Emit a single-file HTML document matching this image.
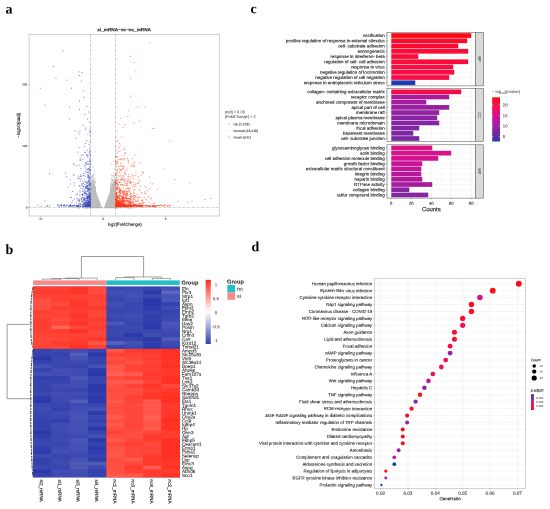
<!DOCTYPE html>
<html lang="en"><head><meta charset="utf-8"><title>Figure</title>
<style>
html,body{margin:0;padding:0;background:#fff;}
body{width:550px;height:509px;overflow:hidden;font-family:"Liberation Sans",sans-serif;}
svg{display:block;}
text{text-rendering:geometricPrecision;}
</style></head><body>
<svg width="550" height="509" viewBox="0 0 550 509">
<rect x="0" y="0" width="550" height="509" fill="#ffffff"/>
<text x="5.6" y="13.4" font-size="14" text-anchor="start" font-weight="bold" fill="#000" font-family='"Liberation Serif", serif' transform="rotate(0.03 5.6 13.4)">a</text>
<text x="5.6" y="254" font-size="14" text-anchor="start" font-weight="bold" fill="#000" font-family='"Liberation Serif", serif' transform="rotate(0.03 5.6 254)">b</text>
<text x="250.4" y="13.3" font-size="14" text-anchor="start" font-weight="bold" fill="#000" font-family='"Liberation Serif", serif' transform="rotate(0.03 250.4 13.3)">c</text>
<text x="251.4" y="251.2" font-size="14" text-anchor="start" font-weight="bold" fill="#000" font-family='"Liberation Serif", serif' transform="rotate(0.03 251.4 251.2)">d</text>
<g id="volcano">
<rect x="29.10" y="34.50" width="190.20" height="181.50" fill="#fff" stroke="#bdbdbd" stroke-width="0.7"/>
<polygon points="90.48,208.24 90.48,185.32 93.74,185.32 93.86,185.41 94.27,186.53 94.67,187.65 95.08,188.77 95.49,189.89 95.89,191.02 96.30,192.14 96.71,193.26 97.12,194.38 97.52,195.50 97.93,196.63 98.34,197.75 98.74,198.87 99.15,199.99 99.56,201.11 99.96,202.24 100.37,203.36 100.78,204.48 101.18,205.60 101.59,206.72 102.00,207.50 102.00,208.24" fill="#bcbcbc"/>
<polygon points="115.52,208.24 115.52,185.32 112.26,185.32 112.14,185.41 111.73,186.53 111.33,187.65 110.92,188.77 110.51,189.89 110.11,191.02 109.70,192.14 109.29,193.26 108.88,194.38 108.48,195.50 108.07,196.63 107.66,197.75 107.26,198.87 106.85,199.99 106.44,201.11 106.04,202.24 105.63,203.36 105.22,204.48 104.82,205.60 104.41,206.72 104.00,207.50 104.00,208.24" fill="#bcbcbc"/>
<g fill="#bcbcbc" fill-opacity="0.7">
<rect x="87.4" y="207.6" width="1" height="1"/>
<rect x="116.9" y="206.5" width="1" height="1"/>
<rect x="75.0" y="206.9" width="1" height="1"/>
<rect x="74.1" y="207.1" width="1" height="1"/>
<rect x="130.5" y="207.5" width="1" height="1"/>
<rect x="82.3" y="207.2" width="1" height="1"/>
<rect x="86.9" y="207.3" width="1" height="1"/>
<rect x="87.1" y="207.3" width="1" height="1"/>
<rect x="78.3" y="207.4" width="1" height="1"/>
<rect x="84.8" y="206.4" width="1" height="1"/>
<rect x="89.2" y="206.2" width="1" height="1"/>
<rect x="88.9" y="206.9" width="1" height="1"/>
<rect x="78.4" y="206.4" width="1" height="1"/>
<rect x="125.6" y="206.8" width="1" height="1"/>
<rect x="86.8" y="206.4" width="1" height="1"/>
<rect x="119.8" y="206.7" width="1" height="1"/>
<rect x="126.0" y="206.7" width="1" height="1"/>
<rect x="132.7" y="207.3" width="1" height="1"/>
<rect x="84.3" y="207.7" width="1" height="1"/>
<rect x="118.4" y="207.0" width="1" height="1"/>
<rect x="128.4" y="207.5" width="1" height="1"/>
<rect x="118.7" y="206.4" width="1" height="1"/>
<rect x="118.0" y="206.9" width="1" height="1"/>
<rect x="124.9" y="206.4" width="1" height="1"/>
<rect x="82.4" y="207.3" width="1" height="1"/>
<rect x="89.3" y="206.4" width="1" height="1"/>
<rect x="121.1" y="206.8" width="1" height="1"/>
<rect x="88.9" y="206.9" width="1" height="1"/>
<rect x="126.4" y="206.9" width="1" height="1"/>
<rect x="84.4" y="207.7" width="1" height="1"/>
<rect x="86.0" y="206.4" width="1" height="1"/>
<rect x="69.9" y="206.5" width="1" height="1"/>
<rect x="89.7" y="207.6" width="1" height="1"/>
<rect x="115.1" y="207.7" width="1" height="1"/>
<rect x="135.2" y="206.8" width="1" height="1"/>
<rect x="115.2" y="207.6" width="1" height="1"/>
<rect x="132.4" y="207.0" width="1" height="1"/>
<rect x="60.8" y="207.0" width="1" height="1"/>
<rect x="142.1" y="206.9" width="1" height="1"/>
<rect x="118.7" y="207.7" width="1" height="1"/>
<rect x="58.1" y="206.4" width="1" height="1"/>
<rect x="82.6" y="206.5" width="1" height="1"/>
<rect x="120.3" y="206.4" width="1" height="1"/>
<rect x="58.8" y="206.5" width="1" height="1"/>
<rect x="78.2" y="207.4" width="1" height="1"/>
<rect x="87.3" y="207.7" width="1" height="1"/>
<rect x="115.5" y="207.3" width="1" height="1"/>
<rect x="88.1" y="207.1" width="1" height="1"/>
<rect x="64.4" y="206.3" width="1" height="1"/>
<rect x="142.9" y="207.2" width="1" height="1"/>
<rect x="77.6" y="206.4" width="1" height="1"/>
<rect x="77.9" y="207.0" width="1" height="1"/>
<rect x="85.8" y="207.6" width="1" height="1"/>
<rect x="78.6" y="206.7" width="1" height="1"/>
<rect x="126.5" y="206.6" width="1" height="1"/>
<rect x="87.2" y="207.0" width="1" height="1"/>
<rect x="128.4" y="207.2" width="1" height="1"/>
<rect x="116.1" y="207.1" width="1" height="1"/>
<rect x="61.2" y="207.1" width="1" height="1"/>
<rect x="127.2" y="207.5" width="1" height="1"/>
<rect x="126.9" y="207.5" width="1" height="1"/>
<rect x="85.9" y="206.5" width="1" height="1"/>
<rect x="126.1" y="207.2" width="1" height="1"/>
<rect x="145.6" y="206.7" width="1" height="1"/>
<rect x="65.1" y="207.1" width="1" height="1"/>
<rect x="123.6" y="207.4" width="1" height="1"/>
<rect x="80.5" y="207.4" width="1" height="1"/>
<rect x="115.3" y="207.0" width="1" height="1"/>
<rect x="72.0" y="207.1" width="1" height="1"/>
<rect x="84.9" y="206.3" width="1" height="1"/>
<rect x="82.4" y="206.9" width="1" height="1"/>
<rect x="119.9" y="207.5" width="1" height="1"/>
<rect x="131.7" y="207.5" width="1" height="1"/>
<rect x="76.7" y="206.9" width="1" height="1"/>
<rect x="120.0" y="206.9" width="1" height="1"/>
<rect x="130.1" y="207.0" width="1" height="1"/>
<rect x="77.0" y="206.3" width="1" height="1"/>
<rect x="81.5" y="207.0" width="1" height="1"/>
<rect x="77.6" y="207.0" width="1" height="1"/>
<rect x="84.3" y="206.3" width="1" height="1"/>
<rect x="70.9" y="206.3" width="1" height="1"/>
<rect x="123.3" y="206.3" width="1" height="1"/>
<rect x="115.2" y="207.6" width="1" height="1"/>
<rect x="88.7" y="206.4" width="1" height="1"/>
<rect x="77.6" y="207.5" width="1" height="1"/>
<rect x="79.1" y="207.5" width="1" height="1"/>
<rect x="134.1" y="207.4" width="1" height="1"/>
<rect x="73.9" y="206.3" width="1" height="1"/>
<rect x="87.4" y="206.2" width="1" height="1"/>
<rect x="84.7" y="207.2" width="1" height="1"/>
<rect x="115.9" y="206.6" width="1" height="1"/>
<rect x="123.0" y="207.1" width="1" height="1"/>
<rect x="117.0" y="206.8" width="1" height="1"/>
<rect x="131.1" y="206.2" width="1" height="1"/>
<rect x="129.9" y="207.3" width="1" height="1"/>
<rect x="128.0" y="207.3" width="1" height="1"/>
<rect x="86.6" y="207.5" width="1" height="1"/>
<rect x="121.0" y="206.7" width="1" height="1"/>
<rect x="86.6" y="207.6" width="1" height="1"/>
<rect x="123.9" y="206.5" width="1" height="1"/>
<rect x="130.2" y="207.6" width="1" height="1"/>
<rect x="118.6" y="206.4" width="1" height="1"/>
<rect x="88.3" y="206.9" width="1" height="1"/>
<rect x="116.2" y="207.4" width="1" height="1"/>
<rect x="116.9" y="207.6" width="1" height="1"/>
<rect x="93.7" y="186.1" width="1" height="1"/>
<rect x="113.2" y="182.8" width="1" height="1"/>
<rect x="93.5" y="183.6" width="1" height="1"/>
<rect x="93.6" y="179.9" width="1" height="1"/>
<rect x="110.2" y="190.0" width="1" height="1"/>
<rect x="92.4" y="184.8" width="1" height="1"/>
<rect x="110.5" y="181.8" width="1" height="1"/>
<rect x="113.3" y="182.7" width="1" height="1"/>
<rect x="114.9" y="184.5" width="1" height="1"/>
<rect x="90.1" y="184.2" width="1" height="1"/>
<rect x="93.0" y="184.2" width="1" height="1"/>
<rect x="90.8" y="186.0" width="1" height="1"/>
<rect x="112.2" y="185.8" width="1" height="1"/>
<rect x="114.4" y="181.3" width="1" height="1"/>
<rect x="113.0" y="181.0" width="1" height="1"/>
<rect x="92.7" y="185.3" width="1" height="1"/>
<rect x="110.0" y="188.6" width="1" height="1"/>
<rect x="114.9" y="182.6" width="1" height="1"/>
<rect x="94.8" y="180.9" width="1" height="1"/>
<rect x="93.2" y="186.1" width="1" height="1"/>
<rect x="110.4" y="188.1" width="1" height="1"/>
<rect x="93.7" y="180.7" width="1" height="1"/>
<rect x="93.7" y="186.6" width="1" height="1"/>
<rect x="113.0" y="183.9" width="1" height="1"/>
<rect x="111.5" y="185.3" width="1" height="1"/>
<rect x="91.7" y="180.6" width="1" height="1"/>
<rect x="113.8" y="180.6" width="1" height="1"/>
<rect x="110.8" y="183.0" width="1" height="1"/>
<rect x="94.8" y="182.2" width="1" height="1"/>
<rect x="113.7" y="178.8" width="1" height="1"/>
<rect x="90.4" y="180.0" width="1" height="1"/>
<rect x="90.8" y="182.3" width="1" height="1"/>
<rect x="94.6" y="189.3" width="1" height="1"/>
<rect x="114.8" y="184.0" width="1" height="1"/>
<rect x="112.8" y="181.8" width="1" height="1"/>
<rect x="92.5" y="186.0" width="1" height="1"/>
<rect x="91.2" y="183.0" width="1" height="1"/>
<rect x="91.7" y="185.8" width="1" height="1"/>
<rect x="111.3" y="186.8" width="1" height="1"/>
<rect x="111.2" y="181.3" width="1" height="1"/>
<rect x="91.3" y="170.0" width="1" height="1"/>
<rect x="114.2" y="185.7" width="1" height="1"/>
<rect x="113.9" y="181.9" width="1" height="1"/>
<rect x="94.6" y="188.9" width="1" height="1"/>
<rect x="113.3" y="181.0" width="1" height="1"/>
<rect x="94.9" y="190.2" width="1" height="1"/>
<rect x="114.9" y="185.6" width="1" height="1"/>
<rect x="91.6" y="184.6" width="1" height="1"/>
<rect x="112.3" y="183.3" width="1" height="1"/>
<rect x="90.0" y="182.6" width="1" height="1"/>
<rect x="114.9" y="174.2" width="1" height="1"/>
<rect x="93.5" y="186.3" width="1" height="1"/>
<rect x="115.0" y="183.9" width="1" height="1"/>
<rect x="94.6" y="189.2" width="1" height="1"/>
<rect x="114.8" y="185.4" width="1" height="1"/>
<rect x="114.5" y="180.8" width="1" height="1"/>
<rect x="92.5" y="177.0" width="1" height="1"/>
<rect x="110.1" y="190.3" width="1" height="1"/>
<rect x="113.4" y="183.8" width="1" height="1"/>
<rect x="92.9" y="184.0" width="1" height="1"/>
<rect x="90.8" y="186.0" width="1" height="1"/>
<rect x="114.2" y="185.5" width="1" height="1"/>
<rect x="91.4" y="176.1" width="1" height="1"/>
<rect x="111.3" y="186.8" width="1" height="1"/>
<rect x="115.0" y="182.2" width="1" height="1"/>
<rect x="114.6" y="180.0" width="1" height="1"/>
<rect x="93.6" y="186.5" width="1" height="1"/>
<rect x="113.2" y="185.4" width="1" height="1"/>
<rect x="112.2" y="184.4" width="1" height="1"/>
<rect x="113.9" y="183.6" width="1" height="1"/>
<rect x="90.9" y="181.8" width="1" height="1"/>
<rect x="91.4" y="185.8" width="1" height="1"/>
<rect x="112.3" y="180.0" width="1" height="1"/>
<rect x="112.4" y="175.6" width="1" height="1"/>
<rect x="94.1" y="186.0" width="1" height="1"/>
<rect x="111.5" y="180.7" width="1" height="1"/>
<rect x="112.0" y="184.9" width="1" height="1"/>
<rect x="112.8" y="183.9" width="1" height="1"/>
<rect x="91.8" y="185.7" width="1" height="1"/>
<rect x="112.8" y="183.5" width="1" height="1"/>
<rect x="115.0" y="183.5" width="1" height="1"/>
<rect x="92.2" y="184.8" width="1" height="1"/>
<rect x="93.3" y="185.6" width="1" height="1"/>
<rect x="93.1" y="178.9" width="1" height="1"/>
<rect x="90.5" y="180.1" width="1" height="1"/>
<rect x="111.9" y="180.1" width="1" height="1"/>
<rect x="93.1" y="184.3" width="1" height="1"/>
<rect x="92.5" y="182.4" width="1" height="1"/>
<rect x="110.6" y="185.9" width="1" height="1"/>
<rect x="94.5" y="179.6" width="1" height="1"/>
<rect x="112.0" y="183.5" width="1" height="1"/>
<rect x="114.3" y="177.2" width="1" height="1"/>
<rect x="94.4" y="186.5" width="1" height="1"/>
<rect x="114.9" y="183.2" width="1" height="1"/>
<rect x="93.0" y="174.8" width="1" height="1"/>
<rect x="114.9" y="184.8" width="1" height="1"/>
<rect x="93.9" y="186.8" width="1" height="1"/>
<rect x="90.3" y="180.5" width="1" height="1"/>
<rect x="110.4" y="183.0" width="1" height="1"/>
<rect x="91.1" y="184.9" width="1" height="1"/>
<rect x="91.8" y="184.5" width="1" height="1"/>
<rect x="91.9" y="182.8" width="1" height="1"/>
<rect x="113.5" y="185.5" width="1" height="1"/>
<rect x="93.5" y="174.1" width="1" height="1"/>
<rect x="93.0" y="185.0" width="1" height="1"/>
<rect x="94.9" y="188.9" width="1" height="1"/>
<rect x="111.4" y="185.1" width="1" height="1"/>
<rect x="92.6" y="184.9" width="1" height="1"/>
<rect x="94.8" y="187.9" width="1" height="1"/>
<rect x="110.3" y="188.9" width="1" height="1"/>
<rect x="110.4" y="188.4" width="1" height="1"/>
<rect x="114.6" y="184.9" width="1" height="1"/>
<rect x="91.5" y="180.6" width="1" height="1"/>
<rect x="113.4" y="185.1" width="1" height="1"/>
<rect x="113.7" y="183.0" width="1" height="1"/>
<rect x="92.5" y="185.1" width="1" height="1"/>
<rect x="93.8" y="186.4" width="1" height="1"/>
<rect x="110.6" y="184.9" width="1" height="1"/>
<rect x="90.5" y="183.2" width="1" height="1"/>
<rect x="90.2" y="185.4" width="1" height="1"/>
<rect x="110.3" y="189.8" width="1" height="1"/>
<rect x="92.9" y="180.7" width="1" height="1"/>
<rect x="93.0" y="176.2" width="1" height="1"/>
<rect x="113.7" y="160.2" width="1" height="1"/>
<rect x="93.3" y="185.2" width="1" height="1"/>
<rect x="110.2" y="185.5" width="1" height="1"/>
<rect x="114.2" y="168.0" width="1" height="1"/>
<rect x="110.9" y="188.3" width="1" height="1"/>
<rect x="110.4" y="187.2" width="1" height="1"/>
<rect x="92.2" y="179.9" width="1" height="1"/>
<rect x="111.8" y="178.6" width="1" height="1"/>
<rect x="110.5" y="184.1" width="1" height="1"/>
<rect x="93.1" y="175.2" width="1" height="1"/>
<rect x="93.4" y="180.4" width="1" height="1"/>
<rect x="110.2" y="187.9" width="1" height="1"/>
<rect x="110.2" y="189.9" width="1" height="1"/>
<rect x="91.0" y="185.8" width="1" height="1"/>
<rect x="91.2" y="176.2" width="1" height="1"/>
<rect x="111.8" y="184.3" width="1" height="1"/>
<rect x="93.7" y="181.6" width="1" height="1"/>
<rect x="114.6" y="184.5" width="1" height="1"/>
<rect x="94.9" y="189.1" width="1" height="1"/>
<rect x="113.6" y="183.4" width="1" height="1"/>
<rect x="114.0" y="175.5" width="1" height="1"/>
<rect x="110.7" y="185.8" width="1" height="1"/>
<rect x="91.0" y="180.3" width="1" height="1"/>
<rect x="91.9" y="184.3" width="1" height="1"/>
<rect x="112.3" y="179.5" width="1" height="1"/>
<rect x="92.4" y="183.9" width="1" height="1"/>
<rect x="93.7" y="186.9" width="1" height="1"/>
<rect x="92.6" y="182.7" width="1" height="1"/>
<rect x="90.1" y="176.8" width="1" height="1"/>
<rect x="93.7" y="186.6" width="1" height="1"/>
<rect x="92.9" y="166.8" width="1" height="1"/>
<rect x="110.9" y="187.6" width="1" height="1"/>
<rect x="113.1" y="181.2" width="1" height="1"/>
<rect x="91.1" y="184.6" width="1" height="1"/>
<rect x="112.9" y="184.0" width="1" height="1"/>
<rect x="111.0" y="186.6" width="1" height="1"/>
<rect x="93.8" y="185.9" width="1" height="1"/>
<rect x="93.4" y="183.9" width="1" height="1"/>
<rect x="92.4" y="184.9" width="1" height="1"/>
<rect x="91.7" y="165.8" width="1" height="1"/>
<rect x="95.0" y="181.3" width="1" height="1"/>
<rect x="90.8" y="175.5" width="1" height="1"/>
<rect x="90.6" y="184.9" width="1" height="1"/>
<rect x="94.0" y="172.4" width="1" height="1"/>
<rect x="90.3" y="184.0" width="1" height="1"/>
<rect x="92.7" y="184.8" width="1" height="1"/>
<rect x="94.5" y="185.3" width="1" height="1"/>
<rect x="111.1" y="185.6" width="1" height="1"/>
<rect x="94.8" y="151.3" width="1" height="1"/>
<rect x="92.0" y="181.5" width="1" height="1"/>
<rect x="90.9" y="178.7" width="1" height="1"/>
<rect x="113.4" y="185.2" width="1" height="1"/>
<rect x="110.4" y="189.4" width="1" height="1"/>
<rect x="112.8" y="185.8" width="1" height="1"/>
<rect x="91.0" y="181.4" width="1" height="1"/>
<rect x="91.8" y="185.6" width="1" height="1"/>
<rect x="93.0" y="184.7" width="1" height="1"/>
<rect x="113.4" y="183.7" width="1" height="1"/>
<rect x="93.4" y="182.7" width="1" height="1"/>
<rect x="112.1" y="186.0" width="1" height="1"/>
<rect x="113.2" y="183.9" width="1" height="1"/>
<rect x="111.0" y="187.8" width="1" height="1"/>
<rect x="92.9" y="178.7" width="1" height="1"/>
<rect x="112.9" y="184.1" width="1" height="1"/>
<rect x="94.3" y="188.6" width="1" height="1"/>
<rect x="91.8" y="175.7" width="1" height="1"/>
<rect x="92.1" y="174.8" width="1" height="1"/>
<rect x="94.3" y="187.2" width="1" height="1"/>
<rect x="90.4" y="185.6" width="1" height="1"/>
<rect x="113.8" y="179.3" width="1" height="1"/>
<rect x="93.5" y="178.6" width="1" height="1"/>
<rect x="90.1" y="183.2" width="1" height="1"/>
<rect x="91.9" y="181.7" width="1" height="1"/>
<rect x="90.5" y="181.9" width="1" height="1"/>
<rect x="91.8" y="177.7" width="1" height="1"/>
<rect x="113.1" y="185.1" width="1" height="1"/>
<rect x="110.9" y="187.0" width="1" height="1"/>
<rect x="114.7" y="185.3" width="1" height="1"/>
<rect x="110.6" y="187.7" width="1" height="1"/>
<rect x="94.8" y="186.5" width="1" height="1"/>
<rect x="91.6" y="184.4" width="1" height="1"/>
<rect x="113.0" y="182.6" width="1" height="1"/>
<rect x="113.3" y="184.5" width="1" height="1"/>
<rect x="92.9" y="181.4" width="1" height="1"/>
<rect x="112.5" y="185.2" width="1" height="1"/>
<rect x="91.9" y="183.2" width="1" height="1"/>
<rect x="92.8" y="181.9" width="1" height="1"/>
<rect x="114.2" y="178.9" width="1" height="1"/>
<rect x="110.5" y="188.6" width="1" height="1"/>
<rect x="111.8" y="179.1" width="1" height="1"/>
<rect x="94.8" y="189.5" width="1" height="1"/>
<rect x="113.9" y="183.0" width="1" height="1"/>
<rect x="91.2" y="176.3" width="1" height="1"/>
<rect x="94.9" y="190.0" width="1" height="1"/>
<rect x="94.0" y="170.7" width="1" height="1"/>
<rect x="111.5" y="179.5" width="1" height="1"/>
<rect x="91.6" y="180.6" width="1" height="1"/>
<rect x="94.7" y="187.9" width="1" height="1"/>
<rect x="110.8" y="178.7" width="1" height="1"/>
<rect x="114.5" y="183.4" width="1" height="1"/>
<rect x="112.5" y="175.2" width="1" height="1"/>
<rect x="92.0" y="181.9" width="1" height="1"/>
<rect x="93.4" y="186.1" width="1" height="1"/>
<rect x="93.0" y="181.7" width="1" height="1"/>
<rect x="113.4" y="176.3" width="1" height="1"/>
<rect x="91.0" y="184.7" width="1" height="1"/>
<rect x="91.8" y="184.1" width="1" height="1"/>
<rect x="112.8" y="182.3" width="1" height="1"/>
<rect x="93.7" y="183.8" width="1" height="1"/>
<rect x="113.7" y="184.1" width="1" height="1"/>
<rect x="115.0" y="182.3" width="1" height="1"/>
<rect x="111.7" y="185.7" width="1" height="1"/>
<rect x="94.1" y="182.3" width="1" height="1"/>
<rect x="93.5" y="183.4" width="1" height="1"/>
<rect x="113.2" y="168.2" width="1" height="1"/>
<rect x="113.7" y="180.1" width="1" height="1"/>
<rect x="94.2" y="184.4" width="1" height="1"/>
<rect x="112.1" y="184.1" width="1" height="1"/>
<rect x="94.3" y="187.7" width="1" height="1"/>
<rect x="94.9" y="190.3" width="1" height="1"/>
<rect x="111.5" y="183.2" width="1" height="1"/>
<rect x="92.9" y="184.5" width="1" height="1"/>
<rect x="94.0" y="183.6" width="1" height="1"/>
<rect x="110.8" y="188.4" width="1" height="1"/>
<rect x="91.4" y="183.5" width="1" height="1"/>
<rect x="91.8" y="177.2" width="1" height="1"/>
<rect x="112.0" y="184.7" width="1" height="1"/>
<rect x="94.7" y="182.4" width="1" height="1"/>
<rect x="113.0" y="182.3" width="1" height="1"/>
<rect x="111.3" y="177.1" width="1" height="1"/>
<rect x="94.7" y="189.7" width="1" height="1"/>
<rect x="93.8" y="187.1" width="1" height="1"/>
<rect x="94.9" y="187.0" width="1" height="1"/>
<rect x="94.3" y="187.7" width="1" height="1"/>
<rect x="114.1" y="185.2" width="1" height="1"/>
<rect x="110.3" y="185.5" width="1" height="1"/>
<rect x="113.6" y="186.0" width="1" height="1"/>
<rect x="113.7" y="183.4" width="1" height="1"/>
<rect x="110.9" y="163.7" width="1" height="1"/>
<rect x="111.2" y="187.2" width="1" height="1"/>
<rect x="114.5" y="174.9" width="1" height="1"/>
<rect x="113.6" y="184.7" width="1" height="1"/>
<rect x="113.4" y="175.3" width="1" height="1"/>
<rect x="111.5" y="175.2" width="1" height="1"/>
<rect x="94.6" y="186.4" width="1" height="1"/>
<rect x="93.7" y="185.9" width="1" height="1"/>
<rect x="90.3" y="180.1" width="1" height="1"/>
<rect x="111.0" y="185.9" width="1" height="1"/>
<rect x="93.1" y="177.8" width="1" height="1"/>
<rect x="112.4" y="182.8" width="1" height="1"/>
<rect x="90.7" y="183.6" width="1" height="1"/>
<rect x="92.1" y="184.5" width="1" height="1"/>
<rect x="93.0" y="182.3" width="1" height="1"/>
<rect x="94.3" y="188.5" width="1" height="1"/>
<rect x="91.9" y="185.3" width="1" height="1"/>
<rect x="91.5" y="185.9" width="1" height="1"/>
<rect x="91.5" y="181.7" width="1" height="1"/>
<rect x="91.3" y="185.8" width="1" height="1"/>
<rect x="111.0" y="174.5" width="1" height="1"/>
<rect x="90.6" y="180.0" width="1" height="1"/>
<rect x="110.5" y="188.2" width="1" height="1"/>
<rect x="94.8" y="177.3" width="1" height="1"/>
<rect x="90.9" y="181.8" width="1" height="1"/>
<rect x="112.4" y="185.4" width="1" height="1"/>
<rect x="93.5" y="184.8" width="1" height="1"/>
<rect x="110.1" y="189.1" width="1" height="1"/>
<rect x="110.3" y="183.8" width="1" height="1"/>
<rect x="113.9" y="182.1" width="1" height="1"/>
<rect x="114.3" y="181.9" width="1" height="1"/>
<rect x="91.0" y="185.9" width="1" height="1"/>
<rect x="93.3" y="180.8" width="1" height="1"/>
<rect x="91.4" y="178.5" width="1" height="1"/>
<rect x="110.9" y="188.3" width="1" height="1"/>
<rect x="93.5" y="180.7" width="1" height="1"/>
<rect x="95.0" y="187.7" width="1" height="1"/>
<rect x="113.5" y="178.5" width="1" height="1"/>
<rect x="113.0" y="172.5" width="1" height="1"/>
</g>
<line x1="90.48" y1="34.5" x2="90.48" y2="216" stroke="#8a8a8a" stroke-width="0.5" stroke-dasharray="2.2 1 0.6 1"/>
<line x1="115.52" y1="34.5" x2="115.52" y2="216" stroke="#8a8a8a" stroke-width="0.5" stroke-dasharray="2.2 1 0.6 1"/>
<line x1="29.1" y1="207.5" x2="219.3" y2="207.5" stroke="#9a9a9a" stroke-width="0.5" stroke-dasharray="2.2 1 0.6 1"/>
<g fill="#3c4cc0" fill-opacity="0.68">
<rect x="87.1" y="188.1" width="1" height="1"/>
<rect x="89.3" y="170.8" width="1" height="1"/>
<rect x="78.8" y="200.7" width="1" height="1"/>
<rect x="89.3" y="147.7" width="1" height="1"/>
<rect x="84.1" y="192.1" width="1" height="1"/>
<rect x="86.7" y="203.9" width="1" height="1"/>
<rect x="88.4" y="204.1" width="1" height="1"/>
<rect x="79.4" y="159.6" width="1" height="1"/>
<rect x="84.5" y="194.7" width="1" height="1"/>
<rect x="85.8" y="196.5" width="1" height="1"/>
<rect x="88.5" y="194.5" width="1" height="1"/>
<rect x="86.8" y="202.3" width="1" height="1"/>
<rect x="73.8" y="185.3" width="1" height="1"/>
<rect x="78.4" y="203.4" width="1" height="1"/>
<rect x="86.4" y="181.7" width="1" height="1"/>
<rect x="86.3" y="205.5" width="1" height="1"/>
<rect x="86.5" y="190.8" width="1" height="1"/>
<rect x="81.9" y="193.7" width="1" height="1"/>
<rect x="86.7" y="198.0" width="1" height="1"/>
<rect x="87.5" y="181.7" width="1" height="1"/>
<rect x="88.8" y="200.7" width="1" height="1"/>
<rect x="88.4" y="184.6" width="1" height="1"/>
<rect x="85.2" y="191.4" width="1" height="1"/>
<rect x="88.7" y="176.8" width="1" height="1"/>
<rect x="83.0" y="186.1" width="1" height="1"/>
<rect x="84.8" y="129.1" width="1" height="1"/>
<rect x="84.8" y="186.9" width="1" height="1"/>
<rect x="88.3" y="200.6" width="1" height="1"/>
<rect x="77.5" y="199.9" width="1" height="1"/>
<rect x="89.3" y="183.7" width="1" height="1"/>
<rect x="89.1" y="202.8" width="1" height="1"/>
<rect x="89.3" y="198.7" width="1" height="1"/>
<rect x="88.6" y="199.5" width="1" height="1"/>
<rect x="89.5" y="155.4" width="1" height="1"/>
<rect x="88.7" y="160.9" width="1" height="1"/>
<rect x="87.5" y="205.9" width="1" height="1"/>
<rect x="82.3" y="194.2" width="1" height="1"/>
<rect x="88.6" y="205.7" width="1" height="1"/>
<rect x="88.8" y="178.1" width="1" height="1"/>
<rect x="90.0" y="200.4" width="1" height="1"/>
<rect x="82.3" y="180.9" width="1" height="1"/>
<rect x="86.4" y="184.4" width="1" height="1"/>
<rect x="82.5" y="183.1" width="1" height="1"/>
<rect x="85.7" y="162.2" width="1" height="1"/>
<rect x="85.9" y="187.8" width="1" height="1"/>
<rect x="88.9" y="202.0" width="1" height="1"/>
<rect x="89.4" y="194.3" width="1" height="1"/>
<rect x="88.8" y="180.9" width="1" height="1"/>
<rect x="81.0" y="200.4" width="1" height="1"/>
<rect x="87.9" y="180.1" width="1" height="1"/>
<rect x="89.3" y="166.5" width="1" height="1"/>
<rect x="87.3" y="205.8" width="1" height="1"/>
<rect x="82.1" y="190.9" width="1" height="1"/>
<rect x="85.6" y="163.0" width="1" height="1"/>
<rect x="81.0" y="197.9" width="1" height="1"/>
<rect x="89.9" y="168.9" width="1" height="1"/>
<rect x="80.4" y="203.8" width="1" height="1"/>
<rect x="88.8" y="201.1" width="1" height="1"/>
<rect x="84.9" y="142.9" width="1" height="1"/>
<rect x="89.1" y="197.2" width="1" height="1"/>
<rect x="82.5" y="193.4" width="1" height="1"/>
<rect x="89.1" y="192.7" width="1" height="1"/>
<rect x="89.9" y="173.3" width="1" height="1"/>
<rect x="88.1" y="197.4" width="1" height="1"/>
<rect x="84.6" y="193.4" width="1" height="1"/>
<rect x="71.4" y="201.9" width="1" height="1"/>
<rect x="87.1" y="149.7" width="1" height="1"/>
<rect x="84.7" y="186.3" width="1" height="1"/>
<rect x="85.9" y="200.1" width="1" height="1"/>
<rect x="88.1" y="204.9" width="1" height="1"/>
<rect x="89.7" y="154.5" width="1" height="1"/>
<rect x="86.0" y="182.7" width="1" height="1"/>
<rect x="86.5" y="203.8" width="1" height="1"/>
<rect x="88.5" y="195.5" width="1" height="1"/>
<rect x="77.7" y="131.7" width="1" height="1"/>
<rect x="77.0" y="193.2" width="1" height="1"/>
<rect x="89.3" y="150.7" width="1" height="1"/>
<rect x="89.7" y="172.7" width="1" height="1"/>
<rect x="89.1" y="184.7" width="1" height="1"/>
<rect x="84.9" y="170.9" width="1" height="1"/>
<rect x="89.3" y="183.2" width="1" height="1"/>
<rect x="82.9" y="173.0" width="1" height="1"/>
<rect x="84.3" y="184.2" width="1" height="1"/>
<rect x="83.9" y="192.9" width="1" height="1"/>
<rect x="83.8" y="200.7" width="1" height="1"/>
<rect x="85.1" y="181.8" width="1" height="1"/>
<rect x="73.7" y="182.4" width="1" height="1"/>
<rect x="87.3" y="171.9" width="1" height="1"/>
<rect x="83.6" y="196.9" width="1" height="1"/>
<rect x="85.7" y="198.1" width="1" height="1"/>
<rect x="87.3" y="185.7" width="1" height="1"/>
<rect x="89.6" y="158.6" width="1" height="1"/>
<rect x="89.3" y="198.6" width="1" height="1"/>
<rect x="88.0" y="204.3" width="1" height="1"/>
<rect x="86.6" y="198.0" width="1" height="1"/>
<rect x="78.5" y="190.4" width="1" height="1"/>
<rect x="88.3" y="187.9" width="1" height="1"/>
<rect x="85.7" y="201.3" width="1" height="1"/>
<rect x="89.7" y="198.9" width="1" height="1"/>
<rect x="86.2" y="188.1" width="1" height="1"/>
<rect x="82.3" y="201.9" width="1" height="1"/>
<rect x="87.6" y="174.0" width="1" height="1"/>
<rect x="89.0" y="195.4" width="1" height="1"/>
<rect x="86.9" y="186.5" width="1" height="1"/>
<rect x="89.6" y="157.6" width="1" height="1"/>
<rect x="86.8" y="185.0" width="1" height="1"/>
<rect x="88.6" y="191.9" width="1" height="1"/>
<rect x="89.0" y="204.5" width="1" height="1"/>
<rect x="82.7" y="182.9" width="1" height="1"/>
<rect x="89.5" y="203.6" width="1" height="1"/>
<rect x="87.8" y="169.4" width="1" height="1"/>
<rect x="87.4" y="189.1" width="1" height="1"/>
<rect x="87.3" y="156.8" width="1" height="1"/>
<rect x="85.2" y="200.3" width="1" height="1"/>
<rect x="89.3" y="187.0" width="1" height="1"/>
<rect x="84.7" y="202.5" width="1" height="1"/>
<rect x="88.4" y="181.3" width="1" height="1"/>
<rect x="87.2" y="198.8" width="1" height="1"/>
<rect x="87.5" y="194.6" width="1" height="1"/>
<rect x="85.5" y="202.0" width="1" height="1"/>
<rect x="88.2" y="184.4" width="1" height="1"/>
<rect x="89.9" y="205.2" width="1" height="1"/>
<rect x="83.4" y="204.1" width="1" height="1"/>
<rect x="87.3" y="176.6" width="1" height="1"/>
<rect x="89.4" y="201.2" width="1" height="1"/>
<rect x="87.8" y="203.4" width="1" height="1"/>
<rect x="89.6" y="183.7" width="1" height="1"/>
<rect x="88.3" y="174.6" width="1" height="1"/>
<rect x="86.7" y="155.2" width="1" height="1"/>
<rect x="88.6" y="197.4" width="1" height="1"/>
<rect x="88.8" y="205.1" width="1" height="1"/>
<rect x="88.6" y="197.0" width="1" height="1"/>
<rect x="87.3" y="197.7" width="1" height="1"/>
<rect x="73.3" y="163.0" width="1" height="1"/>
<rect x="88.3" y="201.4" width="1" height="1"/>
<rect x="87.3" y="203.6" width="1" height="1"/>
<rect x="89.1" y="180.0" width="1" height="1"/>
<rect x="89.4" y="130.7" width="1" height="1"/>
<rect x="87.9" y="189.3" width="1" height="1"/>
<rect x="87.9" y="188.3" width="1" height="1"/>
<rect x="87.9" y="203.8" width="1" height="1"/>
<rect x="89.8" y="170.1" width="1" height="1"/>
<rect x="87.4" y="175.8" width="1" height="1"/>
<rect x="89.7" y="191.6" width="1" height="1"/>
<rect x="86.8" y="196.3" width="1" height="1"/>
<rect x="89.3" y="182.7" width="1" height="1"/>
<rect x="85.3" y="162.4" width="1" height="1"/>
<rect x="89.6" y="205.4" width="1" height="1"/>
<rect x="86.0" y="185.6" width="1" height="1"/>
<rect x="89.2" y="183.4" width="1" height="1"/>
<rect x="81.8" y="194.7" width="1" height="1"/>
<rect x="89.6" y="150.3" width="1" height="1"/>
<rect x="89.9" y="163.2" width="1" height="1"/>
<rect x="89.4" y="198.4" width="1" height="1"/>
<rect x="85.0" y="164.7" width="1" height="1"/>
<rect x="89.2" y="205.5" width="1" height="1"/>
<rect x="89.9" y="188.7" width="1" height="1"/>
<rect x="86.5" y="154.9" width="1" height="1"/>
<rect x="87.2" y="190.7" width="1" height="1"/>
<rect x="83.0" y="175.1" width="1" height="1"/>
<rect x="87.8" y="181.3" width="1" height="1"/>
<rect x="87.9" y="204.7" width="1" height="1"/>
<rect x="85.4" y="187.3" width="1" height="1"/>
<rect x="85.7" y="202.7" width="1" height="1"/>
<rect x="84.1" y="189.5" width="1" height="1"/>
<rect x="89.6" y="192.8" width="1" height="1"/>
<rect x="80.9" y="185.6" width="1" height="1"/>
<rect x="87.7" y="206.0" width="1" height="1"/>
<rect x="82.1" y="201.0" width="1" height="1"/>
<rect x="89.5" y="192.8" width="1" height="1"/>
<rect x="88.7" y="188.6" width="1" height="1"/>
<rect x="87.6" y="177.6" width="1" height="1"/>
<rect x="79.7" y="196.7" width="1" height="1"/>
<rect x="84.5" y="181.3" width="1" height="1"/>
<rect x="89.4" y="176.4" width="1" height="1"/>
<rect x="88.6" y="189.1" width="1" height="1"/>
<rect x="87.2" y="183.0" width="1" height="1"/>
<rect x="81.1" y="154.9" width="1" height="1"/>
<rect x="89.8" y="205.5" width="1" height="1"/>
<rect x="89.7" y="161.2" width="1" height="1"/>
<rect x="85.3" y="186.0" width="1" height="1"/>
<rect x="88.0" y="198.4" width="1" height="1"/>
<rect x="86.3" y="140.0" width="1" height="1"/>
<rect x="82.8" y="186.5" width="1" height="1"/>
<rect x="88.5" y="144.0" width="1" height="1"/>
<rect x="84.8" y="192.9" width="1" height="1"/>
<rect x="89.3" y="135.2" width="1" height="1"/>
<rect x="89.5" y="141.8" width="1" height="1"/>
<rect x="89.3" y="172.3" width="1" height="1"/>
<rect x="87.4" y="174.7" width="1" height="1"/>
<rect x="87.6" y="199.6" width="1" height="1"/>
<rect x="84.3" y="197.7" width="1" height="1"/>
<rect x="88.7" y="185.8" width="1" height="1"/>
<rect x="85.8" y="172.3" width="1" height="1"/>
<rect x="86.3" y="163.5" width="1" height="1"/>
<rect x="84.8" y="205.9" width="1" height="1"/>
<rect x="89.3" y="168.8" width="1" height="1"/>
<rect x="88.8" y="195.9" width="1" height="1"/>
<rect x="88.1" y="175.3" width="1" height="1"/>
<rect x="88.9" y="193.6" width="1" height="1"/>
<rect x="85.3" y="198.1" width="1" height="1"/>
<rect x="88.7" y="202.6" width="1" height="1"/>
<rect x="79.8" y="176.0" width="1" height="1"/>
<rect x="83.9" y="199.1" width="1" height="1"/>
<rect x="89.4" y="159.9" width="1" height="1"/>
<rect x="89.3" y="128.6" width="1" height="1"/>
<rect x="83.6" y="189.6" width="1" height="1"/>
<rect x="84.0" y="191.7" width="1" height="1"/>
<rect x="86.9" y="189.9" width="1" height="1"/>
<rect x="87.3" y="196.1" width="1" height="1"/>
<rect x="83.8" y="179.4" width="1" height="1"/>
<rect x="73.8" y="198.4" width="1" height="1"/>
<rect x="89.7" y="195.7" width="1" height="1"/>
<rect x="85.0" y="151.7" width="1" height="1"/>
<rect x="86.4" y="206.0" width="1" height="1"/>
<rect x="88.0" y="189.9" width="1" height="1"/>
<rect x="86.9" y="197.0" width="1" height="1"/>
<rect x="89.7" y="195.6" width="1" height="1"/>
<rect x="87.0" y="199.9" width="1" height="1"/>
<rect x="82.8" y="198.1" width="1" height="1"/>
<rect x="87.2" y="201.5" width="1" height="1"/>
<rect x="89.0" y="204.2" width="1" height="1"/>
<rect x="83.4" y="199.0" width="1" height="1"/>
<rect x="86.5" y="196.9" width="1" height="1"/>
<rect x="83.9" y="165.5" width="1" height="1"/>
<rect x="88.8" y="152.6" width="1" height="1"/>
<rect x="87.3" y="164.0" width="1" height="1"/>
<rect x="88.1" y="193.2" width="1" height="1"/>
<rect x="89.6" y="198.3" width="1" height="1"/>
<rect x="89.9" y="199.3" width="1" height="1"/>
<rect x="86.2" y="204.1" width="1" height="1"/>
<rect x="89.1" y="163.3" width="1" height="1"/>
<rect x="86.6" y="187.7" width="1" height="1"/>
<rect x="89.0" y="151.8" width="1" height="1"/>
<rect x="88.7" y="204.1" width="1" height="1"/>
<rect x="87.6" y="187.4" width="1" height="1"/>
<rect x="86.2" y="203.3" width="1" height="1"/>
<rect x="82.5" y="197.5" width="1" height="1"/>
<rect x="88.1" y="205.6" width="1" height="1"/>
<rect x="89.8" y="196.5" width="1" height="1"/>
<rect x="85.1" y="192.2" width="1" height="1"/>
<rect x="82.5" y="159.0" width="1" height="1"/>
<rect x="82.0" y="184.8" width="1" height="1"/>
<rect x="79.8" y="180.5" width="1" height="1"/>
<rect x="89.6" y="198.2" width="1" height="1"/>
<rect x="88.9" y="204.2" width="1" height="1"/>
<rect x="79.8" y="191.4" width="1" height="1"/>
<rect x="89.2" y="166.5" width="1" height="1"/>
<rect x="88.1" y="200.6" width="1" height="1"/>
<rect x="84.9" y="202.2" width="1" height="1"/>
<rect x="78.6" y="146.9" width="1" height="1"/>
<rect x="89.7" y="189.3" width="1" height="1"/>
<rect x="89.9" y="153.5" width="1" height="1"/>
<rect x="88.8" y="191.1" width="1" height="1"/>
<rect x="84.6" y="176.2" width="1" height="1"/>
<rect x="87.3" y="204.0" width="1" height="1"/>
<rect x="88.4" y="206.1" width="1" height="1"/>
<rect x="89.1" y="177.3" width="1" height="1"/>
<rect x="86.4" y="194.0" width="1" height="1"/>
<rect x="85.7" y="192.9" width="1" height="1"/>
<rect x="88.1" y="195.8" width="1" height="1"/>
<rect x="88.1" y="196.2" width="1" height="1"/>
<rect x="87.6" y="171.7" width="1" height="1"/>
<rect x="80.1" y="159.6" width="1" height="1"/>
<rect x="87.5" y="155.2" width="1" height="1"/>
<rect x="83.6" y="202.6" width="1" height="1"/>
<rect x="82.8" y="204.5" width="1" height="1"/>
<rect x="86.1" y="196.4" width="1" height="1"/>
<rect x="84.4" y="174.6" width="1" height="1"/>
<rect x="77.3" y="151.7" width="1" height="1"/>
<rect x="88.0" y="205.7" width="1" height="1"/>
<rect x="89.7" y="131.1" width="1" height="1"/>
<rect x="88.4" y="200.6" width="1" height="1"/>
<rect x="89.5" y="196.7" width="1" height="1"/>
<rect x="88.4" y="178.3" width="1" height="1"/>
<rect x="89.2" y="193.6" width="1" height="1"/>
<rect x="81.2" y="194.1" width="1" height="1"/>
<rect x="89.3" y="194.9" width="1" height="1"/>
<rect x="88.8" y="205.7" width="1" height="1"/>
<rect x="86.6" y="198.8" width="1" height="1"/>
<rect x="83.4" y="199.9" width="1" height="1"/>
<rect x="89.5" y="193.4" width="1" height="1"/>
<rect x="87.3" y="202.7" width="1" height="1"/>
<rect x="87.1" y="185.3" width="1" height="1"/>
<rect x="83.8" y="151.9" width="1" height="1"/>
<rect x="86.7" y="168.4" width="1" height="1"/>
<rect x="89.5" y="176.8" width="1" height="1"/>
<rect x="75.8" y="194.4" width="1" height="1"/>
<rect x="88.8" y="200.5" width="1" height="1"/>
<rect x="88.9" y="195.8" width="1" height="1"/>
<rect x="87.8" y="202.5" width="1" height="1"/>
<rect x="89.4" y="184.8" width="1" height="1"/>
<rect x="87.6" y="191.4" width="1" height="1"/>
<rect x="87.1" y="193.9" width="1" height="1"/>
<rect x="83.7" y="146.0" width="1" height="1"/>
<rect x="88.6" y="196.8" width="1" height="1"/>
<rect x="89.8" y="195.2" width="1" height="1"/>
<rect x="88.7" y="202.0" width="1" height="1"/>
<rect x="82.6" y="190.8" width="1" height="1"/>
<rect x="88.9" y="202.2" width="1" height="1"/>
<rect x="86.3" y="169.2" width="1" height="1"/>
<rect x="81.2" y="178.7" width="1" height="1"/>
<rect x="84.2" y="202.2" width="1" height="1"/>
<rect x="89.4" y="183.0" width="1" height="1"/>
<rect x="86.0" y="201.7" width="1" height="1"/>
<rect x="88.5" y="206.0" width="1" height="1"/>
<rect x="85.3" y="190.8" width="1" height="1"/>
<rect x="82.6" y="154.3" width="1" height="1"/>
<rect x="87.1" y="197.3" width="1" height="1"/>
<rect x="88.7" y="184.8" width="1" height="1"/>
<rect x="78.3" y="204.2" width="1" height="1"/>
<rect x="87.9" y="176.0" width="1" height="1"/>
<rect x="89.4" y="183.3" width="1" height="1"/>
<rect x="88.8" y="188.9" width="1" height="1"/>
<rect x="73.0" y="205.4" width="1" height="1"/>
<rect x="85.1" y="188.3" width="1" height="1"/>
<rect x="82.2" y="197.0" width="1" height="1"/>
<rect x="79.2" y="133.6" width="1" height="1"/>
<rect x="89.7" y="197.0" width="1" height="1"/>
<rect x="88.9" y="169.1" width="1" height="1"/>
<rect x="80.2" y="174.6" width="1" height="1"/>
<rect x="81.9" y="188.2" width="1" height="1"/>
<rect x="80.8" y="199.0" width="1" height="1"/>
<rect x="89.5" y="178.7" width="1" height="1"/>
<rect x="87.6" y="205.7" width="1" height="1"/>
<rect x="83.4" y="203.2" width="1" height="1"/>
<rect x="88.9" y="204.3" width="1" height="1"/>
<rect x="86.1" y="202.4" width="1" height="1"/>
<rect x="88.5" y="189.2" width="1" height="1"/>
<rect x="77.5" y="205.8" width="1" height="1"/>
<rect x="79.5" y="178.1" width="1" height="1"/>
<rect x="88.8" y="168.2" width="1" height="1"/>
<rect x="85.9" y="193.1" width="1" height="1"/>
<rect x="88.9" y="193.9" width="1" height="1"/>
<rect x="88.2" y="204.1" width="1" height="1"/>
<rect x="89.2" y="199.5" width="1" height="1"/>
<rect x="87.5" y="187.7" width="1" height="1"/>
<rect x="84.2" y="203.8" width="1" height="1"/>
<rect x="89.5" y="161.0" width="1" height="1"/>
<rect x="86.9" y="200.8" width="1" height="1"/>
<rect x="88.9" y="183.1" width="1" height="1"/>
<rect x="87.5" y="195.6" width="1" height="1"/>
<rect x="78.1" y="205.8" width="1" height="1"/>
<rect x="85.9" y="181.4" width="1" height="1"/>
<rect x="86.3" y="186.9" width="1" height="1"/>
<rect x="89.8" y="132.4" width="1" height="1"/>
<rect x="89.8" y="196.7" width="1" height="1"/>
<rect x="87.9" y="168.0" width="1" height="1"/>
<rect x="84.9" y="167.4" width="1" height="1"/>
<rect x="88.4" y="195.5" width="1" height="1"/>
<rect x="86.7" y="198.0" width="1" height="1"/>
<rect x="89.3" y="182.3" width="1" height="1"/>
<rect x="88.2" y="163.4" width="1" height="1"/>
<rect x="85.6" y="206.0" width="1" height="1"/>
<rect x="89.5" y="201.9" width="1" height="1"/>
<rect x="88.4" y="201.5" width="1" height="1"/>
<rect x="85.5" y="200.8" width="1" height="1"/>
<rect x="87.8" y="195.6" width="1" height="1"/>
<rect x="87.6" y="205.2" width="1" height="1"/>
<rect x="74.3" y="130.3" width="1" height="1"/>
<rect x="89.8" y="164.2" width="1" height="1"/>
<rect x="86.1" y="153.8" width="1" height="1"/>
<rect x="86.1" y="185.5" width="1" height="1"/>
<rect x="83.4" y="205.4" width="1" height="1"/>
<rect x="89.6" y="203.5" width="1" height="1"/>
<rect x="89.9" y="200.5" width="1" height="1"/>
<rect x="89.8" y="203.7" width="1" height="1"/>
<rect x="88.3" y="202.4" width="1" height="1"/>
<rect x="89.7" y="139.3" width="1" height="1"/>
<rect x="79.8" y="157.7" width="1" height="1"/>
<rect x="89.6" y="187.5" width="1" height="1"/>
<rect x="79.2" y="194.1" width="1" height="1"/>
<rect x="87.1" y="160.9" width="1" height="1"/>
<rect x="80.1" y="188.2" width="1" height="1"/>
<rect x="88.7" y="178.3" width="1" height="1"/>
<rect x="84.6" y="199.1" width="1" height="1"/>
<rect x="87.6" y="181.3" width="1" height="1"/>
<rect x="89.0" y="196.0" width="1" height="1"/>
<rect x="86.8" y="196.6" width="1" height="1"/>
<rect x="81.1" y="198.6" width="1" height="1"/>
<rect x="87.4" y="170.4" width="1" height="1"/>
<rect x="89.9" y="197.7" width="1" height="1"/>
<rect x="89.1" y="189.7" width="1" height="1"/>
<rect x="70.3" y="205.0" width="1" height="1"/>
<rect x="75.4" y="205.8" width="1" height="1"/>
<rect x="72.9" y="205.2" width="1" height="1"/>
<rect x="87.8" y="205.4" width="1" height="1"/>
<rect x="78.1" y="205.6" width="1" height="1"/>
<rect x="89.6" y="206.1" width="1" height="1"/>
<rect x="85.5" y="203.9" width="1" height="1"/>
<rect x="87.6" y="203.6" width="1" height="1"/>
<rect x="85.9" y="201.8" width="1" height="1"/>
<rect x="87.5" y="202.7" width="1" height="1"/>
<rect x="85.8" y="195.0" width="1" height="1"/>
<rect x="83.6" y="199.5" width="1" height="1"/>
<rect x="86.9" y="203.5" width="1" height="1"/>
<rect x="89.1" y="205.6" width="1" height="1"/>
<rect x="84.7" y="205.4" width="1" height="1"/>
<rect x="79.7" y="206.0" width="1" height="1"/>
<rect x="79.1" y="199.9" width="1" height="1"/>
<rect x="88.2" y="203.7" width="1" height="1"/>
<rect x="84.3" y="203.2" width="1" height="1"/>
<rect x="87.0" y="205.9" width="1" height="1"/>
<rect x="87.0" y="204.2" width="1" height="1"/>
<rect x="89.3" y="205.0" width="1" height="1"/>
<rect x="89.1" y="201.5" width="1" height="1"/>
<rect x="88.1" y="203.8" width="1" height="1"/>
<rect x="89.3" y="201.5" width="1" height="1"/>
<rect x="83.3" y="205.4" width="1" height="1"/>
<rect x="87.5" y="205.1" width="1" height="1"/>
<rect x="85.8" y="204.0" width="1" height="1"/>
<rect x="84.1" y="206.2" width="1" height="1"/>
<rect x="82.3" y="194.9" width="1" height="1"/>
<rect x="87.3" y="205.3" width="1" height="1"/>
<rect x="85.6" y="202.2" width="1" height="1"/>
<rect x="86.8" y="205.0" width="1" height="1"/>
<rect x="88.5" y="202.0" width="1" height="1"/>
<rect x="87.7" y="197.6" width="1" height="1"/>
<rect x="84.7" y="205.5" width="1" height="1"/>
<rect x="87.8" y="197.4" width="1" height="1"/>
<rect x="77.5" y="198.5" width="1" height="1"/>
<rect x="89.8" y="205.5" width="1" height="1"/>
<rect x="77.2" y="205.3" width="1" height="1"/>
<rect x="85.6" y="205.3" width="1" height="1"/>
<rect x="84.5" y="204.8" width="1" height="1"/>
<rect x="80.1" y="203.0" width="1" height="1"/>
<rect x="86.8" y="204.7" width="1" height="1"/>
<rect x="89.7" y="203.4" width="1" height="1"/>
<rect x="86.6" y="206.2" width="1" height="1"/>
<rect x="89.6" y="205.6" width="1" height="1"/>
<rect x="87.0" y="204.5" width="1" height="1"/>
<rect x="84.1" y="199.7" width="1" height="1"/>
<rect x="89.0" y="205.7" width="1" height="1"/>
<rect x="86.9" y="204.9" width="1" height="1"/>
<rect x="81.8" y="200.5" width="1" height="1"/>
<rect x="85.0" y="203.3" width="1" height="1"/>
<rect x="82.2" y="206.0" width="1" height="1"/>
<rect x="87.4" y="205.1" width="1" height="1"/>
<rect x="89.5" y="205.3" width="1" height="1"/>
<rect x="88.9" y="203.6" width="1" height="1"/>
<rect x="88.0" y="205.2" width="1" height="1"/>
<rect x="74.5" y="204.4" width="1" height="1"/>
<rect x="70.0" y="203.7" width="1" height="1"/>
<rect x="85.8" y="202.0" width="1" height="1"/>
<rect x="88.7" y="200.7" width="1" height="1"/>
<rect x="87.0" y="206.0" width="1" height="1"/>
<rect x="85.3" y="205.9" width="1" height="1"/>
<rect x="85.2" y="203.7" width="1" height="1"/>
<rect x="82.8" y="203.3" width="1" height="1"/>
<rect x="89.9" y="206.2" width="1" height="1"/>
<rect x="83.0" y="204.2" width="1" height="1"/>
<rect x="76.0" y="205.0" width="1" height="1"/>
<rect x="89.4" y="206.2" width="1" height="1"/>
<rect x="89.8" y="205.7" width="1" height="1"/>
<rect x="81.7" y="204.1" width="1" height="1"/>
<rect x="78.4" y="200.6" width="1" height="1"/>
<rect x="85.9" y="205.8" width="1" height="1"/>
<rect x="88.7" y="203.9" width="1" height="1"/>
<rect x="89.1" y="204.4" width="1" height="1"/>
<rect x="86.0" y="206.1" width="1" height="1"/>
<rect x="89.5" y="198.9" width="1" height="1"/>
<rect x="86.2" y="204.6" width="1" height="1"/>
<rect x="86.8" y="202.2" width="1" height="1"/>
<rect x="84.1" y="203.4" width="1" height="1"/>
<rect x="85.1" y="205.8" width="1" height="1"/>
<rect x="88.4" y="205.4" width="1" height="1"/>
<rect x="89.8" y="203.8" width="1" height="1"/>
<rect x="78.9" y="198.9" width="1" height="1"/>
<rect x="89.6" y="205.7" width="1" height="1"/>
<rect x="84.5" y="206.2" width="1" height="1"/>
<rect x="88.6" y="205.0" width="1" height="1"/>
<rect x="81.8" y="206.1" width="1" height="1"/>
<rect x="89.7" y="205.5" width="1" height="1"/>
<rect x="88.6" y="205.8" width="1" height="1"/>
<rect x="85.0" y="205.7" width="1" height="1"/>
<rect x="89.9" y="201.2" width="1" height="1"/>
<rect x="86.6" y="204.9" width="1" height="1"/>
<rect x="88.3" y="200.8" width="1" height="1"/>
<rect x="68.1" y="206.0" width="1" height="1"/>
<rect x="83.6" y="203.4" width="1" height="1"/>
<rect x="85.0" y="204.9" width="1" height="1"/>
<rect x="87.1" y="203.1" width="1" height="1"/>
<rect x="89.9" y="201.2" width="1" height="1"/>
<rect x="89.5" y="205.7" width="1" height="1"/>
<rect x="87.3" y="206.2" width="1" height="1"/>
<rect x="77.9" y="205.0" width="1" height="1"/>
<rect x="87.4" y="205.2" width="1" height="1"/>
<rect x="78.4" y="205.2" width="1" height="1"/>
<rect x="84.0" y="198.2" width="1" height="1"/>
<rect x="86.9" y="200.2" width="1" height="1"/>
<rect x="85.4" y="205.0" width="1" height="1"/>
<rect x="86.4" y="205.2" width="1" height="1"/>
<rect x="86.8" y="205.4" width="1" height="1"/>
<rect x="89.8" y="202.2" width="1" height="1"/>
<rect x="88.4" y="205.9" width="1" height="1"/>
<rect x="88.7" y="204.3" width="1" height="1"/>
<rect x="81.3" y="204.2" width="1" height="1"/>
<rect x="86.4" y="202.3" width="1" height="1"/>
<rect x="88.4" y="205.1" width="1" height="1"/>
<rect x="88.6" y="204.9" width="1" height="1"/>
<rect x="84.4" y="204.1" width="1" height="1"/>
<rect x="88.0" y="204.6" width="1" height="1"/>
<rect x="88.7" y="201.4" width="1" height="1"/>
<rect x="83.6" y="199.2" width="1" height="1"/>
<rect x="84.9" y="204.8" width="1" height="1"/>
<rect x="64.0" y="204.3" width="1" height="1"/>
<rect x="87.1" y="204.4" width="1" height="1"/>
<rect x="89.2" y="202.8" width="1" height="1"/>
<rect x="83.6" y="206.0" width="1" height="1"/>
<rect x="79.2" y="202.9" width="1" height="1"/>
<rect x="81.8" y="206.1" width="1" height="1"/>
<rect x="82.8" y="205.8" width="1" height="1"/>
<rect x="89.9" y="203.1" width="1" height="1"/>
<rect x="83.3" y="202.5" width="1" height="1"/>
<rect x="88.5" y="205.7" width="1" height="1"/>
<rect x="77.5" y="206.0" width="1" height="1"/>
<rect x="76.2" y="202.2" width="1" height="1"/>
<rect x="82.0" y="205.7" width="1" height="1"/>
<rect x="82.8" y="206.0" width="1" height="1"/>
<rect x="88.1" y="202.0" width="1" height="1"/>
<rect x="65.8" y="204.7" width="1" height="1"/>
<rect x="69.5" y="205.4" width="1" height="1"/>
<rect x="61.6" y="204.7" width="1" height="1"/>
<rect x="60.9" y="204.5" width="1" height="1"/>
<rect x="72.0" y="204.8" width="1" height="1"/>
<rect x="63.9" y="205.0" width="1" height="1"/>
<rect x="76.6" y="204.9" width="1" height="1"/>
<rect x="77.4" y="205.4" width="1" height="1"/>
<rect x="61.0" y="204.6" width="1" height="1"/>
<rect x="80.0" y="206.0" width="1" height="1"/>
<rect x="76.1" y="205.1" width="1" height="1"/>
<rect x="65.5" y="205.8" width="1" height="1"/>
<rect x="71.5" y="205.1" width="1" height="1"/>
<rect x="62.8" y="205.4" width="1" height="1"/>
<rect x="79.5" y="204.9" width="1" height="1"/>
<rect x="69.0" y="205.2" width="1" height="1"/>
<rect x="49.2" y="205.2" width="1" height="1"/>
<rect x="47.4" y="205.8" width="1" height="1"/>
<rect x="57.2" y="204.5" width="1" height="1"/>
<rect x="79.7" y="205.0" width="1" height="1"/>
<rect x="40.8" y="206.0" width="1" height="1"/>
<rect x="59.9" y="204.8" width="1" height="1"/>
<rect x="57.3" y="204.6" width="1" height="1"/>
<rect x="46.5" y="205.2" width="1" height="1"/>
<rect x="63.1" y="205.0" width="1" height="1"/>
<rect x="64.0" y="204.8" width="1" height="1"/>
<rect x="76.2" y="205.6" width="1" height="1"/>
<rect x="63.3" y="204.9" width="1" height="1"/>
<rect x="69.9" y="204.4" width="1" height="1"/>
<rect x="70.0" y="205.3" width="1" height="1"/>
<rect x="71.2" y="205.6" width="1" height="1"/>
<rect x="60.7" y="205.6" width="1" height="1"/>
<rect x="73.6" y="205.3" width="1" height="1"/>
<rect x="66.4" y="205.1" width="1" height="1"/>
<rect x="46.7" y="205.3" width="1" height="1"/>
<rect x="74.3" y="205.0" width="1" height="1"/>
<rect x="68.5" y="204.7" width="1" height="1"/>
<rect x="76.1" y="205.9" width="1" height="1"/>
<rect x="58.5" y="204.5" width="1" height="1"/>
<rect x="69.0" y="205.9" width="1" height="1"/>
<rect x="58.6" y="205.9" width="1" height="1"/>
<rect x="77.3" y="205.7" width="1" height="1"/>
<rect x="66.4" y="204.5" width="1" height="1"/>
<rect x="71.4" y="206.0" width="1" height="1"/>
<rect x="70.9" y="196.8" width="1" height="1"/>
<rect x="70.0" y="183.5" width="1" height="1"/>
<rect x="73.4" y="175.1" width="1" height="1"/>
<rect x="81.1" y="175.7" width="1" height="1"/>
<rect x="79.0" y="177.6" width="1" height="1"/>
<rect x="69.9" y="197.0" width="1" height="1"/>
<rect x="69.7" y="179.6" width="1" height="1"/>
<rect x="77.3" y="178.0" width="1" height="1"/>
<rect x="79.3" y="185.9" width="1" height="1"/>
<rect x="65.9" y="176.2" width="1" height="1"/>
<rect x="78.7" y="164.7" width="1" height="1"/>
<rect x="67.6" y="186.6" width="1" height="1"/>
<rect x="77.9" y="175.7" width="1" height="1"/>
<rect x="81.0" y="183.5" width="1" height="1"/>
<rect x="80.5" y="167.9" width="1" height="1"/>
<rect x="76.3" y="197.8" width="1" height="1"/>
<rect x="76.2" y="165.3" width="1" height="1"/>
<rect x="78.6" y="185.1" width="1" height="1"/>
<rect x="72.0" y="191.0" width="1" height="1"/>
<rect x="72.1" y="200.3" width="1" height="1"/>
<rect x="73.6" y="164.7" width="1" height="1"/>
<rect x="73.3" y="173.5" width="1" height="1"/>
<rect x="62.7" y="50.2" width="1" height="1"/>
<rect x="52.9" y="65.9" width="1" height="1"/>
<rect x="78.3" y="71.3" width="1" height="1"/>
<rect x="81.5" y="72.0" width="1" height="1"/>
<rect x="55.4" y="77.5" width="1" height="1"/>
<rect x="66.3" y="79.7" width="1" height="1"/>
<rect x="39.8" y="87.7" width="1" height="1"/>
<rect x="71.0" y="87.7" width="1" height="1"/>
<rect x="79.0" y="75.0" width="1" height="1"/>
<rect x="80.9" y="80.5" width="1" height="1"/>
<rect x="82.7" y="90.5" width="1" height="1"/>
<rect x="44.5" y="104.8" width="1" height="1"/>
<rect x="79.0" y="100.5" width="1" height="1"/>
<rect x="68.9" y="106.5" width="1" height="1"/>
<rect x="83.8" y="96.8" width="1" height="1"/>
<rect x="86.3" y="105.9" width="1" height="1"/>
<rect x="79.0" y="108.8" width="1" height="1"/>
<rect x="84.5" y="113.9" width="1" height="1"/>
<rect x="68.9" y="118.5" width="1" height="1"/>
<rect x="87.0" y="118.5" width="1" height="1"/>
<rect x="82.7" y="124.8" width="1" height="1"/>
<rect x="89.2" y="122.2" width="1" height="1"/>
<rect x="88.0" y="111.5" width="1" height="1"/>
<rect x="85.5" y="127.5" width="1" height="1"/>
<rect x="79.5" y="130.5" width="1" height="1"/>
<rect x="87.5" y="133.5" width="1" height="1"/>
<rect x="75.5" y="137.5" width="1" height="1"/>
<rect x="49.0" y="173.0" width="1" height="1"/>
<rect x="65.0" y="172.5" width="1" height="1"/>
<rect x="37.5" y="204.5" width="1" height="1"/>
<rect x="44.5" y="200.5" width="1" height="1"/>
</g>
<g fill="#ff3a18" fill-opacity="0.62">
<rect x="118.0" y="199.6" width="1" height="1"/>
<rect x="117.3" y="201.1" width="1" height="1"/>
<rect x="138.6" y="202.9" width="1" height="1"/>
<rect x="126.5" y="204.3" width="1" height="1"/>
<rect x="118.4" y="205.7" width="1" height="1"/>
<rect x="117.6" y="201.5" width="1" height="1"/>
<rect x="124.9" y="200.3" width="1" height="1"/>
<rect x="123.0" y="205.8" width="1" height="1"/>
<rect x="125.4" y="206.1" width="1" height="1"/>
<rect x="118.8" y="205.4" width="1" height="1"/>
<rect x="118.5" y="190.1" width="1" height="1"/>
<rect x="120.6" y="195.1" width="1" height="1"/>
<rect x="123.6" y="205.7" width="1" height="1"/>
<rect x="124.6" y="204.4" width="1" height="1"/>
<rect x="122.2" y="203.8" width="1" height="1"/>
<rect x="122.8" y="204.0" width="1" height="1"/>
<rect x="117.0" y="205.5" width="1" height="1"/>
<rect x="134.0" y="197.2" width="1" height="1"/>
<rect x="117.2" y="205.9" width="1" height="1"/>
<rect x="115.9" y="198.2" width="1" height="1"/>
<rect x="134.1" y="161.4" width="1" height="1"/>
<rect x="118.9" y="205.9" width="1" height="1"/>
<rect x="116.9" y="203.5" width="1" height="1"/>
<rect x="124.9" y="179.4" width="1" height="1"/>
<rect x="122.0" y="201.3" width="1" height="1"/>
<rect x="116.2" y="204.9" width="1" height="1"/>
<rect x="116.1" y="201.2" width="1" height="1"/>
<rect x="118.9" y="187.2" width="1" height="1"/>
<rect x="129.3" y="203.0" width="1" height="1"/>
<rect x="116.9" y="203.9" width="1" height="1"/>
<rect x="115.3" y="201.5" width="1" height="1"/>
<rect x="128.5" y="202.7" width="1" height="1"/>
<rect x="116.2" y="205.8" width="1" height="1"/>
<rect x="115.4" y="200.1" width="1" height="1"/>
<rect x="131.6" y="205.9" width="1" height="1"/>
<rect x="115.1" y="190.8" width="1" height="1"/>
<rect x="116.5" y="199.8" width="1" height="1"/>
<rect x="118.6" y="206.2" width="1" height="1"/>
<rect x="127.3" y="200.7" width="1" height="1"/>
<rect x="121.3" y="203.1" width="1" height="1"/>
<rect x="120.9" y="202.6" width="1" height="1"/>
<rect x="119.2" y="202.4" width="1" height="1"/>
<rect x="122.4" y="205.4" width="1" height="1"/>
<rect x="118.9" y="201.6" width="1" height="1"/>
<rect x="115.7" y="198.0" width="1" height="1"/>
<rect x="124.7" y="204.2" width="1" height="1"/>
<rect x="123.1" y="202.1" width="1" height="1"/>
<rect x="119.1" y="203.9" width="1" height="1"/>
<rect x="123.0" y="205.5" width="1" height="1"/>
<rect x="130.1" y="202.5" width="1" height="1"/>
<rect x="122.6" y="196.9" width="1" height="1"/>
<rect x="116.9" y="199.6" width="1" height="1"/>
<rect x="123.9" y="205.4" width="1" height="1"/>
<rect x="121.5" y="202.2" width="1" height="1"/>
<rect x="136.6" y="204.0" width="1" height="1"/>
<rect x="117.1" y="203.3" width="1" height="1"/>
<rect x="117.3" y="204.9" width="1" height="1"/>
<rect x="141.0" y="205.1" width="1" height="1"/>
<rect x="125.4" y="205.0" width="1" height="1"/>
<rect x="128.7" y="201.0" width="1" height="1"/>
<rect x="116.6" y="200.7" width="1" height="1"/>
<rect x="124.3" y="204.9" width="1" height="1"/>
<rect x="119.6" y="202.4" width="1" height="1"/>
<rect x="124.0" y="199.6" width="1" height="1"/>
<rect x="133.0" y="202.1" width="1" height="1"/>
<rect x="129.3" y="200.6" width="1" height="1"/>
<rect x="127.1" y="205.5" width="1" height="1"/>
<rect x="120.3" y="202.7" width="1" height="1"/>
<rect x="128.7" y="191.6" width="1" height="1"/>
<rect x="122.4" y="190.3" width="1" height="1"/>
<rect x="120.5" y="203.2" width="1" height="1"/>
<rect x="123.7" y="202.3" width="1" height="1"/>
<rect x="140.9" y="205.2" width="1" height="1"/>
<rect x="119.9" y="205.7" width="1" height="1"/>
<rect x="118.5" y="201.4" width="1" height="1"/>
<rect x="118.9" y="206.0" width="1" height="1"/>
<rect x="115.3" y="200.2" width="1" height="1"/>
<rect x="138.4" y="203.2" width="1" height="1"/>
<rect x="116.0" y="205.5" width="1" height="1"/>
<rect x="133.0" y="205.7" width="1" height="1"/>
<rect x="148.6" y="205.1" width="1" height="1"/>
<rect x="115.9" y="199.8" width="1" height="1"/>
<rect x="118.3" y="203.9" width="1" height="1"/>
<rect x="128.9" y="198.2" width="1" height="1"/>
<rect x="125.0" y="206.1" width="1" height="1"/>
<rect x="117.2" y="204.9" width="1" height="1"/>
<rect x="120.4" y="202.5" width="1" height="1"/>
<rect x="118.3" y="202.9" width="1" height="1"/>
<rect x="127.8" y="204.1" width="1" height="1"/>
<rect x="118.3" y="204.2" width="1" height="1"/>
<rect x="122.0" y="206.0" width="1" height="1"/>
<rect x="133.1" y="204.8" width="1" height="1"/>
<rect x="118.3" y="200.4" width="1" height="1"/>
<rect x="115.2" y="184.1" width="1" height="1"/>
<rect x="119.4" y="198.5" width="1" height="1"/>
<rect x="120.0" y="205.8" width="1" height="1"/>
<rect x="117.3" y="205.4" width="1" height="1"/>
<rect x="135.1" y="196.0" width="1" height="1"/>
<rect x="123.3" y="197.3" width="1" height="1"/>
<rect x="121.7" y="204.8" width="1" height="1"/>
<rect x="125.8" y="204.7" width="1" height="1"/>
<rect x="119.4" y="206.1" width="1" height="1"/>
<rect x="154.1" y="202.9" width="1" height="1"/>
<rect x="120.0" y="206.0" width="1" height="1"/>
<rect x="128.7" y="205.8" width="1" height="1"/>
<rect x="122.3" y="201.1" width="1" height="1"/>
<rect x="121.9" y="197.1" width="1" height="1"/>
<rect x="140.8" y="200.4" width="1" height="1"/>
<rect x="119.5" y="204.9" width="1" height="1"/>
<rect x="138.8" y="202.6" width="1" height="1"/>
<rect x="118.4" y="202.5" width="1" height="1"/>
<rect x="117.8" y="205.5" width="1" height="1"/>
<rect x="122.4" y="205.0" width="1" height="1"/>
<rect x="127.9" y="199.8" width="1" height="1"/>
<rect x="118.0" y="203.1" width="1" height="1"/>
<rect x="135.8" y="204.3" width="1" height="1"/>
<rect x="118.1" y="202.9" width="1" height="1"/>
<rect x="117.0" y="204.8" width="1" height="1"/>
<rect x="130.7" y="201.6" width="1" height="1"/>
<rect x="122.5" y="199.8" width="1" height="1"/>
<rect x="116.2" y="203.8" width="1" height="1"/>
<rect x="115.5" y="182.8" width="1" height="1"/>
<rect x="118.3" y="202.0" width="1" height="1"/>
<rect x="121.6" y="205.5" width="1" height="1"/>
<rect x="124.0" y="194.0" width="1" height="1"/>
<rect x="132.5" y="205.7" width="1" height="1"/>
<rect x="116.7" y="203.5" width="1" height="1"/>
<rect x="121.4" y="205.7" width="1" height="1"/>
<rect x="126.8" y="198.4" width="1" height="1"/>
<rect x="117.1" y="198.3" width="1" height="1"/>
<rect x="116.2" y="205.8" width="1" height="1"/>
<rect x="139.8" y="204.1" width="1" height="1"/>
<rect x="118.4" y="196.7" width="1" height="1"/>
<rect x="117.1" y="196.0" width="1" height="1"/>
<rect x="124.5" y="204.2" width="1" height="1"/>
<rect x="124.2" y="200.7" width="1" height="1"/>
<rect x="131.2" y="198.7" width="1" height="1"/>
<rect x="120.3" y="195.1" width="1" height="1"/>
<rect x="127.5" y="178.1" width="1" height="1"/>
<rect x="116.2" y="205.1" width="1" height="1"/>
<rect x="131.5" y="200.7" width="1" height="1"/>
<rect x="118.9" y="203.7" width="1" height="1"/>
<rect x="126.1" y="193.1" width="1" height="1"/>
<rect x="121.7" y="205.4" width="1" height="1"/>
<rect x="124.6" y="204.8" width="1" height="1"/>
<rect x="121.4" y="200.9" width="1" height="1"/>
<rect x="140.4" y="205.8" width="1" height="1"/>
<rect x="116.6" y="193.4" width="1" height="1"/>
<rect x="121.6" y="204.4" width="1" height="1"/>
<rect x="118.3" y="203.1" width="1" height="1"/>
<rect x="141.5" y="200.4" width="1" height="1"/>
<rect x="124.6" y="193.6" width="1" height="1"/>
<rect x="128.7" y="204.3" width="1" height="1"/>
<rect x="116.5" y="195.0" width="1" height="1"/>
<rect x="121.0" y="199.2" width="1" height="1"/>
<rect x="122.4" y="204.9" width="1" height="1"/>
<rect x="115.2" y="206.0" width="1" height="1"/>
<rect x="119.5" y="195.2" width="1" height="1"/>
<rect x="117.5" y="202.8" width="1" height="1"/>
<rect x="115.8" y="204.8" width="1" height="1"/>
<rect x="115.5" y="205.5" width="1" height="1"/>
<rect x="115.4" y="205.8" width="1" height="1"/>
<rect x="127.8" y="202.0" width="1" height="1"/>
<rect x="124.6" y="206.2" width="1" height="1"/>
<rect x="117.4" y="201.1" width="1" height="1"/>
<rect x="115.1" y="204.3" width="1" height="1"/>
<rect x="115.2" y="204.3" width="1" height="1"/>
<rect x="130.2" y="206.1" width="1" height="1"/>
<rect x="120.0" y="201.6" width="1" height="1"/>
<rect x="127.1" y="205.3" width="1" height="1"/>
<rect x="130.0" y="198.4" width="1" height="1"/>
<rect x="115.7" y="201.5" width="1" height="1"/>
<rect x="126.3" y="184.5" width="1" height="1"/>
<rect x="118.9" y="192.3" width="1" height="1"/>
<rect x="130.5" y="206.1" width="1" height="1"/>
<rect x="117.9" y="201.0" width="1" height="1"/>
<rect x="117.8" y="203.6" width="1" height="1"/>
<rect x="124.3" y="197.3" width="1" height="1"/>
<rect x="116.3" y="206.1" width="1" height="1"/>
<rect x="116.8" y="202.5" width="1" height="1"/>
<rect x="128.8" y="204.0" width="1" height="1"/>
<rect x="118.4" y="204.1" width="1" height="1"/>
<rect x="123.6" y="196.3" width="1" height="1"/>
<rect x="116.3" y="186.6" width="1" height="1"/>
<rect x="121.4" y="204.9" width="1" height="1"/>
<rect x="122.3" y="197.9" width="1" height="1"/>
<rect x="119.9" y="206.0" width="1" height="1"/>
<rect x="122.8" y="201.0" width="1" height="1"/>
<rect x="121.0" y="200.2" width="1" height="1"/>
<rect x="121.2" y="204.0" width="1" height="1"/>
<rect x="120.7" y="204.6" width="1" height="1"/>
<rect x="117.2" y="202.2" width="1" height="1"/>
<rect x="115.8" y="198.0" width="1" height="1"/>
<rect x="143.3" y="205.4" width="1" height="1"/>
<rect x="122.5" y="203.7" width="1" height="1"/>
<rect x="144.1" y="192.6" width="1" height="1"/>
<rect x="122.4" y="205.6" width="1" height="1"/>
<rect x="120.9" y="205.1" width="1" height="1"/>
<rect x="126.3" y="204.7" width="1" height="1"/>
<rect x="122.0" y="199.6" width="1" height="1"/>
<rect x="132.5" y="196.1" width="1" height="1"/>
<rect x="129.6" y="198.8" width="1" height="1"/>
<rect x="120.7" y="204.1" width="1" height="1"/>
<rect x="124.3" y="203.3" width="1" height="1"/>
<rect x="129.8" y="205.0" width="1" height="1"/>
<rect x="133.3" y="194.8" width="1" height="1"/>
<rect x="118.7" y="205.0" width="1" height="1"/>
<rect x="126.7" y="206.1" width="1" height="1"/>
<rect x="123.1" y="206.1" width="1" height="1"/>
<rect x="127.4" y="194.1" width="1" height="1"/>
<rect x="123.4" y="204.1" width="1" height="1"/>
<rect x="117.0" y="203.9" width="1" height="1"/>
<rect x="132.9" y="203.9" width="1" height="1"/>
<rect x="123.1" y="196.5" width="1" height="1"/>
<rect x="115.3" y="206.1" width="1" height="1"/>
<rect x="124.3" y="204.8" width="1" height="1"/>
<rect x="118.3" y="204.3" width="1" height="1"/>
<rect x="119.2" y="204.6" width="1" height="1"/>
<rect x="130.9" y="202.8" width="1" height="1"/>
<rect x="144.9" y="198.5" width="1" height="1"/>
<rect x="119.9" y="192.8" width="1" height="1"/>
<rect x="126.0" y="191.0" width="1" height="1"/>
<rect x="116.1" y="204.4" width="1" height="1"/>
<rect x="115.7" y="206.2" width="1" height="1"/>
<rect x="130.5" y="204.8" width="1" height="1"/>
<rect x="117.9" y="201.6" width="1" height="1"/>
<rect x="138.6" y="205.0" width="1" height="1"/>
<rect x="115.4" y="198.7" width="1" height="1"/>
<rect x="129.3" y="199.6" width="1" height="1"/>
<rect x="115.4" y="198.9" width="1" height="1"/>
<rect x="119.4" y="203.4" width="1" height="1"/>
<rect x="116.2" y="192.6" width="1" height="1"/>
<rect x="123.7" y="198.1" width="1" height="1"/>
<rect x="116.3" y="194.2" width="1" height="1"/>
<rect x="116.1" y="204.4" width="1" height="1"/>
<rect x="120.3" y="204.1" width="1" height="1"/>
<rect x="125.5" y="203.1" width="1" height="1"/>
<rect x="118.8" y="203.6" width="1" height="1"/>
<rect x="122.7" y="200.8" width="1" height="1"/>
<rect x="118.8" y="204.2" width="1" height="1"/>
<rect x="131.9" y="201.9" width="1" height="1"/>
<rect x="116.7" y="201.3" width="1" height="1"/>
<rect x="115.1" y="205.5" width="1" height="1"/>
<rect x="121.8" y="202.0" width="1" height="1"/>
<rect x="124.0" y="199.8" width="1" height="1"/>
<rect x="115.4" y="195.1" width="1" height="1"/>
<rect x="115.5" y="205.6" width="1" height="1"/>
<rect x="138.7" y="188.8" width="1" height="1"/>
<rect x="120.6" y="206.2" width="1" height="1"/>
<rect x="116.9" y="202.4" width="1" height="1"/>
<rect x="122.6" y="202.3" width="1" height="1"/>
<rect x="152.7" y="202.5" width="1" height="1"/>
<rect x="128.8" y="190.7" width="1" height="1"/>
<rect x="115.6" y="188.8" width="1" height="1"/>
<rect x="129.4" y="188.6" width="1" height="1"/>
<rect x="116.9" y="205.8" width="1" height="1"/>
<rect x="124.2" y="206.1" width="1" height="1"/>
<rect x="117.4" y="189.5" width="1" height="1"/>
<rect x="116.7" y="206.0" width="1" height="1"/>
<rect x="126.7" y="191.2" width="1" height="1"/>
<rect x="117.4" y="204.3" width="1" height="1"/>
<rect x="115.3" y="203.2" width="1" height="1"/>
<rect x="117.5" y="204.2" width="1" height="1"/>
<rect x="119.0" y="181.5" width="1" height="1"/>
<rect x="125.3" y="204.7" width="1" height="1"/>
<rect x="119.1" y="202.4" width="1" height="1"/>
<rect x="118.6" y="205.4" width="1" height="1"/>
<rect x="125.8" y="195.7" width="1" height="1"/>
<rect x="127.3" y="194.9" width="1" height="1"/>
<rect x="122.6" y="204.9" width="1" height="1"/>
<rect x="120.2" y="184.1" width="1" height="1"/>
<rect x="123.9" y="199.7" width="1" height="1"/>
<rect x="150.4" y="197.6" width="1" height="1"/>
<rect x="123.2" y="205.8" width="1" height="1"/>
<rect x="122.3" y="206.0" width="1" height="1"/>
<rect x="124.5" y="203.6" width="1" height="1"/>
<rect x="121.2" y="200.5" width="1" height="1"/>
<rect x="119.4" y="200.8" width="1" height="1"/>
<rect x="119.6" y="202.0" width="1" height="1"/>
<rect x="119.8" y="201.1" width="1" height="1"/>
<rect x="119.8" y="204.1" width="1" height="1"/>
<rect x="121.0" y="203.8" width="1" height="1"/>
<rect x="128.1" y="198.5" width="1" height="1"/>
<rect x="130.3" y="204.0" width="1" height="1"/>
<rect x="115.5" y="187.8" width="1" height="1"/>
<rect x="117.3" y="200.9" width="1" height="1"/>
<rect x="128.2" y="205.8" width="1" height="1"/>
<rect x="127.0" y="200.8" width="1" height="1"/>
<rect x="134.4" y="199.1" width="1" height="1"/>
<rect x="117.3" y="197.1" width="1" height="1"/>
<rect x="129.7" y="204.1" width="1" height="1"/>
<rect x="121.7" y="202.0" width="1" height="1"/>
<rect x="115.5" y="199.2" width="1" height="1"/>
<rect x="118.4" y="205.1" width="1" height="1"/>
<rect x="116.4" y="204.0" width="1" height="1"/>
<rect x="123.4" y="205.4" width="1" height="1"/>
<rect x="123.2" y="205.2" width="1" height="1"/>
<rect x="137.1" y="196.7" width="1" height="1"/>
<rect x="123.0" y="194.3" width="1" height="1"/>
<rect x="117.9" y="204.0" width="1" height="1"/>
<rect x="130.0" y="203.4" width="1" height="1"/>
<rect x="119.0" y="200.2" width="1" height="1"/>
<rect x="118.6" y="204.0" width="1" height="1"/>
<rect x="123.2" y="202.6" width="1" height="1"/>
<rect x="117.7" y="200.9" width="1" height="1"/>
<rect x="117.4" y="204.5" width="1" height="1"/>
<rect x="119.5" y="205.6" width="1" height="1"/>
<rect x="122.6" y="199.7" width="1" height="1"/>
<rect x="116.5" y="202.6" width="1" height="1"/>
<rect x="115.1" y="205.5" width="1" height="1"/>
<rect x="120.1" y="200.9" width="1" height="1"/>
<rect x="122.3" y="202.5" width="1" height="1"/>
<rect x="127.2" y="204.8" width="1" height="1"/>
<rect x="121.1" y="206.2" width="1" height="1"/>
<rect x="117.3" y="201.8" width="1" height="1"/>
<rect x="117.8" y="202.3" width="1" height="1"/>
<rect x="133.7" y="204.7" width="1" height="1"/>
<rect x="117.3" y="203.4" width="1" height="1"/>
<rect x="120.6" y="202.8" width="1" height="1"/>
<rect x="115.7" y="205.5" width="1" height="1"/>
<rect x="138.9" y="204.5" width="1" height="1"/>
<rect x="126.4" y="193.7" width="1" height="1"/>
<rect x="124.5" y="203.9" width="1" height="1"/>
<rect x="115.3" y="199.3" width="1" height="1"/>
<rect x="141.3" y="203.4" width="1" height="1"/>
<rect x="122.0" y="204.7" width="1" height="1"/>
<rect x="117.1" y="196.9" width="1" height="1"/>
<rect x="116.1" y="201.4" width="1" height="1"/>
<rect x="143.6" y="196.8" width="1" height="1"/>
<rect x="121.5" y="205.9" width="1" height="1"/>
<rect x="116.7" y="196.5" width="1" height="1"/>
<rect x="115.6" y="203.3" width="1" height="1"/>
<rect x="118.8" y="203.6" width="1" height="1"/>
<rect x="135.6" y="201.1" width="1" height="1"/>
<rect x="126.8" y="205.6" width="1" height="1"/>
<rect x="121.2" y="192.7" width="1" height="1"/>
<rect x="124.1" y="203.4" width="1" height="1"/>
<rect x="154.7" y="205.2" width="1" height="1"/>
<rect x="115.5" y="203.7" width="1" height="1"/>
<rect x="116.1" y="199.3" width="1" height="1"/>
<rect x="115.1" y="204.9" width="1" height="1"/>
<rect x="116.7" y="202.4" width="1" height="1"/>
<rect x="134.6" y="204.5" width="1" height="1"/>
<rect x="118.0" y="203.8" width="1" height="1"/>
<rect x="119.6" y="205.7" width="1" height="1"/>
<rect x="129.2" y="202.0" width="1" height="1"/>
<rect x="115.1" y="202.8" width="1" height="1"/>
<rect x="129.2" y="205.0" width="1" height="1"/>
<rect x="119.6" y="197.6" width="1" height="1"/>
<rect x="116.7" y="204.2" width="1" height="1"/>
<rect x="130.0" y="202.3" width="1" height="1"/>
<rect x="125.4" y="197.1" width="1" height="1"/>
<rect x="116.2" y="203.6" width="1" height="1"/>
<rect x="115.4" y="201.3" width="1" height="1"/>
<rect x="117.9" y="205.2" width="1" height="1"/>
<rect x="145.3" y="205.2" width="1" height="1"/>
<rect x="120.8" y="202.6" width="1" height="1"/>
<rect x="115.7" y="203.8" width="1" height="1"/>
<rect x="123.2" y="204.5" width="1" height="1"/>
<rect x="118.8" y="195.5" width="1" height="1"/>
<rect x="123.6" y="204.4" width="1" height="1"/>
<rect x="117.2" y="203.8" width="1" height="1"/>
<rect x="119.3" y="202.4" width="1" height="1"/>
<rect x="117.8" y="205.5" width="1" height="1"/>
<rect x="116.8" y="201.0" width="1" height="1"/>
<rect x="135.3" y="200.9" width="1" height="1"/>
<rect x="124.3" y="205.4" width="1" height="1"/>
<rect x="135.0" y="204.1" width="1" height="1"/>
<rect x="119.6" y="200.2" width="1" height="1"/>
<rect x="123.2" y="199.8" width="1" height="1"/>
<rect x="115.1" y="205.9" width="1" height="1"/>
<rect x="137.7" y="197.7" width="1" height="1"/>
<rect x="115.3" y="205.0" width="1" height="1"/>
<rect x="119.4" y="205.1" width="1" height="1"/>
<rect x="116.8" y="188.4" width="1" height="1"/>
<rect x="122.1" y="203.6" width="1" height="1"/>
<rect x="124.8" y="205.1" width="1" height="1"/>
<rect x="116.7" y="205.2" width="1" height="1"/>
<rect x="129.7" y="205.5" width="1" height="1"/>
<rect x="116.1" y="195.8" width="1" height="1"/>
<rect x="127.7" y="202.8" width="1" height="1"/>
<rect x="115.1" y="199.9" width="1" height="1"/>
<rect x="125.1" y="205.3" width="1" height="1"/>
<rect x="116.9" y="199.9" width="1" height="1"/>
<rect x="125.4" y="198.2" width="1" height="1"/>
<rect x="120.8" y="205.3" width="1" height="1"/>
<rect x="126.3" y="200.0" width="1" height="1"/>
<rect x="120.5" y="203.1" width="1" height="1"/>
<rect x="116.7" y="205.7" width="1" height="1"/>
<rect x="115.4" y="205.0" width="1" height="1"/>
<rect x="128.5" y="200.2" width="1" height="1"/>
<rect x="119.4" y="203.5" width="1" height="1"/>
<rect x="130.2" y="193.5" width="1" height="1"/>
<rect x="116.1" y="205.3" width="1" height="1"/>
<rect x="119.5" y="199.2" width="1" height="1"/>
<rect x="130.6" y="198.3" width="1" height="1"/>
<rect x="124.2" y="199.9" width="1" height="1"/>
<rect x="117.8" y="204.7" width="1" height="1"/>
<rect x="121.0" y="205.0" width="1" height="1"/>
<rect x="136.9" y="200.8" width="1" height="1"/>
<rect x="117.0" y="188.2" width="1" height="1"/>
<rect x="118.0" y="205.4" width="1" height="1"/>
<rect x="117.6" y="201.0" width="1" height="1"/>
<rect x="123.9" y="205.1" width="1" height="1"/>
<rect x="116.2" y="205.2" width="1" height="1"/>
<rect x="118.1" y="203.7" width="1" height="1"/>
<rect x="115.3" y="204.1" width="1" height="1"/>
<rect x="123.1" y="205.0" width="1" height="1"/>
<rect x="123.0" y="202.5" width="1" height="1"/>
<rect x="115.6" y="202.9" width="1" height="1"/>
<rect x="115.2" y="198.7" width="1" height="1"/>
<rect x="131.6" y="194.2" width="1" height="1"/>
<rect x="116.7" y="204.6" width="1" height="1"/>
<rect x="117.7" y="201.9" width="1" height="1"/>
<rect x="125.6" y="205.1" width="1" height="1"/>
<rect x="119.8" y="199.0" width="1" height="1"/>
<rect x="125.9" y="194.6" width="1" height="1"/>
<rect x="121.5" y="204.4" width="1" height="1"/>
<rect x="130.2" y="206.0" width="1" height="1"/>
<rect x="115.0" y="205.9" width="1" height="1"/>
<rect x="117.9" y="205.7" width="1" height="1"/>
<rect x="118.3" y="205.7" width="1" height="1"/>
<rect x="126.5" y="205.7" width="1" height="1"/>
<rect x="123.0" y="206.0" width="1" height="1"/>
<rect x="146.3" y="205.0" width="1" height="1"/>
<rect x="137.6" y="205.5" width="1" height="1"/>
<rect x="139.1" y="206.0" width="1" height="1"/>
<rect x="118.1" y="205.6" width="1" height="1"/>
<rect x="115.7" y="206.1" width="1" height="1"/>
<rect x="130.2" y="205.6" width="1" height="1"/>
<rect x="135.9" y="205.6" width="1" height="1"/>
<rect x="146.8" y="206.1" width="1" height="1"/>
<rect x="137.8" y="205.1" width="1" height="1"/>
<rect x="122.8" y="205.2" width="1" height="1"/>
<rect x="116.7" y="206.2" width="1" height="1"/>
<rect x="133.2" y="204.9" width="1" height="1"/>
<rect x="121.4" y="205.8" width="1" height="1"/>
<rect x="117.0" y="205.8" width="1" height="1"/>
<rect x="117.9" y="205.8" width="1" height="1"/>
<rect x="128.7" y="205.7" width="1" height="1"/>
<rect x="120.0" y="205.3" width="1" height="1"/>
<rect x="115.8" y="205.8" width="1" height="1"/>
<rect x="167.3" y="205.8" width="1" height="1"/>
<rect x="129.2" y="204.7" width="1" height="1"/>
<rect x="156.9" y="205.1" width="1" height="1"/>
<rect x="128.4" y="205.8" width="1" height="1"/>
<rect x="116.8" y="206.0" width="1" height="1"/>
<rect x="116.0" y="205.0" width="1" height="1"/>
<rect x="136.2" y="205.9" width="1" height="1"/>
<rect x="138.9" y="206.1" width="1" height="1"/>
<rect x="118.3" y="204.9" width="1" height="1"/>
<rect x="124.7" y="205.2" width="1" height="1"/>
<rect x="117.1" y="205.3" width="1" height="1"/>
<rect x="117.3" y="205.2" width="1" height="1"/>
<rect x="119.3" y="205.8" width="1" height="1"/>
<rect x="141.2" y="205.4" width="1" height="1"/>
<rect x="145.0" y="204.9" width="1" height="1"/>
<rect x="116.3" y="205.7" width="1" height="1"/>
<rect x="116.8" y="205.9" width="1" height="1"/>
<rect x="141.0" y="205.9" width="1" height="1"/>
<rect x="121.4" y="206.1" width="1" height="1"/>
<rect x="140.0" y="205.3" width="1" height="1"/>
<rect x="118.6" y="205.7" width="1" height="1"/>
<rect x="162.0" y="205.0" width="1" height="1"/>
<rect x="115.6" y="205.0" width="1" height="1"/>
<rect x="117.8" y="205.4" width="1" height="1"/>
<rect x="118.2" y="205.0" width="1" height="1"/>
<rect x="140.8" y="205.9" width="1" height="1"/>
<rect x="160.4" y="205.1" width="1" height="1"/>
<rect x="136.6" y="206.1" width="1" height="1"/>
<rect x="115.1" y="204.8" width="1" height="1"/>
<rect x="115.7" y="205.4" width="1" height="1"/>
<rect x="122.0" y="206.1" width="1" height="1"/>
<rect x="131.2" y="206.1" width="1" height="1"/>
<rect x="150.3" y="206.1" width="1" height="1"/>
<rect x="123.0" y="205.6" width="1" height="1"/>
<rect x="133.5" y="204.7" width="1" height="1"/>
<rect x="130.3" y="205.0" width="1" height="1"/>
<rect x="126.9" y="205.0" width="1" height="1"/>
<rect x="127.0" y="205.8" width="1" height="1"/>
<rect x="135.8" y="205.7" width="1" height="1"/>
<rect x="116.0" y="205.5" width="1" height="1"/>
<rect x="142.2" y="205.2" width="1" height="1"/>
<rect x="118.2" y="205.6" width="1" height="1"/>
<rect x="132.9" y="204.8" width="1" height="1"/>
<rect x="127.6" y="205.0" width="1" height="1"/>
<rect x="130.8" y="205.2" width="1" height="1"/>
<rect x="132.6" y="206.1" width="1" height="1"/>
<rect x="141.8" y="205.0" width="1" height="1"/>
<rect x="139.4" y="204.9" width="1" height="1"/>
<rect x="119.8" y="205.3" width="1" height="1"/>
<rect x="129.5" y="204.8" width="1" height="1"/>
<rect x="130.0" y="204.8" width="1" height="1"/>
<rect x="153.6" y="206.1" width="1" height="1"/>
<rect x="134.1" y="205.6" width="1" height="1"/>
<rect x="132.3" y="205.0" width="1" height="1"/>
<rect x="122.4" y="205.6" width="1" height="1"/>
<rect x="166.9" y="205.8" width="1" height="1"/>
<rect x="134.6" y="205.0" width="1" height="1"/>
<rect x="134.1" y="204.8" width="1" height="1"/>
<rect x="124.8" y="205.7" width="1" height="1"/>
<rect x="121.3" y="205.3" width="1" height="1"/>
<rect x="167.9" y="204.8" width="1" height="1"/>
<rect x="126.3" y="205.6" width="1" height="1"/>
<rect x="121.3" y="206.0" width="1" height="1"/>
<rect x="128.8" y="206.1" width="1" height="1"/>
<rect x="123.8" y="205.5" width="1" height="1"/>
<rect x="115.6" y="205.7" width="1" height="1"/>
<rect x="118.7" y="204.8" width="1" height="1"/>
<rect x="124.2" y="205.4" width="1" height="1"/>
<rect x="119.9" y="205.9" width="1" height="1"/>
<rect x="132.3" y="205.6" width="1" height="1"/>
<rect x="154.8" y="205.6" width="1" height="1"/>
<rect x="122.1" y="206.0" width="1" height="1"/>
<rect x="118.2" y="205.7" width="1" height="1"/>
<rect x="144.7" y="204.8" width="1" height="1"/>
<rect x="121.5" y="205.7" width="1" height="1"/>
<rect x="151.6" y="205.0" width="1" height="1"/>
<rect x="131.4" y="204.9" width="1" height="1"/>
<rect x="123.7" y="206.2" width="1" height="1"/>
<rect x="148.7" y="206.0" width="1" height="1"/>
<rect x="120.0" y="205.3" width="1" height="1"/>
<rect x="133.8" y="205.1" width="1" height="1"/>
<rect x="134.8" y="204.7" width="1" height="1"/>
<rect x="138.3" y="205.0" width="1" height="1"/>
<rect x="134.2" y="206.0" width="1" height="1"/>
<rect x="139.6" y="205.8" width="1" height="1"/>
<rect x="124.4" y="205.4" width="1" height="1"/>
<rect x="122.1" y="205.8" width="1" height="1"/>
<rect x="121.2" y="205.7" width="1" height="1"/>
<rect x="136.7" y="205.1" width="1" height="1"/>
<rect x="163.7" y="205.0" width="1" height="1"/>
<rect x="116.1" y="205.2" width="1" height="1"/>
<rect x="126.9" y="205.1" width="1" height="1"/>
<rect x="115.3" y="204.9" width="1" height="1"/>
<rect x="153.4" y="206.0" width="1" height="1"/>
<rect x="123.3" y="205.7" width="1" height="1"/>
<rect x="127.6" y="206.0" width="1" height="1"/>
<rect x="131.4" y="205.5" width="1" height="1"/>
<rect x="166.9" y="205.5" width="1" height="1"/>
<rect x="115.1" y="204.8" width="1" height="1"/>
<rect x="120.6" y="205.9" width="1" height="1"/>
<rect x="158.9" y="205.4" width="1" height="1"/>
<rect x="118.4" y="205.3" width="1" height="1"/>
<rect x="132.3" y="205.8" width="1" height="1"/>
<rect x="141.0" y="206.2" width="1" height="1"/>
<rect x="128.9" y="205.6" width="1" height="1"/>
<rect x="116.6" y="204.7" width="1" height="1"/>
<rect x="132.9" y="205.4" width="1" height="1"/>
<rect x="122.8" y="204.8" width="1" height="1"/>
<rect x="121.9" y="204.9" width="1" height="1"/>
<rect x="127.0" y="206.1" width="1" height="1"/>
<rect x="128.3" y="204.8" width="1" height="1"/>
<rect x="118.9" y="205.0" width="1" height="1"/>
<rect x="116.1" y="205.7" width="1" height="1"/>
<rect x="127.9" y="205.1" width="1" height="1"/>
<rect x="156.8" y="205.3" width="1" height="1"/>
<rect x="141.3" y="205.6" width="1" height="1"/>
<rect x="135.7" y="205.8" width="1" height="1"/>
<rect x="153.9" y="205.5" width="1" height="1"/>
<rect x="132.0" y="204.8" width="1" height="1"/>
<rect x="124.1" y="205.1" width="1" height="1"/>
<rect x="122.9" y="205.7" width="1" height="1"/>
<rect x="142.7" y="205.5" width="1" height="1"/>
<rect x="117.1" y="204.8" width="1" height="1"/>
<rect x="132.1" y="205.4" width="1" height="1"/>
<rect x="124.2" y="206.0" width="1" height="1"/>
<rect x="154.1" y="206.1" width="1" height="1"/>
<rect x="120.8" y="205.4" width="1" height="1"/>
<rect x="134.0" y="204.9" width="1" height="1"/>
<rect x="124.3" y="206.1" width="1" height="1"/>
<rect x="123.7" y="205.1" width="1" height="1"/>
<rect x="123.8" y="205.0" width="1" height="1"/>
<rect x="148.4" y="206.0" width="1" height="1"/>
<rect x="125.5" y="206.2" width="1" height="1"/>
<rect x="128.3" y="205.1" width="1" height="1"/>
<rect x="121.4" y="205.3" width="1" height="1"/>
<rect x="122.8" y="204.7" width="1" height="1"/>
<rect x="153.1" y="204.9" width="1" height="1"/>
<rect x="116.8" y="205.3" width="1" height="1"/>
<rect x="145.9" y="204.9" width="1" height="1"/>
<rect x="136.8" y="204.8" width="1" height="1"/>
<rect x="118.2" y="205.9" width="1" height="1"/>
<rect x="137.5" y="205.1" width="1" height="1"/>
<rect x="117.2" y="205.6" width="1" height="1"/>
<rect x="147.3" y="205.0" width="1" height="1"/>
<rect x="147.1" y="205.6" width="1" height="1"/>
<rect x="127.2" y="205.7" width="1" height="1"/>
<rect x="150.1" y="205.1" width="1" height="1"/>
<rect x="117.7" y="205.1" width="1" height="1"/>
<rect x="124.4" y="204.8" width="1" height="1"/>
<rect x="121.0" y="205.9" width="1" height="1"/>
<rect x="135.1" y="204.8" width="1" height="1"/>
<rect x="116.2" y="206.2" width="1" height="1"/>
<rect x="130.0" y="205.8" width="1" height="1"/>
<rect x="125.0" y="205.9" width="1" height="1"/>
<rect x="137.9" y="205.0" width="1" height="1"/>
<rect x="135.0" y="204.9" width="1" height="1"/>
<rect x="117.5" y="205.9" width="1" height="1"/>
<rect x="148.2" y="205.8" width="1" height="1"/>
<rect x="117.4" y="205.8" width="1" height="1"/>
<rect x="115.6" y="204.7" width="1" height="1"/>
<rect x="161.7" y="205.6" width="1" height="1"/>
<rect x="121.0" y="205.2" width="1" height="1"/>
<rect x="151.5" y="205.6" width="1" height="1"/>
<rect x="154.7" y="205.1" width="1" height="1"/>
<rect x="140.9" y="205.3" width="1" height="1"/>
<rect x="127.5" y="205.3" width="1" height="1"/>
<rect x="156.1" y="205.7" width="1" height="1"/>
<rect x="122.8" y="205.3" width="1" height="1"/>
<rect x="153.4" y="206.1" width="1" height="1"/>
<rect x="115.4" y="205.4" width="1" height="1"/>
<rect x="117.3" y="204.7" width="1" height="1"/>
<rect x="119.3" y="205.5" width="1" height="1"/>
<rect x="140.3" y="205.5" width="1" height="1"/>
<rect x="127.3" y="204.7" width="1" height="1"/>
<rect x="130.7" y="205.3" width="1" height="1"/>
<rect x="115.6" y="205.4" width="1" height="1"/>
<rect x="126.1" y="205.5" width="1" height="1"/>
<rect x="121.1" y="204.8" width="1" height="1"/>
<rect x="128.3" y="205.8" width="1" height="1"/>
<rect x="129.3" y="204.9" width="1" height="1"/>
<rect x="120.8" y="204.7" width="1" height="1"/>
<rect x="130.1" y="205.1" width="1" height="1"/>
<rect x="119.4" y="205.9" width="1" height="1"/>
<rect x="144.2" y="205.8" width="1" height="1"/>
<rect x="123.2" y="204.7" width="1" height="1"/>
<rect x="120.6" y="206.1" width="1" height="1"/>
<rect x="117.1" y="205.6" width="1" height="1"/>
<rect x="169.2" y="205.6" width="1" height="1"/>
<rect x="134.3" y="204.8" width="1" height="1"/>
<rect x="116.0" y="205.6" width="1" height="1"/>
<rect x="128.3" y="205.2" width="1" height="1"/>
<rect x="120.1" y="205.2" width="1" height="1"/>
<rect x="130.0" y="205.5" width="1" height="1"/>
<rect x="152.2" y="205.2" width="1" height="1"/>
<rect x="118.7" y="205.3" width="1" height="1"/>
<rect x="117.1" y="205.9" width="1" height="1"/>
<rect x="140.0" y="206.1" width="1" height="1"/>
<rect x="154.9" y="206.2" width="1" height="1"/>
<rect x="141.4" y="205.0" width="1" height="1"/>
<rect x="138.8" y="205.0" width="1" height="1"/>
<rect x="119.0" y="205.0" width="1" height="1"/>
<rect x="146.9" y="205.7" width="1" height="1"/>
<rect x="142.1" y="206.2" width="1" height="1"/>
<rect x="138.6" y="205.3" width="1" height="1"/>
<rect x="115.3" y="205.7" width="1" height="1"/>
<rect x="124.5" y="204.9" width="1" height="1"/>
<rect x="133.0" y="205.0" width="1" height="1"/>
<rect x="128.5" y="205.3" width="1" height="1"/>
<rect x="132.3" y="205.3" width="1" height="1"/>
<rect x="121.7" y="205.7" width="1" height="1"/>
<rect x="117.0" y="205.1" width="1" height="1"/>
<rect x="135.6" y="205.6" width="1" height="1"/>
<rect x="115.5" y="205.1" width="1" height="1"/>
<rect x="141.0" y="205.7" width="1" height="1"/>
<rect x="149.2" y="205.6" width="1" height="1"/>
<rect x="152.8" y="205.5" width="1" height="1"/>
<rect x="116.5" y="205.7" width="1" height="1"/>
<rect x="121.7" y="204.8" width="1" height="1"/>
<rect x="148.3" y="205.4" width="1" height="1"/>
<rect x="120.1" y="205.6" width="1" height="1"/>
<rect x="122.7" y="205.2" width="1" height="1"/>
<rect x="163.6" y="205.9" width="1" height="1"/>
<rect x="120.7" y="204.9" width="1" height="1"/>
<rect x="127.8" y="205.0" width="1" height="1"/>
<rect x="137.7" y="206.0" width="1" height="1"/>
<rect x="154.8" y="205.5" width="1" height="1"/>
<rect x="117.6" y="206.0" width="1" height="1"/>
<rect x="137.8" y="205.4" width="1" height="1"/>
<rect x="115.5" y="204.9" width="1" height="1"/>
<rect x="116.6" y="205.0" width="1" height="1"/>
<rect x="119.0" y="205.3" width="1" height="1"/>
<rect x="158.0" y="204.9" width="1" height="1"/>
<rect x="122.3" y="205.3" width="1" height="1"/>
<rect x="125.9" y="205.0" width="1" height="1"/>
<rect x="156.1" y="206.2" width="1" height="1"/>
<rect x="119.0" y="205.7" width="1" height="1"/>
<rect x="152.3" y="206.0" width="1" height="1"/>
<rect x="151.8" y="204.7" width="1" height="1"/>
<rect x="125.2" y="205.3" width="1" height="1"/>
<rect x="159.4" y="205.1" width="1" height="1"/>
<rect x="158.0" y="205.0" width="1" height="1"/>
<rect x="129.8" y="205.1" width="1" height="1"/>
<rect x="149.7" y="205.9" width="1" height="1"/>
<rect x="133.5" y="204.9" width="1" height="1"/>
<rect x="137.1" y="205.5" width="1" height="1"/>
<rect x="152.3" y="205.3" width="1" height="1"/>
<rect x="117.2" y="205.4" width="1" height="1"/>
<rect x="123.4" y="205.1" width="1" height="1"/>
<rect x="143.2" y="204.8" width="1" height="1"/>
<rect x="115.1" y="205.3" width="1" height="1"/>
<rect x="139.0" y="205.9" width="1" height="1"/>
<rect x="138.5" y="205.2" width="1" height="1"/>
<rect x="119.9" y="204.8" width="1" height="1"/>
<rect x="118.9" y="206.2" width="1" height="1"/>
<rect x="126.0" y="205.6" width="1" height="1"/>
<rect x="164.7" y="204.7" width="1" height="1"/>
<rect x="141.2" y="206.1" width="1" height="1"/>
<rect x="129.3" y="205.3" width="1" height="1"/>
<rect x="124.4" y="206.1" width="1" height="1"/>
<rect x="126.1" y="205.5" width="1" height="1"/>
<rect x="170.0" y="205.0" width="1" height="1"/>
<rect x="152.5" y="206.1" width="1" height="1"/>
<rect x="117.7" y="205.4" width="1" height="1"/>
<rect x="126.4" y="197.5" width="1" height="1"/>
<rect x="120.7" y="159.4" width="1" height="1"/>
<rect x="115.9" y="205.5" width="1" height="1"/>
<rect x="127.4" y="204.2" width="1" height="1"/>
<rect x="124.8" y="185.2" width="1" height="1"/>
<rect x="133.7" y="189.1" width="1" height="1"/>
<rect x="129.6" y="182.2" width="1" height="1"/>
<rect x="126.4" y="192.7" width="1" height="1"/>
<rect x="128.2" y="188.0" width="1" height="1"/>
<rect x="117.8" y="201.6" width="1" height="1"/>
<rect x="123.4" y="165.9" width="1" height="1"/>
<rect x="117.8" y="178.9" width="1" height="1"/>
<rect x="130.8" y="181.5" width="1" height="1"/>
<rect x="116.1" y="189.9" width="1" height="1"/>
<rect x="128.5" y="204.2" width="1" height="1"/>
<rect x="118.3" y="158.9" width="1" height="1"/>
<rect x="164.0" y="204.1" width="1" height="1"/>
<rect x="118.8" y="198.0" width="1" height="1"/>
<rect x="119.2" y="191.1" width="1" height="1"/>
<rect x="125.2" y="197.2" width="1" height="1"/>
<rect x="117.6" y="204.4" width="1" height="1"/>
<rect x="115.5" y="180.7" width="1" height="1"/>
<rect x="132.4" y="200.9" width="1" height="1"/>
<rect x="145.6" y="187.2" width="1" height="1"/>
<rect x="117.8" y="174.7" width="1" height="1"/>
<rect x="131.6" y="204.4" width="1" height="1"/>
<rect x="115.3" y="204.9" width="1" height="1"/>
<rect x="130.6" y="181.6" width="1" height="1"/>
<rect x="116.7" y="152.5" width="1" height="1"/>
<rect x="134.2" y="204.9" width="1" height="1"/>
<rect x="126.5" y="198.5" width="1" height="1"/>
<rect x="118.5" y="203.0" width="1" height="1"/>
<rect x="133.5" y="164.7" width="1" height="1"/>
<rect x="115.4" y="195.5" width="1" height="1"/>
<rect x="117.1" y="202.3" width="1" height="1"/>
<rect x="149.9" y="182.5" width="1" height="1"/>
<rect x="122.6" y="184.6" width="1" height="1"/>
<rect x="131.7" y="175.4" width="1" height="1"/>
<rect x="119.7" y="170.1" width="1" height="1"/>
<rect x="115.2" y="189.1" width="1" height="1"/>
<rect x="120.0" y="188.8" width="1" height="1"/>
<rect x="120.3" y="168.7" width="1" height="1"/>
<rect x="115.0" y="173.5" width="1" height="1"/>
<rect x="118.3" y="196.9" width="1" height="1"/>
<rect x="116.0" y="202.3" width="1" height="1"/>
<rect x="115.4" y="163.9" width="1" height="1"/>
<rect x="121.6" y="197.1" width="1" height="1"/>
<rect x="115.8" y="203.3" width="1" height="1"/>
<rect x="122.3" y="200.9" width="1" height="1"/>
<rect x="115.7" y="182.0" width="1" height="1"/>
<rect x="118.4" y="150.9" width="1" height="1"/>
<rect x="146.9" y="190.0" width="1" height="1"/>
<rect x="132.8" y="184.1" width="1" height="1"/>
<rect x="127.4" y="200.7" width="1" height="1"/>
<rect x="131.8" y="158.1" width="1" height="1"/>
<rect x="129.9" y="193.7" width="1" height="1"/>
<rect x="116.5" y="140.8" width="1" height="1"/>
<rect x="126.2" y="185.1" width="1" height="1"/>
<rect x="117.2" y="140.6" width="1" height="1"/>
<rect x="119.0" y="195.2" width="1" height="1"/>
<rect x="116.2" y="161.6" width="1" height="1"/>
<rect x="127.2" y="184.8" width="1" height="1"/>
<rect x="127.7" y="176.3" width="1" height="1"/>
<rect x="116.8" y="204.6" width="1" height="1"/>
<rect x="115.9" y="195.2" width="1" height="1"/>
<rect x="116.0" y="177.2" width="1" height="1"/>
<rect x="124.1" y="204.5" width="1" height="1"/>
<rect x="115.9" y="188.1" width="1" height="1"/>
<rect x="130.3" y="183.0" width="1" height="1"/>
<rect x="123.5" y="159.6" width="1" height="1"/>
<rect x="145.2" y="192.9" width="1" height="1"/>
<rect x="142.4" y="199.7" width="1" height="1"/>
<rect x="121.0" y="179.7" width="1" height="1"/>
<rect x="140.0" y="162.4" width="1" height="1"/>
<rect x="122.4" y="197.6" width="1" height="1"/>
<rect x="117.8" y="195.3" width="1" height="1"/>
<rect x="133.3" y="203.7" width="1" height="1"/>
<rect x="117.8" y="196.6" width="1" height="1"/>
<rect x="119.9" y="184.5" width="1" height="1"/>
<rect x="137.2" y="204.5" width="1" height="1"/>
<rect x="116.1" y="172.4" width="1" height="1"/>
<rect x="127.9" y="197.9" width="1" height="1"/>
<rect x="118.7" y="205.2" width="1" height="1"/>
<rect x="122.8" y="166.0" width="1" height="1"/>
<rect x="115.7" y="199.7" width="1" height="1"/>
<rect x="116.1" y="186.8" width="1" height="1"/>
<rect x="115.8" y="198.4" width="1" height="1"/>
<rect x="118.7" y="147.0" width="1" height="1"/>
<rect x="147.7" y="196.5" width="1" height="1"/>
<rect x="124.3" y="201.9" width="1" height="1"/>
<rect x="120.5" y="176.6" width="1" height="1"/>
<rect x="120.5" y="202.2" width="1" height="1"/>
<rect x="128.0" y="160.5" width="1" height="1"/>
<rect x="143.6" y="202.2" width="1" height="1"/>
<rect x="115.4" y="183.0" width="1" height="1"/>
<rect x="140.9" y="174.3" width="1" height="1"/>
<rect x="137.8" y="200.1" width="1" height="1"/>
<rect x="141.6" y="199.4" width="1" height="1"/>
<rect x="115.1" y="203.9" width="1" height="1"/>
<rect x="120.7" y="196.0" width="1" height="1"/>
<rect x="119.0" y="192.0" width="1" height="1"/>
<rect x="123.0" y="203.6" width="1" height="1"/>
<rect x="124.7" y="191.2" width="1" height="1"/>
<rect x="121.2" y="191.5" width="1" height="1"/>
<rect x="121.6" y="204.8" width="1" height="1"/>
<rect x="117.5" y="199.3" width="1" height="1"/>
<rect x="122.0" y="200.1" width="1" height="1"/>
<rect x="119.9" y="204.9" width="1" height="1"/>
<rect x="123.5" y="191.5" width="1" height="1"/>
<rect x="117.9" y="185.3" width="1" height="1"/>
<rect x="120.6" y="204.8" width="1" height="1"/>
<rect x="121.7" y="204.9" width="1" height="1"/>
<rect x="123.8" y="190.4" width="1" height="1"/>
<rect x="119.5" y="203.8" width="1" height="1"/>
<rect x="122.7" y="192.2" width="1" height="1"/>
<rect x="116.7" y="169.7" width="1" height="1"/>
<rect x="126.9" y="203.9" width="1" height="1"/>
<rect x="118.9" y="171.7" width="1" height="1"/>
<rect x="115.9" y="179.2" width="1" height="1"/>
<rect x="122.7" y="199.6" width="1" height="1"/>
<rect x="123.5" y="184.3" width="1" height="1"/>
<rect x="127.3" y="180.4" width="1" height="1"/>
<rect x="115.4" y="183.0" width="1" height="1"/>
<rect x="132.6" y="182.0" width="1" height="1"/>
<rect x="116.8" y="196.1" width="1" height="1"/>
<rect x="120.8" y="157.9" width="1" height="1"/>
<rect x="119.6" y="205.3" width="1" height="1"/>
<rect x="138.2" y="182.5" width="1" height="1"/>
<rect x="127.5" y="179.5" width="1" height="1"/>
<rect x="115.2" y="192.6" width="1" height="1"/>
<rect x="130.3" y="193.0" width="1" height="1"/>
<rect x="137.6" y="198.8" width="1" height="1"/>
<rect x="119.3" y="197.8" width="1" height="1"/>
<rect x="117.7" y="204.7" width="1" height="1"/>
<rect x="115.3" y="202.2" width="1" height="1"/>
<rect x="120.3" y="191.5" width="1" height="1"/>
<rect x="115.8" y="195.8" width="1" height="1"/>
<rect x="137.8" y="176.1" width="1" height="1"/>
<rect x="128.3" y="200.9" width="1" height="1"/>
<rect x="143.1" y="201.5" width="1" height="1"/>
<rect x="122.6" y="198.0" width="1" height="1"/>
<rect x="133.3" y="199.2" width="1" height="1"/>
<rect x="115.4" y="201.9" width="1" height="1"/>
<rect x="121.4" y="178.8" width="1" height="1"/>
<rect x="125.0" y="173.6" width="1" height="1"/>
<rect x="118.3" y="166.0" width="1" height="1"/>
<rect x="117.0" y="169.2" width="1" height="1"/>
<rect x="126.1" y="191.9" width="1" height="1"/>
<rect x="124.5" y="195.4" width="1" height="1"/>
<rect x="118.6" y="187.9" width="1" height="1"/>
<rect x="118.8" y="194.3" width="1" height="1"/>
<rect x="116.7" y="197.6" width="1" height="1"/>
<rect x="131.7" y="202.1" width="1" height="1"/>
<rect x="121.6" y="204.3" width="1" height="1"/>
<rect x="135.4" y="171.6" width="1" height="1"/>
<rect x="118.5" y="187.5" width="1" height="1"/>
<rect x="118.0" y="202.6" width="1" height="1"/>
<rect x="129.8" y="204.0" width="1" height="1"/>
<rect x="121.8" y="168.2" width="1" height="1"/>
<rect x="115.9" y="175.1" width="1" height="1"/>
<rect x="117.3" y="202.9" width="1" height="1"/>
<rect x="115.9" y="195.7" width="1" height="1"/>
<rect x="119.3" y="182.1" width="1" height="1"/>
<rect x="129.6" y="186.8" width="1" height="1"/>
<rect x="122.1" y="190.8" width="1" height="1"/>
<rect x="124.0" y="180.9" width="1" height="1"/>
<rect x="120.5" y="189.8" width="1" height="1"/>
<rect x="124.7" y="193.5" width="1" height="1"/>
<rect x="125.7" y="199.7" width="1" height="1"/>
<rect x="120.7" y="162.7" width="1" height="1"/>
<rect x="152.3" y="183.3" width="1" height="1"/>
<rect x="121.3" y="136.8" width="1" height="1"/>
<rect x="118.6" y="167.9" width="1" height="1"/>
<rect x="129.4" y="204.9" width="1" height="1"/>
<rect x="128.7" y="200.9" width="1" height="1"/>
<rect x="119.7" y="150.2" width="1" height="1"/>
<rect x="122.0" y="197.0" width="1" height="1"/>
<rect x="141.2" y="192.3" width="1" height="1"/>
<rect x="160.5" y="204.1" width="1" height="1"/>
<rect x="157.1" y="188.9" width="1" height="1"/>
<rect x="121.1" y="203.0" width="1" height="1"/>
<rect x="131.4" y="195.9" width="1" height="1"/>
<rect x="129.7" y="195.6" width="1" height="1"/>
<rect x="123.1" y="196.1" width="1" height="1"/>
<rect x="140.1" y="203.5" width="1" height="1"/>
<rect x="123.5" y="158.3" width="1" height="1"/>
<rect x="126.4" y="183.1" width="1" height="1"/>
<rect x="122.6" y="192.8" width="1" height="1"/>
<rect x="119.8" y="188.8" width="1" height="1"/>
<rect x="120.1" y="174.7" width="1" height="1"/>
<rect x="119.5" y="169.2" width="1" height="1"/>
<rect x="129.1" y="181.2" width="1" height="1"/>
<rect x="133.1" y="195.1" width="1" height="1"/>
<rect x="116.5" y="184.2" width="1" height="1"/>
<rect x="119.1" y="188.5" width="1" height="1"/>
<rect x="117.7" y="199.9" width="1" height="1"/>
<rect x="125.7" y="173.7" width="1" height="1"/>
<rect x="120.5" y="164.1" width="1" height="1"/>
<rect x="127.5" y="202.2" width="1" height="1"/>
<rect x="115.8" y="192.7" width="1" height="1"/>
<rect x="128.1" y="173.9" width="1" height="1"/>
<rect x="115.6" y="155.8" width="1" height="1"/>
<rect x="125.8" y="194.4" width="1" height="1"/>
<rect x="124.8" y="205.5" width="1" height="1"/>
<rect x="134.1" y="166.0" width="1" height="1"/>
<rect x="116.1" y="199.9" width="1" height="1"/>
<rect x="117.3" y="201.9" width="1" height="1"/>
<rect x="142.5" y="172.1" width="1" height="1"/>
<rect x="118.2" y="205.7" width="1" height="1"/>
<rect x="116.0" y="204.1" width="1" height="1"/>
<rect x="117.6" y="192.1" width="1" height="1"/>
<rect x="115.9" y="196.7" width="1" height="1"/>
<rect x="119.1" y="175.7" width="1" height="1"/>
<rect x="139.7" y="197.2" width="1" height="1"/>
<rect x="146.2" y="199.4" width="1" height="1"/>
<rect x="118.7" y="204.7" width="1" height="1"/>
<rect x="116.7" y="161.3" width="1" height="1"/>
<rect x="119.8" y="190.7" width="1" height="1"/>
<rect x="116.8" y="185.6" width="1" height="1"/>
<rect x="131.6" y="165.7" width="1" height="1"/>
<rect x="121.6" y="198.4" width="1" height="1"/>
<rect x="115.2" y="197.9" width="1" height="1"/>
<rect x="115.9" y="192.0" width="1" height="1"/>
<rect x="115.8" y="202.5" width="1" height="1"/>
<rect x="133.8" y="192.9" width="1" height="1"/>
<rect x="122.5" y="168.8" width="1" height="1"/>
<rect x="126.6" y="167.6" width="1" height="1"/>
<rect x="122.6" y="193.5" width="1" height="1"/>
<rect x="115.2" y="146.1" width="1" height="1"/>
<rect x="117.9" y="165.6" width="1" height="1"/>
<rect x="122.3" y="175.4" width="1" height="1"/>
<rect x="123.3" y="189.8" width="1" height="1"/>
<rect x="119.8" y="204.9" width="1" height="1"/>
<rect x="118.1" y="205.7" width="1" height="1"/>
<rect x="123.6" y="200.9" width="1" height="1"/>
<rect x="130.1" y="192.8" width="1" height="1"/>
<rect x="117.6" y="201.7" width="1" height="1"/>
<rect x="142.2" y="203.1" width="1" height="1"/>
<rect x="115.8" y="192.4" width="1" height="1"/>
<rect x="119.9" y="179.2" width="1" height="1"/>
<rect x="128.6" y="179.4" width="1" height="1"/>
<rect x="134.5" y="195.0" width="1" height="1"/>
<rect x="123.8" y="198.1" width="1" height="1"/>
<rect x="132.7" y="197.8" width="1" height="1"/>
<rect x="119.2" y="197.5" width="1" height="1"/>
<rect x="118.2" y="201.9" width="1" height="1"/>
<rect x="126.8" y="200.0" width="1" height="1"/>
<rect x="115.4" y="197.6" width="1" height="1"/>
<rect x="133.3" y="178.1" width="1" height="1"/>
<rect x="139.3" y="180.5" width="1" height="1"/>
<rect x="122.7" y="197.9" width="1" height="1"/>
<rect x="115.9" y="182.3" width="1" height="1"/>
<rect x="126.6" y="193.4" width="1" height="1"/>
<rect x="115.8" y="170.1" width="1" height="1"/>
<rect x="123.6" y="193.0" width="1" height="1"/>
<rect x="121.5" y="179.1" width="1" height="1"/>
<rect x="124.1" y="172.6" width="1" height="1"/>
<rect x="130.4" y="197.8" width="1" height="1"/>
<rect x="115.6" y="173.7" width="1" height="1"/>
<rect x="116.1" y="149.5" width="1" height="1"/>
<rect x="116.7" y="162.9" width="1" height="1"/>
<rect x="149.2" y="188.1" width="1" height="1"/>
<rect x="115.8" y="180.6" width="1" height="1"/>
<rect x="115.4" y="182.4" width="1" height="1"/>
<rect x="137.8" y="182.2" width="1" height="1"/>
<rect x="120.0" y="189.9" width="1" height="1"/>
<rect x="116.9" y="179.7" width="1" height="1"/>
<rect x="130.0" y="176.7" width="1" height="1"/>
<rect x="115.4" y="152.8" width="1" height="1"/>
<rect x="128.2" y="189.5" width="1" height="1"/>
<rect x="129.3" y="197.8" width="1" height="1"/>
<rect x="135.3" y="185.7" width="1" height="1"/>
<rect x="121.2" y="200.1" width="1" height="1"/>
<rect x="120.8" y="169.7" width="1" height="1"/>
<rect x="129.7" y="196.2" width="1" height="1"/>
<rect x="141.4" y="192.6" width="1" height="1"/>
<rect x="124.6" y="204.1" width="1" height="1"/>
<rect x="130.2" y="195.4" width="1" height="1"/>
<rect x="118.1" y="201.7" width="1" height="1"/>
<rect x="134.8" y="174.7" width="1" height="1"/>
<rect x="121.0" y="201.2" width="1" height="1"/>
<rect x="133.4" y="175.5" width="1" height="1"/>
<rect x="144.4" y="191.2" width="1" height="1"/>
<rect x="139.1" y="190.2" width="1" height="1"/>
<rect x="134.3" y="205.6" width="1" height="1"/>
<rect x="123.6" y="168.9" width="1" height="1"/>
<rect x="126.4" y="197.9" width="1" height="1"/>
<rect x="130.6" y="164.3" width="1" height="1"/>
<rect x="128.7" y="182.3" width="1" height="1"/>
<rect x="115.7" y="206.2" width="1" height="1"/>
<rect x="118.2" y="196.9" width="1" height="1"/>
<rect x="133.4" y="199.7" width="1" height="1"/>
<rect x="115.5" y="205.4" width="1" height="1"/>
<rect x="119.6" y="159.0" width="1" height="1"/>
<rect x="150.6" y="198.2" width="1" height="1"/>
<rect x="126.5" y="195.1" width="1" height="1"/>
<rect x="119.0" y="142.8" width="1" height="1"/>
<rect x="115.2" y="181.2" width="1" height="1"/>
<rect x="131.8" y="173.6" width="1" height="1"/>
<rect x="125.0" y="152.3" width="1" height="1"/>
<rect x="135.2" y="183.3" width="1" height="1"/>
<rect x="115.7" y="157.3" width="1" height="1"/>
<rect x="117.3" y="202.6" width="1" height="1"/>
<rect x="119.4" y="190.6" width="1" height="1"/>
<rect x="119.7" y="193.5" width="1" height="1"/>
<rect x="119.4" y="200.1" width="1" height="1"/>
<rect x="129.9" y="181.6" width="1" height="1"/>
<rect x="115.7" y="156.0" width="1" height="1"/>
<rect x="117.3" y="197.7" width="1" height="1"/>
<rect x="132.7" y="163.0" width="1" height="1"/>
<rect x="124.3" y="152.5" width="1" height="1"/>
<rect x="133.8" y="165.2" width="1" height="1"/>
<rect x="122.6" y="192.5" width="1" height="1"/>
<rect x="131.5" y="165.9" width="1" height="1"/>
<rect x="130.6" y="196.3" width="1" height="1"/>
<rect x="115.8" y="203.4" width="1" height="1"/>
<rect x="115.3" y="196.0" width="1" height="1"/>
<rect x="126.4" y="190.9" width="1" height="1"/>
<rect x="115.7" y="162.6" width="1" height="1"/>
<rect x="127.2" y="197.9" width="1" height="1"/>
<rect x="122.7" y="195.7" width="1" height="1"/>
<rect x="127.1" y="157.8" width="1" height="1"/>
<rect x="125.2" y="197.7" width="1" height="1"/>
<rect x="120.1" y="165.7" width="1" height="1"/>
<rect x="131.0" y="196.6" width="1" height="1"/>
<rect x="144.3" y="185.9" width="1" height="1"/>
<rect x="115.9" y="193.1" width="1" height="1"/>
<rect x="115.2" y="137.0" width="1" height="1"/>
<rect x="118.1" y="201.0" width="1" height="1"/>
<rect x="124.3" y="148.0" width="1" height="1"/>
<rect x="127.8" y="162.1" width="1" height="1"/>
<rect x="127.7" y="187.6" width="1" height="1"/>
<rect x="122.4" y="187.5" width="1" height="1"/>
<rect x="115.3" y="203.1" width="1" height="1"/>
<rect x="119.1" y="190.1" width="1" height="1"/>
<rect x="131.3" y="203.8" width="1" height="1"/>
<rect x="133.8" y="185.7" width="1" height="1"/>
<rect x="115.7" y="196.1" width="1" height="1"/>
<rect x="148.9" y="176.5" width="1" height="1"/>
<rect x="117.1" y="183.7" width="1" height="1"/>
<rect x="116.0" y="194.2" width="1" height="1"/>
<rect x="123.1" y="175.3" width="1" height="1"/>
<rect x="115.1" y="160.7" width="1" height="1"/>
<rect x="126.1" y="195.7" width="1" height="1"/>
<rect x="117.2" y="205.8" width="1" height="1"/>
<rect x="127.5" y="159.4" width="1" height="1"/>
<rect x="116.4" y="187.5" width="1" height="1"/>
<rect x="115.7" y="204.9" width="1" height="1"/>
<rect x="123.4" y="154.8" width="1" height="1"/>
<rect x="137.7" y="178.4" width="1" height="1"/>
<rect x="129.8" y="200.8" width="1" height="1"/>
<rect x="122.4" y="202.5" width="1" height="1"/>
<rect x="117.9" y="202.5" width="1" height="1"/>
<rect x="121.9" y="205.5" width="1" height="1"/>
<rect x="116.8" y="180.4" width="1" height="1"/>
<rect x="126.0" y="200.3" width="1" height="1"/>
<rect x="117.9" y="184.2" width="1" height="1"/>
<rect x="115.7" y="173.2" width="1" height="1"/>
<rect x="134.3" y="154.4" width="1" height="1"/>
<rect x="117.2" y="172.3" width="1" height="1"/>
<rect x="124.2" y="200.3" width="1" height="1"/>
<rect x="135.5" y="200.3" width="1" height="1"/>
<rect x="117.3" y="160.5" width="1" height="1"/>
<rect x="116.4" y="192.4" width="1" height="1"/>
<rect x="125.7" y="200.8" width="1" height="1"/>
<rect x="136.5" y="194.0" width="1" height="1"/>
<rect x="123.5" y="191.3" width="1" height="1"/>
<rect x="115.0" y="161.1" width="1" height="1"/>
<rect x="124.8" y="194.3" width="1" height="1"/>
<rect x="119.6" y="202.0" width="1" height="1"/>
<rect x="117.9" y="188.8" width="1" height="1"/>
<rect x="121.3" y="177.8" width="1" height="1"/>
<rect x="139.2" y="196.4" width="1" height="1"/>
<rect x="121.8" y="198.0" width="1" height="1"/>
<rect x="127.0" y="193.1" width="1" height="1"/>
<rect x="116.8" y="186.4" width="1" height="1"/>
<rect x="116.6" y="198.4" width="1" height="1"/>
<rect x="121.5" y="165.6" width="1" height="1"/>
<rect x="132.4" y="186.3" width="1" height="1"/>
<rect x="122.6" y="199.0" width="1" height="1"/>
<rect x="123.7" y="192.0" width="1" height="1"/>
<rect x="123.5" y="190.8" width="1" height="1"/>
<rect x="118.2" y="196.6" width="1" height="1"/>
<rect x="120.8" y="204.6" width="1" height="1"/>
<rect x="116.3" y="176.8" width="1" height="1"/>
<rect x="119.9" y="179.1" width="1" height="1"/>
<rect x="136.8" y="183.2" width="1" height="1"/>
<rect x="122.5" y="166.3" width="1" height="1"/>
<rect x="124.5" y="205.3" width="1" height="1"/>
<rect x="133.3" y="191.8" width="1" height="1"/>
<rect x="123.5" y="178.6" width="1" height="1"/>
<rect x="126.5" y="202.4" width="1" height="1"/>
<rect x="127.6" y="175.8" width="1" height="1"/>
<rect x="115.1" y="180.5" width="1" height="1"/>
<rect x="126.7" y="181.1" width="1" height="1"/>
<rect x="121.1" y="197.4" width="1" height="1"/>
<rect x="125.1" y="200.7" width="1" height="1"/>
<rect x="134.2" y="202.4" width="1" height="1"/>
<rect x="124.6" y="182.9" width="1" height="1"/>
<rect x="119.0" y="203.0" width="1" height="1"/>
<rect x="126.4" y="169.8" width="1" height="1"/>
<rect x="121.9" y="199.1" width="1" height="1"/>
<rect x="123.8" y="205.8" width="1" height="1"/>
<rect x="124.5" y="171.4" width="1" height="1"/>
<rect x="119.7" y="144.6" width="1" height="1"/>
<rect x="116.5" y="199.7" width="1" height="1"/>
<rect x="126.2" y="187.7" width="1" height="1"/>
<rect x="138.2" y="205.8" width="1" height="1"/>
<rect x="134.2" y="204.7" width="1" height="1"/>
<rect x="134.8" y="184.3" width="1" height="1"/>
<rect x="115.2" y="157.0" width="1" height="1"/>
<rect x="119.1" y="191.0" width="1" height="1"/>
<rect x="148.3" y="195.7" width="1" height="1"/>
<rect x="116.0" y="201.0" width="1" height="1"/>
<rect x="130.9" y="202.8" width="1" height="1"/>
<rect x="119.5" y="200.7" width="1" height="1"/>
<rect x="121.8" y="203.3" width="1" height="1"/>
<rect x="116.4" y="202.8" width="1" height="1"/>
<rect x="132.7" y="202.6" width="1" height="1"/>
<rect x="136.6" y="205.3" width="1" height="1"/>
<rect x="123.2" y="177.1" width="1" height="1"/>
<rect x="121.5" y="184.2" width="1" height="1"/>
<rect x="129.7" y="201.8" width="1" height="1"/>
<rect x="116.6" y="198.2" width="1" height="1"/>
<rect x="116.1" y="202.3" width="1" height="1"/>
<rect x="115.5" y="197.4" width="1" height="1"/>
<rect x="129.1" y="202.1" width="1" height="1"/>
<rect x="122.4" y="203.7" width="1" height="1"/>
<rect x="117.6" y="196.4" width="1" height="1"/>
<rect x="148.7" y="201.3" width="1" height="1"/>
<rect x="116.6" y="163.1" width="1" height="1"/>
<rect x="119.7" y="194.5" width="1" height="1"/>
<rect x="122.0" y="191.6" width="1" height="1"/>
<rect x="115.3" y="181.4" width="1" height="1"/>
<rect x="142.4" y="202.2" width="1" height="1"/>
<rect x="141.6" y="171.2" width="1" height="1"/>
<rect x="126.7" y="182.6" width="1" height="1"/>
<rect x="122.0" y="184.6" width="1" height="1"/>
<rect x="143.1" y="172.3" width="1" height="1"/>
<rect x="124.4" y="158.4" width="1" height="1"/>
<rect x="115.2" y="193.4" width="1" height="1"/>
<rect x="115.3" y="184.0" width="1" height="1"/>
<rect x="127.9" y="190.3" width="1" height="1"/>
<rect x="116.9" y="205.1" width="1" height="1"/>
<rect x="133.4" y="190.1" width="1" height="1"/>
<rect x="123.2" y="180.3" width="1" height="1"/>
<rect x="117.0" y="183.2" width="1" height="1"/>
<rect x="123.3" y="149.4" width="1" height="1"/>
<rect x="137.2" y="196.2" width="1" height="1"/>
<rect x="129.6" y="201.6" width="1" height="1"/>
<rect x="120.7" y="182.1" width="1" height="1"/>
<rect x="119.9" y="191.7" width="1" height="1"/>
<rect x="117.1" y="156.2" width="1" height="1"/>
<rect x="117.8" y="182.0" width="1" height="1"/>
<rect x="126.4" y="206.1" width="1" height="1"/>
<rect x="125.3" y="197.4" width="1" height="1"/>
<rect x="127.3" y="188.0" width="1" height="1"/>
<rect x="134.2" y="197.1" width="1" height="1"/>
<rect x="125.2" y="188.7" width="1" height="1"/>
<rect x="136.0" y="205.1" width="1" height="1"/>
<rect x="121.7" y="204.3" width="1" height="1"/>
<rect x="121.4" y="198.5" width="1" height="1"/>
<rect x="123.4" y="179.1" width="1" height="1"/>
<rect x="115.1" y="186.5" width="1" height="1"/>
<rect x="116.7" y="195.7" width="1" height="1"/>
<rect x="139.9" y="185.5" width="1" height="1"/>
<rect x="121.8" y="158.7" width="1" height="1"/>
<rect x="134.7" y="204.3" width="1" height="1"/>
<rect x="122.1" y="196.0" width="1" height="1"/>
<rect x="115.5" y="166.3" width="1" height="1"/>
<rect x="149.2" y="42.2" width="1" height="1"/>
<rect x="130.0" y="56.0" width="1" height="1"/>
<rect x="135.4" y="71.3" width="1" height="1"/>
<rect x="130.0" y="77.5" width="1" height="1"/>
<rect x="133.5" y="62.2" width="1" height="1"/>
<rect x="130.0" y="95.7" width="1" height="1"/>
<rect x="137.2" y="106.5" width="1" height="1"/>
<rect x="144.5" y="106.5" width="1" height="1"/>
<rect x="128.1" y="110.2" width="1" height="1"/>
<rect x="127.4" y="116.0" width="1" height="1"/>
<rect x="119.8" y="117.9" width="1" height="1"/>
<rect x="139.0" y="120.5" width="1" height="1"/>
<rect x="133.5" y="122.2" width="1" height="1"/>
<rect x="122.7" y="127.0" width="1" height="1"/>
<rect x="153.5" y="127.7" width="1" height="1"/>
<rect x="169.0" y="140.5" width="1" height="1"/>
<rect x="152.5" y="128.0" width="1" height="1"/>
<rect x="189.5" y="182.5" width="1" height="1"/>
<rect x="174.5" y="179.0" width="1" height="1"/>
<rect x="163.5" y="168.5" width="1" height="1"/>
<rect x="210.5" y="198.0" width="1" height="1"/>
<rect x="204.5" y="199.0" width="1" height="1"/>
<rect x="191.5" y="200.5" width="1" height="1"/>
<rect x="187.0" y="202.0" width="1" height="1"/>
<rect x="177.5" y="201.0" width="1" height="1"/>
<rect x="118.5" y="123.5" width="1" height="1"/>
<rect x="117.0" y="130.5" width="1" height="1"/>
<rect x="124.5" y="124.5" width="1" height="1"/>
</g>
<line x1="27.900000000000002" y1="207.5" x2="29.1" y2="207.5" stroke="#666" stroke-width="0.4"/>
<text x="27.3" y="208.6" font-size="3.0" text-anchor="end" font-weight="normal" fill="#444" stroke="#444" stroke-width="0.1" font-family='"Liberation Sans", sans-serif' transform="rotate(0.03 27.3 208.6)">0</text>
<line x1="27.900000000000002" y1="145.9" x2="29.1" y2="145.9" stroke="#666" stroke-width="0.4"/>
<text x="27.3" y="147.0" font-size="3.0" text-anchor="end" font-weight="normal" fill="#444" stroke="#444" stroke-width="0.1" font-family='"Liberation Sans", sans-serif' transform="rotate(0.03 27.3 147.0)">100</text>
<line x1="27.900000000000002" y1="84.3" x2="29.1" y2="84.3" stroke="#666" stroke-width="0.4"/>
<text x="27.3" y="85.39999999999999" font-size="3.0" text-anchor="end" font-weight="normal" fill="#444" stroke="#444" stroke-width="0.1" font-family='"Liberation Sans", sans-serif' transform="rotate(0.03 27.3 85.39999999999999)">200</text>
<line x1="40.400000000000006" y1="216" x2="40.400000000000006" y2="217.2" stroke="#666" stroke-width="0.4"/>
<text x="40.400000000000006" y="220.0" font-size="3.0" text-anchor="middle" font-weight="normal" fill="#444" stroke="#444" stroke-width="0.1" font-family='"Liberation Sans", sans-serif' transform="rotate(0.03 40.400000000000006 220.0)">−5</text>
<line x1="103.0" y1="216" x2="103.0" y2="217.2" stroke="#666" stroke-width="0.4"/>
<text x="103.0" y="220.0" font-size="3.0" text-anchor="middle" font-weight="normal" fill="#444" stroke="#444" stroke-width="0.1" font-family='"Liberation Sans", sans-serif' transform="rotate(0.03 103.0 220.0)">0</text>
<line x1="165.6" y1="216" x2="165.6" y2="217.2" stroke="#666" stroke-width="0.4"/>
<text x="165.6" y="220.0" font-size="3.0" text-anchor="middle" font-weight="normal" fill="#444" stroke="#444" stroke-width="0.1" font-family='"Liberation Sans", sans-serif' transform="rotate(0.03 165.6 220.0)">5</text>
<text x="124.1" y="31.2" font-size="4.66" text-anchor="middle" font-weight="bold" fill="#222" stroke="#222" stroke-width="0.12" font-family='"Liberation Sans", sans-serif' transform="rotate(0.03 124.1 31.2)">si_mRNA−vs−nc_mRNA</text>
<text x="124.7" y="225.7" font-size="4.25" text-anchor="middle" font-weight="normal" fill="#222" stroke="#222" stroke-width="0.14" font-family='"Liberation Sans", sans-serif' transform="rotate(0.03 124.7 225.7)">log2(FoldChange)</text>
<text x="19.9" y="125.3" font-size="4.5" text-anchor="middle" font-weight="normal" fill="#222" stroke="#222" stroke-width="0.14" font-family='"Liberation Sans", sans-serif' transform="rotate(-89.97 19.9 125.3)">−log10(padj)</text>
<text x="225.0" y="113.3" font-size="4.0" text-anchor="start" font-weight="normal" fill="#444" stroke="#444" stroke-width="0.03" font-family='"Liberation Sans", sans-serif' transform="rotate(0.03 225.0 113.3)">padj &lt; 0.05</text>
<text x="225.0" y="118.1" font-size="4.0" text-anchor="start" font-weight="normal" fill="#444" stroke="#444" stroke-width="0.03" font-family='"Liberation Sans", sans-serif' transform="rotate(0.03 225.0 118.1)">|FoldChange| &gt; 2</text>
<rect x="228.50" y="123.50" width="1.00" height="1.00" fill="#ff3a14" stroke="none" stroke-width="0.5" fill-opacity="0.7"/>
<text x="233.6" y="125.2" font-size="3.4" text-anchor="start" font-weight="normal" fill="#333" stroke="#333" stroke-width="0.09" font-family='"Liberation Sans", sans-serif' transform="rotate(0.03 233.6 125.2)">Up (1,218)</text>
<rect x="228.50" y="130.20" width="1.00" height="1.00" fill="#bdbdbd" stroke="none" stroke-width="0.5" fill-opacity="0.7"/>
<text x="233.6" y="131.89999999999998" font-size="3.4" text-anchor="start" font-weight="normal" fill="#333" stroke="#333" stroke-width="0.09" font-family='"Liberation Sans", sans-serif' transform="rotate(0.03 233.6 131.89999999999998)">Normal (16,418)</text>
<rect x="228.50" y="136.70" width="1.00" height="1.00" fill="#3f4fc0" stroke="none" stroke-width="0.5" fill-opacity="0.7"/>
<text x="233.6" y="138.39999999999998" font-size="3.4" text-anchor="start" font-weight="normal" fill="#333" stroke="#333" stroke-width="0.09" font-family='"Liberation Sans", sans-serif' transform="rotate(0.03 233.6 138.39999999999998)">Down (541)</text>
</g>
<g id="gobar">
<rect x="387.00" y="32.40" width="88.30" height="53.50" fill="#fff" stroke="none" stroke-width="0.5"/>
<line x1="391.3" y1="32.4" x2="391.3" y2="85.9" stroke="#e6e6e6" stroke-width="0.5"/>
<line x1="411.27000000000004" y1="32.4" x2="411.27000000000004" y2="85.9" stroke="#e6e6e6" stroke-width="0.5"/>
<line x1="431.24" y1="32.4" x2="431.24" y2="85.9" stroke="#e6e6e6" stroke-width="0.5"/>
<line x1="451.21000000000004" y1="32.4" x2="451.21000000000004" y2="85.9" stroke="#e6e6e6" stroke-width="0.5"/>
<line x1="471.18" y1="32.4" x2="471.18" y2="85.9" stroke="#e6e6e6" stroke-width="0.5"/>
<line x1="401.285" y1="32.4" x2="401.285" y2="85.9" stroke="#f0f0f0" stroke-width="0.3"/>
<line x1="421.255" y1="32.4" x2="421.255" y2="85.9" stroke="#f0f0f0" stroke-width="0.3"/>
<line x1="441.225" y1="32.4" x2="441.225" y2="85.9" stroke="#f0f0f0" stroke-width="0.3"/>
<line x1="461.19500000000005" y1="32.4" x2="461.19500000000005" y2="85.9" stroke="#f0f0f0" stroke-width="0.3"/>
<line x1="387.0" y1="35.54705882352941" x2="475.3" y2="35.54705882352941" stroke="#ebebeb" stroke-width="0.4"/>
<line x1="387.0" y1="40.792156862745095" x2="475.3" y2="40.792156862745095" stroke="#ebebeb" stroke-width="0.4"/>
<line x1="387.0" y1="46.037254901960786" x2="475.3" y2="46.037254901960786" stroke="#ebebeb" stroke-width="0.4"/>
<line x1="387.0" y1="51.28235294117647" x2="475.3" y2="51.28235294117647" stroke="#ebebeb" stroke-width="0.4"/>
<line x1="387.0" y1="56.52745098039216" x2="475.3" y2="56.52745098039216" stroke="#ebebeb" stroke-width="0.4"/>
<line x1="387.0" y1="61.772549019607844" x2="475.3" y2="61.772549019607844" stroke="#ebebeb" stroke-width="0.4"/>
<line x1="387.0" y1="67.01764705882354" x2="475.3" y2="67.01764705882354" stroke="#ebebeb" stroke-width="0.4"/>
<line x1="387.0" y1="72.26274509803922" x2="475.3" y2="72.26274509803922" stroke="#ebebeb" stroke-width="0.4"/>
<line x1="387.0" y1="77.50784313725491" x2="475.3" y2="77.50784313725491" stroke="#ebebeb" stroke-width="0.4"/>
<line x1="387.0" y1="82.75294117647059" x2="475.3" y2="82.75294117647059" stroke="#ebebeb" stroke-width="0.4"/>
<rect x="391.30" y="33.19" width="79.88" height="4.72" fill="#ff0814" stroke="none" stroke-width="0.5"/>
<line x1="385.8" y1="35.54705882352941" x2="387.0" y2="35.54705882352941" stroke="#444" stroke-width="0.4"/>
<text x="384.7" y="37.09705882352941" font-size="4.42" text-anchor="end" font-weight="normal" fill="#1a1a1a" stroke="#1a1a1a" stroke-width="0.12" font-family='"Liberation Sans", sans-serif' transform="rotate(0.03 384.7 37.09705882352941)">ossification</text>
<rect x="391.30" y="38.43" width="75.89" height="4.72" fill="#fb0a2a" stroke="none" stroke-width="0.5"/>
<line x1="385.8" y1="40.792156862745095" x2="387.0" y2="40.792156862745095" stroke="#444" stroke-width="0.4"/>
<text x="384.7" y="42.34215686274509" font-size="4.42" text-anchor="end" font-weight="normal" fill="#1a1a1a" stroke="#1a1a1a" stroke-width="0.12" font-family='"Liberation Sans", sans-serif' transform="rotate(0.03 384.7 42.34215686274509)">positive regulation of response to external stimulus</text>
<rect x="391.30" y="43.68" width="66.90" height="4.72" fill="#fa0b31" stroke="none" stroke-width="0.5"/>
<line x1="385.8" y1="46.037254901960786" x2="387.0" y2="46.037254901960786" stroke="#444" stroke-width="0.4"/>
<text x="384.7" y="47.58725490196078" font-size="4.42" text-anchor="end" font-weight="normal" fill="#1a1a1a" stroke="#1a1a1a" stroke-width="0.12" font-family='"Liberation Sans", sans-serif' transform="rotate(0.03 384.7 47.58725490196078)">cell- substrate adhesion</text>
<rect x="391.30" y="48.92" width="76.88" height="4.72" fill="#f90c35" stroke="none" stroke-width="0.5"/>
<line x1="385.8" y1="51.28235294117647" x2="387.0" y2="51.28235294117647" stroke="#444" stroke-width="0.4"/>
<text x="384.7" y="52.83235294117647" font-size="4.42" text-anchor="end" font-weight="normal" fill="#1a1a1a" stroke="#1a1a1a" stroke-width="0.12" font-family='"Liberation Sans", sans-serif' transform="rotate(0.03 384.7 52.83235294117647)">axonogenesis</text>
<rect x="391.30" y="54.17" width="26.96" height="4.72" fill="#f90c38" stroke="none" stroke-width="0.5"/>
<line x1="385.8" y1="56.52745098039216" x2="387.0" y2="56.52745098039216" stroke="#444" stroke-width="0.4"/>
<text x="384.7" y="58.07745098039216" font-size="4.42" text-anchor="end" font-weight="normal" fill="#1a1a1a" stroke="#1a1a1a" stroke-width="0.12" font-family='"Liberation Sans", sans-serif' transform="rotate(0.03 384.7 58.07745098039216)">response to interferon- beta</text>
<rect x="391.30" y="59.41" width="76.88" height="4.72" fill="#f80c3b" stroke="none" stroke-width="0.5"/>
<line x1="385.8" y1="61.772549019607844" x2="387.0" y2="61.772549019607844" stroke="#444" stroke-width="0.4"/>
<text x="384.7" y="63.32254901960784" font-size="4.42" text-anchor="end" font-weight="normal" fill="#1a1a1a" stroke="#1a1a1a" stroke-width="0.12" font-family='"Liberation Sans", sans-serif' transform="rotate(0.03 384.7 63.32254901960784)">regulation of cell- cell adhesion</text>
<rect x="391.30" y="64.66" width="61.91" height="4.72" fill="#f80d3f" stroke="none" stroke-width="0.5"/>
<line x1="385.8" y1="67.01764705882354" x2="387.0" y2="67.01764705882354" stroke="#444" stroke-width="0.4"/>
<text x="384.7" y="68.56764705882354" font-size="4.42" text-anchor="end" font-weight="normal" fill="#1a1a1a" stroke="#1a1a1a" stroke-width="0.12" font-family='"Liberation Sans", sans-serif' transform="rotate(0.03 384.7 68.56764705882354)">response to virus</text>
<rect x="391.30" y="69.90" width="62.91" height="4.72" fill="#f70d44" stroke="none" stroke-width="0.5"/>
<line x1="385.8" y1="72.26274509803922" x2="387.0" y2="72.26274509803922" stroke="#444" stroke-width="0.4"/>
<text x="384.7" y="73.81274509803922" font-size="4.42" text-anchor="end" font-weight="normal" fill="#1a1a1a" stroke="#1a1a1a" stroke-width="0.12" font-family='"Liberation Sans", sans-serif' transform="rotate(0.03 384.7 73.81274509803922)">negative regulation of locomotion</text>
<rect x="391.30" y="75.15" width="57.91" height="4.72" fill="#f60d47" stroke="none" stroke-width="0.5"/>
<line x1="385.8" y1="77.50784313725491" x2="387.0" y2="77.50784313725491" stroke="#444" stroke-width="0.4"/>
<text x="384.7" y="79.0578431372549" font-size="4.42" text-anchor="end" font-weight="normal" fill="#1a1a1a" stroke="#1a1a1a" stroke-width="0.12" font-family='"Liberation Sans", sans-serif' transform="rotate(0.03 384.7 79.0578431372549)">negative regulation of cell migration</text>
<rect x="391.30" y="80.39" width="23.96" height="4.72" fill="#1e3cb0" stroke="none" stroke-width="0.5"/>
<line x1="385.8" y1="82.75294117647059" x2="387.0" y2="82.75294117647059" stroke="#444" stroke-width="0.4"/>
<text x="384.7" y="84.30294117647058" font-size="4.42" text-anchor="end" font-weight="normal" fill="#1a1a1a" stroke="#1a1a1a" stroke-width="0.12" font-family='"Liberation Sans", sans-serif' transform="rotate(0.03 384.7 84.30294117647058)">response to endoplasmic reticulum stress</text>
<rect x="387.00" y="32.40" width="88.30" height="53.50" fill="none" stroke="#4a4a4a" stroke-width="0.5"/>
<rect x="475.30" y="32.40" width="8.30" height="53.50" fill="#d9d9d9" stroke="#4a4a4a" stroke-width="0.5"/>
<text x="478.15000000000003" y="59.150000000000006" font-size="4.0" text-anchor="middle" font-weight="normal" fill="#333" font-family='"Liberation Sans", sans-serif' transform="rotate(90.03 478.15000000000003 59.150000000000006)">BP</text>
<rect x="387.00" y="88.70" width="88.30" height="52.90" fill="#fff" stroke="none" stroke-width="0.5"/>
<line x1="391.3" y1="88.7" x2="391.3" y2="141.6" stroke="#e6e6e6" stroke-width="0.5"/>
<line x1="411.27000000000004" y1="88.7" x2="411.27000000000004" y2="141.6" stroke="#e6e6e6" stroke-width="0.5"/>
<line x1="431.24" y1="88.7" x2="431.24" y2="141.6" stroke="#e6e6e6" stroke-width="0.5"/>
<line x1="451.21000000000004" y1="88.7" x2="451.21000000000004" y2="141.6" stroke="#e6e6e6" stroke-width="0.5"/>
<line x1="471.18" y1="88.7" x2="471.18" y2="141.6" stroke="#e6e6e6" stroke-width="0.5"/>
<line x1="401.285" y1="88.7" x2="401.285" y2="141.6" stroke="#f0f0f0" stroke-width="0.3"/>
<line x1="421.255" y1="88.7" x2="421.255" y2="141.6" stroke="#f0f0f0" stroke-width="0.3"/>
<line x1="441.225" y1="88.7" x2="441.225" y2="141.6" stroke="#f0f0f0" stroke-width="0.3"/>
<line x1="461.19500000000005" y1="88.7" x2="461.19500000000005" y2="141.6" stroke="#f0f0f0" stroke-width="0.3"/>
<line x1="387.0" y1="91.81176470588235" x2="475.3" y2="91.81176470588235" stroke="#ebebeb" stroke-width="0.4"/>
<line x1="387.0" y1="96.99803921568628" x2="475.3" y2="96.99803921568628" stroke="#ebebeb" stroke-width="0.4"/>
<line x1="387.0" y1="102.1843137254902" x2="475.3" y2="102.1843137254902" stroke="#ebebeb" stroke-width="0.4"/>
<line x1="387.0" y1="107.37058823529412" x2="475.3" y2="107.37058823529412" stroke="#ebebeb" stroke-width="0.4"/>
<line x1="387.0" y1="112.55686274509804" x2="475.3" y2="112.55686274509804" stroke="#ebebeb" stroke-width="0.4"/>
<line x1="387.0" y1="117.74313725490195" x2="475.3" y2="117.74313725490195" stroke="#ebebeb" stroke-width="0.4"/>
<line x1="387.0" y1="122.92941176470588" x2="475.3" y2="122.92941176470588" stroke="#ebebeb" stroke-width="0.4"/>
<line x1="387.0" y1="128.1156862745098" x2="475.3" y2="128.1156862745098" stroke="#ebebeb" stroke-width="0.4"/>
<line x1="387.0" y1="133.30196078431374" x2="475.3" y2="133.30196078431374" stroke="#ebebeb" stroke-width="0.4"/>
<line x1="387.0" y1="138.48823529411766" x2="475.3" y2="138.48823529411766" stroke="#ebebeb" stroke-width="0.4"/>
<rect x="391.30" y="89.48" width="69.90" height="4.67" fill="#f60d47" stroke="none" stroke-width="0.5"/>
<line x1="385.8" y1="91.81176470588235" x2="387.0" y2="91.81176470588235" stroke="#444" stroke-width="0.4"/>
<text x="384.7" y="93.36176470588235" font-size="4.42" text-anchor="end" font-weight="normal" fill="#1a1a1a" stroke="#1a1a1a" stroke-width="0.12" font-family='"Liberation Sans", sans-serif' transform="rotate(0.03 384.7 93.36176470588235)">collagen- containing extracellular matrix</text>
<rect x="391.30" y="94.66" width="57.91" height="4.67" fill="#ad1b9c" stroke="none" stroke-width="0.5"/>
<line x1="385.8" y1="96.99803921568628" x2="387.0" y2="96.99803921568628" stroke="#444" stroke-width="0.4"/>
<text x="384.7" y="98.54803921568627" font-size="4.42" text-anchor="end" font-weight="normal" fill="#1a1a1a" stroke="#1a1a1a" stroke-width="0.12" font-family='"Liberation Sans", sans-serif' transform="rotate(0.03 384.7 98.54803921568627)">receptor complex</text>
<rect x="391.30" y="99.85" width="34.95" height="4.67" fill="#a11e9e" stroke="none" stroke-width="0.5"/>
<line x1="385.8" y1="102.1843137254902" x2="387.0" y2="102.1843137254902" stroke="#444" stroke-width="0.4"/>
<text x="384.7" y="103.7343137254902" font-size="4.42" text-anchor="end" font-weight="normal" fill="#1a1a1a" stroke="#1a1a1a" stroke-width="0.12" font-family='"Liberation Sans", sans-serif' transform="rotate(0.03 384.7 103.7343137254902)">anchored component of membrane</text>
<rect x="391.30" y="105.04" width="57.91" height="4.67" fill="#9b209f" stroke="none" stroke-width="0.5"/>
<line x1="385.8" y1="107.37058823529412" x2="387.0" y2="107.37058823529412" stroke="#444" stroke-width="0.4"/>
<text x="384.7" y="108.92058823529412" font-size="4.42" text-anchor="end" font-weight="normal" fill="#1a1a1a" stroke="#1a1a1a" stroke-width="0.12" font-family='"Liberation Sans", sans-serif' transform="rotate(0.03 384.7 108.92058823529412)">apical part of cell</text>
<rect x="391.30" y="110.22" width="47.93" height="4.67" fill="#9123a1" stroke="none" stroke-width="0.5"/>
<line x1="385.8" y1="112.55686274509804" x2="387.0" y2="112.55686274509804" stroke="#444" stroke-width="0.4"/>
<text x="384.7" y="114.10686274509804" font-size="4.42" text-anchor="end" font-weight="normal" fill="#1a1a1a" stroke="#1a1a1a" stroke-width="0.12" font-family='"Liberation Sans", sans-serif' transform="rotate(0.03 384.7 114.10686274509804)">membrane raft</text>
<rect x="391.30" y="115.41" width="45.93" height="4.67" fill="#8a24a2" stroke="none" stroke-width="0.5"/>
<line x1="385.8" y1="117.74313725490195" x2="387.0" y2="117.74313725490195" stroke="#444" stroke-width="0.4"/>
<text x="384.7" y="119.29313725490195" font-size="4.42" text-anchor="end" font-weight="normal" fill="#1a1a1a" stroke="#1a1a1a" stroke-width="0.12" font-family='"Liberation Sans", sans-serif' transform="rotate(0.03 384.7 119.29313725490195)">apical plasma membrane</text>
<rect x="391.30" y="120.60" width="47.93" height="4.67" fill="#8525a2" stroke="none" stroke-width="0.5"/>
<line x1="385.8" y1="122.92941176470588" x2="387.0" y2="122.92941176470588" stroke="#444" stroke-width="0.4"/>
<text x="384.7" y="124.47941176470587" font-size="4.42" text-anchor="end" font-weight="normal" fill="#1a1a1a" stroke="#1a1a1a" stroke-width="0.12" font-family='"Liberation Sans", sans-serif' transform="rotate(0.03 384.7 124.47941176470587)">membrane microdomain</text>
<rect x="391.30" y="125.78" width="27.96" height="4.67" fill="#8026a1" stroke="none" stroke-width="0.5"/>
<line x1="385.8" y1="128.1156862745098" x2="387.0" y2="128.1156862745098" stroke="#444" stroke-width="0.4"/>
<text x="384.7" y="129.66568627450982" font-size="4.42" text-anchor="end" font-weight="normal" fill="#1a1a1a" stroke="#1a1a1a" stroke-width="0.12" font-family='"Liberation Sans", sans-serif' transform="rotate(0.03 384.7 129.66568627450982)">focal adhesion</text>
<rect x="391.30" y="130.97" width="21.97" height="4.67" fill="#7c27a1" stroke="none" stroke-width="0.5"/>
<line x1="385.8" y1="133.30196078431374" x2="387.0" y2="133.30196078431374" stroke="#444" stroke-width="0.4"/>
<text x="384.7" y="134.85196078431375" font-size="4.42" text-anchor="end" font-weight="normal" fill="#1a1a1a" stroke="#1a1a1a" stroke-width="0.12" font-family='"Liberation Sans", sans-serif' transform="rotate(0.03 384.7 134.85196078431375)">basement membrane</text>
<rect x="391.30" y="136.15" width="27.96" height="4.67" fill="#7728a1" stroke="none" stroke-width="0.5"/>
<line x1="385.8" y1="138.48823529411766" x2="387.0" y2="138.48823529411766" stroke="#444" stroke-width="0.4"/>
<text x="384.7" y="140.03823529411767" font-size="4.42" text-anchor="end" font-weight="normal" fill="#1a1a1a" stroke="#1a1a1a" stroke-width="0.12" font-family='"Liberation Sans", sans-serif' transform="rotate(0.03 384.7 140.03823529411767)">cell- substrate junction</text>
<rect x="387.00" y="88.70" width="88.30" height="52.90" fill="none" stroke="#4a4a4a" stroke-width="0.5"/>
<rect x="475.30" y="88.70" width="8.30" height="52.90" fill="#d9d9d9" stroke="#4a4a4a" stroke-width="0.5"/>
<text x="478.15000000000003" y="115.15" font-size="4.0" text-anchor="middle" font-weight="normal" fill="#333" font-family='"Liberation Sans", sans-serif' transform="rotate(90.03 478.15000000000003 115.15)">CC</text>
<rect x="387.00" y="144.80" width="88.30" height="53.30" fill="#fff" stroke="none" stroke-width="0.5"/>
<line x1="391.3" y1="144.8" x2="391.3" y2="198.1" stroke="#e6e6e6" stroke-width="0.5"/>
<line x1="411.27000000000004" y1="144.8" x2="411.27000000000004" y2="198.1" stroke="#e6e6e6" stroke-width="0.5"/>
<line x1="431.24" y1="144.8" x2="431.24" y2="198.1" stroke="#e6e6e6" stroke-width="0.5"/>
<line x1="451.21000000000004" y1="144.8" x2="451.21000000000004" y2="198.1" stroke="#e6e6e6" stroke-width="0.5"/>
<line x1="471.18" y1="144.8" x2="471.18" y2="198.1" stroke="#e6e6e6" stroke-width="0.5"/>
<line x1="401.285" y1="144.8" x2="401.285" y2="198.1" stroke="#f0f0f0" stroke-width="0.3"/>
<line x1="421.255" y1="144.8" x2="421.255" y2="198.1" stroke="#f0f0f0" stroke-width="0.3"/>
<line x1="441.225" y1="144.8" x2="441.225" y2="198.1" stroke="#f0f0f0" stroke-width="0.3"/>
<line x1="461.19500000000005" y1="144.8" x2="461.19500000000005" y2="198.1" stroke="#f0f0f0" stroke-width="0.3"/>
<line x1="387.0" y1="147.9352941176471" x2="475.3" y2="147.9352941176471" stroke="#ebebeb" stroke-width="0.4"/>
<line x1="387.0" y1="153.16078431372551" x2="475.3" y2="153.16078431372551" stroke="#ebebeb" stroke-width="0.4"/>
<line x1="387.0" y1="158.38627450980394" x2="475.3" y2="158.38627450980394" stroke="#ebebeb" stroke-width="0.4"/>
<line x1="387.0" y1="163.61176470588236" x2="475.3" y2="163.61176470588236" stroke="#ebebeb" stroke-width="0.4"/>
<line x1="387.0" y1="168.8372549019608" x2="475.3" y2="168.8372549019608" stroke="#ebebeb" stroke-width="0.4"/>
<line x1="387.0" y1="174.06274509803922" x2="475.3" y2="174.06274509803922" stroke="#ebebeb" stroke-width="0.4"/>
<line x1="387.0" y1="179.28823529411767" x2="475.3" y2="179.28823529411767" stroke="#ebebeb" stroke-width="0.4"/>
<line x1="387.0" y1="184.5137254901961" x2="475.3" y2="184.5137254901961" stroke="#ebebeb" stroke-width="0.4"/>
<line x1="387.0" y1="189.73921568627452" x2="475.3" y2="189.73921568627452" stroke="#ebebeb" stroke-width="0.4"/>
<line x1="387.0" y1="194.96470588235294" x2="475.3" y2="194.96470588235294" stroke="#ebebeb" stroke-width="0.4"/>
<rect x="391.30" y="145.58" width="40.94" height="4.70" fill="#da1183" stroke="none" stroke-width="0.5"/>
<line x1="385.8" y1="147.9352941176471" x2="387.0" y2="147.9352941176471" stroke="#444" stroke-width="0.4"/>
<text x="384.7" y="149.4852941176471" font-size="4.42" text-anchor="end" font-weight="normal" fill="#1a1a1a" stroke="#1a1a1a" stroke-width="0.12" font-family='"Liberation Sans", sans-serif' transform="rotate(0.03 384.7 149.4852941176471)">glycosaminoglycan binding</text>
<rect x="391.30" y="150.81" width="59.91" height="4.70" fill="#d71187" stroke="none" stroke-width="0.5"/>
<line x1="385.8" y1="153.16078431372551" x2="387.0" y2="153.16078431372551" stroke="#444" stroke-width="0.4"/>
<text x="384.7" y="154.71078431372553" font-size="4.42" text-anchor="end" font-weight="normal" fill="#1a1a1a" stroke="#1a1a1a" stroke-width="0.12" font-family='"Liberation Sans", sans-serif' transform="rotate(0.03 384.7 154.71078431372553)">actin binding</text>
<rect x="391.30" y="156.03" width="46.93" height="4.70" fill="#d2128f" stroke="none" stroke-width="0.5"/>
<line x1="385.8" y1="158.38627450980394" x2="387.0" y2="158.38627450980394" stroke="#444" stroke-width="0.4"/>
<text x="384.7" y="159.93627450980395" font-size="4.42" text-anchor="end" font-weight="normal" fill="#1a1a1a" stroke="#1a1a1a" stroke-width="0.12" font-family='"Liberation Sans", sans-serif' transform="rotate(0.03 384.7 159.93627450980395)">cell adhesion molecule binding</text>
<rect x="391.30" y="161.26" width="30.95" height="4.70" fill="#c71497" stroke="none" stroke-width="0.5"/>
<line x1="385.8" y1="163.61176470588236" x2="387.0" y2="163.61176470588236" stroke="#444" stroke-width="0.4"/>
<text x="384.7" y="165.16176470588238" font-size="4.42" text-anchor="end" font-weight="normal" fill="#1a1a1a" stroke="#1a1a1a" stroke-width="0.12" font-family='"Liberation Sans", sans-serif' transform="rotate(0.03 384.7 165.16176470588238)">growth factor binding</text>
<rect x="391.30" y="166.49" width="29.96" height="4.70" fill="#c01698" stroke="none" stroke-width="0.5"/>
<line x1="385.8" y1="168.8372549019608" x2="387.0" y2="168.8372549019608" stroke="#444" stroke-width="0.4"/>
<text x="384.7" y="170.3872549019608" font-size="4.42" text-anchor="end" font-weight="normal" fill="#1a1a1a" stroke="#1a1a1a" stroke-width="0.12" font-family='"Liberation Sans", sans-serif' transform="rotate(0.03 384.7 170.3872549019608)">extracellular matrix structural constituent</text>
<rect x="391.30" y="171.71" width="29.96" height="4.70" fill="#b6189a" stroke="none" stroke-width="0.5"/>
<line x1="385.8" y1="174.06274509803922" x2="387.0" y2="174.06274509803922" stroke="#444" stroke-width="0.4"/>
<text x="384.7" y="175.61274509803923" font-size="4.42" text-anchor="end" font-weight="normal" fill="#1a1a1a" stroke="#1a1a1a" stroke-width="0.12" font-family='"Liberation Sans", sans-serif' transform="rotate(0.03 384.7 175.61274509803923)">integrin binding</text>
<rect x="391.30" y="176.94" width="30.95" height="4.70" fill="#af1a9c" stroke="none" stroke-width="0.5"/>
<line x1="385.8" y1="179.28823529411767" x2="387.0" y2="179.28823529411767" stroke="#444" stroke-width="0.4"/>
<text x="384.7" y="180.83823529411768" font-size="4.42" text-anchor="end" font-weight="normal" fill="#1a1a1a" stroke="#1a1a1a" stroke-width="0.12" font-family='"Liberation Sans", sans-serif' transform="rotate(0.03 384.7 180.83823529411768)">heparin binding</text>
<rect x="391.30" y="182.16" width="40.94" height="4.70" fill="#a51d9d" stroke="none" stroke-width="0.5"/>
<line x1="385.8" y1="184.5137254901961" x2="387.0" y2="184.5137254901961" stroke="#444" stroke-width="0.4"/>
<text x="384.7" y="186.0637254901961" font-size="4.42" text-anchor="end" font-weight="normal" fill="#1a1a1a" stroke="#1a1a1a" stroke-width="0.12" font-family='"Liberation Sans", sans-serif' transform="rotate(0.03 384.7 186.0637254901961)">GTPase activity</text>
<rect x="391.30" y="187.39" width="17.97" height="4.70" fill="#8925a2" stroke="none" stroke-width="0.5"/>
<line x1="385.8" y1="189.73921568627452" x2="387.0" y2="189.73921568627452" stroke="#444" stroke-width="0.4"/>
<text x="384.7" y="191.28921568627453" font-size="4.42" text-anchor="end" font-weight="normal" fill="#1a1a1a" stroke="#1a1a1a" stroke-width="0.12" font-family='"Liberation Sans", sans-serif' transform="rotate(0.03 384.7 191.28921568627453)">collagen binding</text>
<rect x="391.30" y="192.61" width="36.94" height="4.70" fill="#8525a2" stroke="none" stroke-width="0.5"/>
<line x1="385.8" y1="194.96470588235294" x2="387.0" y2="194.96470588235294" stroke="#444" stroke-width="0.4"/>
<text x="384.7" y="196.51470588235296" font-size="4.42" text-anchor="end" font-weight="normal" fill="#1a1a1a" stroke="#1a1a1a" stroke-width="0.12" font-family='"Liberation Sans", sans-serif' transform="rotate(0.03 384.7 196.51470588235296)">sulfur compound binding</text>
<rect x="387.00" y="144.80" width="88.30" height="53.30" fill="none" stroke="#4a4a4a" stroke-width="0.5"/>
<rect x="475.30" y="144.80" width="8.30" height="53.30" fill="#d9d9d9" stroke="#4a4a4a" stroke-width="0.5"/>
<text x="478.15000000000003" y="171.45" font-size="4.0" text-anchor="middle" font-weight="normal" fill="#333" font-family='"Liberation Sans", sans-serif' transform="rotate(90.03 478.15000000000003 171.45)">MF</text>
<line x1="391.3" y1="198.1" x2="391.3" y2="199.3" stroke="#444" stroke-width="0.4"/>
<text x="391.3" y="204.8" font-size="4.2" text-anchor="middle" font-weight="normal" fill="#333" stroke="#333" stroke-width="0.12" font-family='"Liberation Sans", sans-serif' transform="rotate(0.03 391.3 204.8)">0</text>
<line x1="411.27000000000004" y1="198.1" x2="411.27000000000004" y2="199.3" stroke="#444" stroke-width="0.4"/>
<text x="411.27000000000004" y="204.8" font-size="4.2" text-anchor="middle" font-weight="normal" fill="#333" stroke="#333" stroke-width="0.12" font-family='"Liberation Sans", sans-serif' transform="rotate(0.03 411.27000000000004 204.8)">20</text>
<line x1="431.24" y1="198.1" x2="431.24" y2="199.3" stroke="#444" stroke-width="0.4"/>
<text x="431.24" y="204.8" font-size="4.2" text-anchor="middle" font-weight="normal" fill="#333" stroke="#333" stroke-width="0.12" font-family='"Liberation Sans", sans-serif' transform="rotate(0.03 431.24 204.8)">40</text>
<line x1="451.21000000000004" y1="198.1" x2="451.21000000000004" y2="199.3" stroke="#444" stroke-width="0.4"/>
<text x="451.21000000000004" y="204.8" font-size="4.2" text-anchor="middle" font-weight="normal" fill="#333" stroke="#333" stroke-width="0.12" font-family='"Liberation Sans", sans-serif' transform="rotate(0.03 451.21000000000004 204.8)">60</text>
<line x1="471.18" y1="198.1" x2="471.18" y2="199.3" stroke="#444" stroke-width="0.4"/>
<text x="471.18" y="204.8" font-size="4.2" text-anchor="middle" font-weight="normal" fill="#333" stroke="#333" stroke-width="0.12" font-family='"Liberation Sans", sans-serif' transform="rotate(0.03 471.18 204.8)">80</text>
<text x="431.3" y="211.2" font-size="5.95" text-anchor="middle" font-weight="normal" fill="#111" stroke="#111" stroke-width="0.12" font-family='"Liberation Sans", sans-serif' transform="rotate(0.03 431.3 211.2)">Counts</text>
<defs><linearGradient id="pg" x1="0" y1="1" x2="0" y2="0"><stop offset="0" stop-color="#1e3cb0"/><stop offset="0.12" stop-color="#602ca0"/><stop offset="0.3" stop-color="#8c24a2"/><stop offset="0.55" stop-color="#cd1296"/><stop offset="0.75" stop-color="#f21060"/><stop offset="1" stop-color="#ff0814"/></linearGradient></defs>
<rect x="492.20" y="97.30" width="7.80" height="44.20" fill="url(#pg)" stroke="none" stroke-width="0.5"/>
<text x="491.8" y="93.4" font-size="4.3" fill="#333" font-family='"Liberation Sans", sans-serif'>− log<tspan font-size="3" dy="1">10</tspan><tspan dy="-1">(pvalue)</tspan></text>
<line x1="492.2" y1="105.0" x2="493.7" y2="105.0" stroke="#fff" stroke-width="0.35"/>
<line x1="498.5" y1="105.0" x2="500" y2="105.0" stroke="#fff" stroke-width="0.35"/>
<text x="502.8" y="106.5" font-size="4.2" text-anchor="start" font-weight="normal" fill="#333" stroke="#333" stroke-width="0.05" font-family='"Liberation Sans", sans-serif' transform="rotate(0.03 502.8 106.5)">20</text>
<line x1="492.2" y1="115.8" x2="493.7" y2="115.8" stroke="#fff" stroke-width="0.35"/>
<line x1="498.5" y1="115.8" x2="500" y2="115.8" stroke="#fff" stroke-width="0.35"/>
<text x="502.8" y="117.3" font-size="4.2" text-anchor="start" font-weight="normal" fill="#333" stroke="#333" stroke-width="0.05" font-family='"Liberation Sans", sans-serif' transform="rotate(0.03 502.8 117.3)">15</text>
<line x1="492.2" y1="126.1" x2="493.7" y2="126.1" stroke="#fff" stroke-width="0.35"/>
<line x1="498.5" y1="126.1" x2="500" y2="126.1" stroke="#fff" stroke-width="0.35"/>
<text x="502.8" y="127.6" font-size="4.2" text-anchor="start" font-weight="normal" fill="#333" stroke="#333" stroke-width="0.05" font-family='"Liberation Sans", sans-serif' transform="rotate(0.03 502.8 127.6)">10</text>
<line x1="492.2" y1="136.5" x2="493.7" y2="136.5" stroke="#fff" stroke-width="0.35"/>
<line x1="498.5" y1="136.5" x2="500" y2="136.5" stroke="#fff" stroke-width="0.35"/>
<text x="502.8" y="138.0" font-size="4.2" text-anchor="start" font-weight="normal" fill="#333" stroke="#333" stroke-width="0.05" font-family='"Liberation Sans", sans-serif' transform="rotate(0.03 502.8 138.0)">5</text>
</g>
<g id="heatmap">
<rect x="33.10" y="286.60" width="146.70" height="190.70" fill="#3f4ab0" stroke="none" stroke-width="0.5"/>
<rect x="33.10" y="286.60" width="73.35" height="62.27" fill="#ff4432" stroke="none" stroke-width="0.5"/>
<rect x="106.45" y="348.87" width="73.35" height="128.43" fill="#ff4432" stroke="none" stroke-width="0.5"/>
<rect x="33.10" y="286.60" width="18.39" height="3.94" fill="#ff4033"/>
<rect x="51.44" y="286.60" width="18.39" height="3.94" fill="#ff4033"/>
<rect x="69.78" y="286.60" width="18.39" height="3.94" fill="#ff3629"/>
<rect x="88.11" y="286.60" width="18.39" height="3.94" fill="#ff4a3e"/>
<rect x="106.45" y="286.60" width="18.39" height="3.94" fill="#3b48b1"/>
<rect x="124.79" y="286.60" width="18.39" height="3.94" fill="#3c49b1"/>
<rect x="143.12" y="286.60" width="18.39" height="3.94" fill="#3946b0"/>
<rect x="161.46" y="286.60" width="18.39" height="3.94" fill="#4350b4"/>
<rect x="33.10" y="290.49" width="18.39" height="3.94" fill="#ff3c2f"/>
<rect x="51.44" y="290.49" width="18.39" height="3.94" fill="#ff392c"/>
<rect x="69.78" y="290.49" width="18.39" height="3.94" fill="#ff3527"/>
<rect x="88.11" y="290.49" width="18.39" height="3.94" fill="#ff4d41"/>
<rect x="106.45" y="290.49" width="18.39" height="3.94" fill="#434fb4"/>
<rect x="124.79" y="290.49" width="18.39" height="3.94" fill="#404db3"/>
<rect x="143.12" y="290.49" width="18.39" height="3.94" fill="#2a38aa"/>
<rect x="161.46" y="290.49" width="18.39" height="3.94" fill="#5c66be"/>
<rect x="33.10" y="294.38" width="18.39" height="3.94" fill="#ff4538"/>
<rect x="51.44" y="294.38" width="18.39" height="3.94" fill="#ff4135"/>
<rect x="69.78" y="294.38" width="18.39" height="3.94" fill="#ff4538"/>
<rect x="88.11" y="294.38" width="18.39" height="3.94" fill="#ff4134"/>
<rect x="106.45" y="294.38" width="18.39" height="3.94" fill="#3d4ab2"/>
<rect x="124.79" y="294.38" width="18.39" height="3.94" fill="#4552b5"/>
<rect x="143.12" y="294.38" width="18.39" height="3.94" fill="#3b47b1"/>
<rect x="161.46" y="294.38" width="18.39" height="3.94" fill="#4753b5"/>
<rect x="33.10" y="298.28" width="18.39" height="3.94" fill="#ff4e42"/>
<rect x="51.44" y="298.28" width="18.39" height="3.94" fill="#ff4134"/>
<rect x="69.78" y="298.28" width="18.39" height="3.94" fill="#ff3b2d"/>
<rect x="88.11" y="298.28" width="18.39" height="3.94" fill="#ff4336"/>
<rect x="106.45" y="298.28" width="18.39" height="3.94" fill="#3946b0"/>
<rect x="124.79" y="298.28" width="18.39" height="3.94" fill="#3f4cb3"/>
<rect x="143.12" y="298.28" width="18.39" height="3.94" fill="#2a38aa"/>
<rect x="161.46" y="298.28" width="18.39" height="3.94" fill="#4b57b7"/>
<rect x="33.10" y="302.17" width="18.39" height="3.94" fill="#ff5044"/>
<rect x="51.44" y="302.17" width="18.39" height="3.94" fill="#ff4a3e"/>
<rect x="69.78" y="302.17" width="18.39" height="3.94" fill="#ff372a"/>
<rect x="88.11" y="302.17" width="18.39" height="3.94" fill="#ff473a"/>
<rect x="106.45" y="302.17" width="18.39" height="3.94" fill="#414eb3"/>
<rect x="124.79" y="302.17" width="18.39" height="3.94" fill="#3946b0"/>
<rect x="143.12" y="302.17" width="18.39" height="3.94" fill="#2a38aa"/>
<rect x="161.46" y="302.17" width="18.39" height="3.94" fill="#3442ae"/>
<rect x="33.10" y="306.06" width="18.39" height="3.94" fill="#ff4e42"/>
<rect x="51.44" y="306.06" width="18.39" height="3.94" fill="#ff3d30"/>
<rect x="69.78" y="306.06" width="18.39" height="3.94" fill="#ff3c2e"/>
<rect x="88.11" y="306.06" width="18.39" height="3.94" fill="#ff3d30"/>
<rect x="106.45" y="306.06" width="18.39" height="3.94" fill="#3c49b1"/>
<rect x="124.79" y="306.06" width="18.39" height="3.94" fill="#3b48b1"/>
<rect x="143.12" y="306.06" width="18.39" height="3.94" fill="#2e3cac"/>
<rect x="161.46" y="306.06" width="18.39" height="3.94" fill="#404db3"/>
<rect x="33.10" y="309.95" width="18.39" height="3.94" fill="#ff3f32"/>
<rect x="51.44" y="309.95" width="18.39" height="3.94" fill="#ff4437"/>
<rect x="69.78" y="309.95" width="18.39" height="3.94" fill="#ff3e31"/>
<rect x="88.11" y="309.95" width="18.39" height="3.94" fill="#ff483c"/>
<rect x="106.45" y="309.95" width="18.39" height="3.94" fill="#3946b0"/>
<rect x="124.79" y="309.95" width="18.39" height="3.94" fill="#3b48b1"/>
<rect x="143.12" y="309.95" width="18.39" height="3.94" fill="#3744af"/>
<rect x="161.46" y="309.95" width="18.39" height="3.94" fill="#3643af"/>
<rect x="33.10" y="313.84" width="18.39" height="3.94" fill="#ff473b"/>
<rect x="51.44" y="313.84" width="18.39" height="3.94" fill="#ff4336"/>
<rect x="69.78" y="313.84" width="18.39" height="3.94" fill="#ff3326"/>
<rect x="88.11" y="313.84" width="18.39" height="3.94" fill="#ff483c"/>
<rect x="106.45" y="313.84" width="18.39" height="3.94" fill="#3e4bb2"/>
<rect x="124.79" y="313.84" width="18.39" height="3.94" fill="#424fb4"/>
<rect x="143.12" y="313.84" width="18.39" height="3.94" fill="#313fad"/>
<rect x="161.46" y="313.84" width="18.39" height="3.94" fill="#3b48b1"/>
<rect x="33.10" y="317.73" width="18.39" height="3.94" fill="#ff4135"/>
<rect x="51.44" y="317.73" width="18.39" height="3.94" fill="#ff4d41"/>
<rect x="69.78" y="317.73" width="18.39" height="3.94" fill="#ff3d30"/>
<rect x="88.11" y="317.73" width="18.39" height="3.94" fill="#ff3e31"/>
<rect x="106.45" y="317.73" width="18.39" height="3.94" fill="#3845b0"/>
<rect x="124.79" y="317.73" width="18.39" height="3.94" fill="#3f4bb2"/>
<rect x="143.12" y="317.73" width="18.39" height="3.94" fill="#313ead"/>
<rect x="161.46" y="317.73" width="18.39" height="3.94" fill="#3c49b1"/>
<rect x="33.10" y="321.63" width="18.39" height="3.94" fill="#ff3d30"/>
<rect x="51.44" y="321.63" width="18.39" height="3.94" fill="#ff4437"/>
<rect x="69.78" y="321.63" width="18.39" height="3.94" fill="#ff3426"/>
<rect x="88.11" y="321.63" width="18.39" height="3.94" fill="#ff4437"/>
<rect x="106.45" y="321.63" width="18.39" height="3.94" fill="#4b57b7"/>
<rect x="124.79" y="321.63" width="18.39" height="3.94" fill="#3745af"/>
<rect x="143.12" y="321.63" width="18.39" height="3.94" fill="#303ead"/>
<rect x="161.46" y="321.63" width="18.39" height="3.94" fill="#4a56b7"/>
<rect x="33.10" y="325.52" width="18.39" height="3.94" fill="#ff3f32"/>
<rect x="51.44" y="325.52" width="18.39" height="3.94" fill="#ff655a"/>
<rect x="69.78" y="325.52" width="18.39" height="3.94" fill="#ff473b"/>
<rect x="88.11" y="325.52" width="18.39" height="3.94" fill="#ff3c2f"/>
<rect x="106.45" y="325.52" width="18.39" height="3.94" fill="#3946b0"/>
<rect x="124.79" y="325.52" width="18.39" height="3.94" fill="#3d4ab2"/>
<rect x="143.12" y="325.52" width="18.39" height="3.94" fill="#2c3aab"/>
<rect x="161.46" y="325.52" width="18.39" height="3.94" fill="#4551b5"/>
<rect x="33.10" y="329.41" width="18.39" height="3.94" fill="#ff3f32"/>
<rect x="51.44" y="329.41" width="18.39" height="3.94" fill="#ff3c2f"/>
<rect x="69.78" y="329.41" width="18.39" height="3.94" fill="#ff3123"/>
<rect x="88.11" y="329.41" width="18.39" height="3.94" fill="#ff4539"/>
<rect x="106.45" y="329.41" width="18.39" height="3.94" fill="#3c49b1"/>
<rect x="124.79" y="329.41" width="18.39" height="3.94" fill="#3946b0"/>
<rect x="143.12" y="329.41" width="18.39" height="3.94" fill="#3b48b1"/>
<rect x="161.46" y="329.41" width="18.39" height="3.94" fill="#3f4bb2"/>
<rect x="33.10" y="333.30" width="18.39" height="3.94" fill="#ff4538"/>
<rect x="51.44" y="333.30" width="18.39" height="3.94" fill="#ff4336"/>
<rect x="69.78" y="333.30" width="18.39" height="3.94" fill="#ff4437"/>
<rect x="88.11" y="333.30" width="18.39" height="3.94" fill="#ff4438"/>
<rect x="106.45" y="333.30" width="18.39" height="3.94" fill="#3b48b1"/>
<rect x="124.79" y="333.30" width="18.39" height="3.94" fill="#2a38aa"/>
<rect x="143.12" y="333.30" width="18.39" height="3.94" fill="#404db3"/>
<rect x="161.46" y="333.30" width="18.39" height="3.94" fill="#3c48b1"/>
<rect x="33.10" y="337.19" width="18.39" height="3.94" fill="#ff473a"/>
<rect x="51.44" y="337.19" width="18.39" height="3.94" fill="#ff4538"/>
<rect x="69.78" y="337.19" width="18.39" height="3.94" fill="#ff3e31"/>
<rect x="88.11" y="337.19" width="18.39" height="3.94" fill="#ff392c"/>
<rect x="106.45" y="337.19" width="18.39" height="3.94" fill="#3643af"/>
<rect x="124.79" y="337.19" width="18.39" height="3.94" fill="#3643af"/>
<rect x="143.12" y="337.19" width="18.39" height="3.94" fill="#2a38aa"/>
<rect x="161.46" y="337.19" width="18.39" height="3.94" fill="#4e5ab8"/>
<rect x="33.10" y="341.09" width="18.39" height="3.94" fill="#ff4639"/>
<rect x="51.44" y="341.09" width="18.39" height="3.94" fill="#ff3b2d"/>
<rect x="69.78" y="341.09" width="18.39" height="3.94" fill="#ff392c"/>
<rect x="88.11" y="341.09" width="18.39" height="3.94" fill="#ff564b"/>
<rect x="106.45" y="341.09" width="18.39" height="3.94" fill="#5561bb"/>
<rect x="124.79" y="341.09" width="18.39" height="3.94" fill="#4350b4"/>
<rect x="143.12" y="341.09" width="18.39" height="3.94" fill="#323fad"/>
<rect x="161.46" y="341.09" width="18.39" height="3.94" fill="#3f4bb2"/>
<rect x="33.10" y="344.98" width="18.39" height="3.94" fill="#ff4034"/>
<rect x="51.44" y="344.98" width="18.39" height="3.94" fill="#ff4438"/>
<rect x="69.78" y="344.98" width="18.39" height="3.94" fill="#ff3123"/>
<rect x="88.11" y="344.98" width="18.39" height="3.94" fill="#ff3e30"/>
<rect x="106.45" y="344.98" width="18.39" height="3.94" fill="#3744af"/>
<rect x="124.79" y="344.98" width="18.39" height="3.94" fill="#3c49b1"/>
<rect x="143.12" y="344.98" width="18.39" height="3.94" fill="#2d3bab"/>
<rect x="161.46" y="344.98" width="18.39" height="3.94" fill="#3946b0"/>
<rect x="33.10" y="348.87" width="18.39" height="3.94" fill="#3744af"/>
<rect x="51.44" y="348.87" width="18.39" height="3.94" fill="#3b48b1"/>
<rect x="69.78" y="348.87" width="18.39" height="3.94" fill="#404db3"/>
<rect x="88.11" y="348.87" width="18.39" height="3.94" fill="#3744af"/>
<rect x="106.45" y="348.87" width="18.39" height="3.94" fill="#ff564a"/>
<rect x="124.79" y="348.87" width="18.39" height="3.94" fill="#ff392c"/>
<rect x="143.12" y="348.87" width="18.39" height="3.94" fill="#ff3629"/>
<rect x="161.46" y="348.87" width="18.39" height="3.94" fill="#ff3022"/>
<rect x="33.10" y="352.76" width="18.39" height="3.94" fill="#3643af"/>
<rect x="51.44" y="352.76" width="18.39" height="3.94" fill="#3744af"/>
<rect x="69.78" y="352.76" width="18.39" height="3.94" fill="#545fbb"/>
<rect x="88.11" y="352.76" width="18.39" height="3.94" fill="#2b39aa"/>
<rect x="106.45" y="352.76" width="18.39" height="3.94" fill="#ff4134"/>
<rect x="124.79" y="352.76" width="18.39" height="3.94" fill="#ff4437"/>
<rect x="143.12" y="352.76" width="18.39" height="3.94" fill="#ff4134"/>
<rect x="161.46" y="352.76" width="18.39" height="3.94" fill="#ff3123"/>
<rect x="33.10" y="356.65" width="18.39" height="3.94" fill="#2a38aa"/>
<rect x="51.44" y="356.65" width="18.39" height="3.94" fill="#3a47b0"/>
<rect x="69.78" y="356.65" width="18.39" height="3.94" fill="#4753b6"/>
<rect x="88.11" y="356.65" width="18.39" height="3.94" fill="#3643af"/>
<rect x="106.45" y="356.65" width="18.39" height="3.94" fill="#ff5044"/>
<rect x="124.79" y="356.65" width="18.39" height="3.94" fill="#ff493d"/>
<rect x="143.12" y="356.65" width="18.39" height="3.94" fill="#ff3d2f"/>
<rect x="161.46" y="356.65" width="18.39" height="3.94" fill="#ff3427"/>
<rect x="33.10" y="360.54" width="18.39" height="3.94" fill="#3643af"/>
<rect x="51.44" y="360.54" width="18.39" height="3.94" fill="#3d49b1"/>
<rect x="69.78" y="360.54" width="18.39" height="3.94" fill="#3e4bb2"/>
<rect x="88.11" y="360.54" width="18.39" height="3.94" fill="#3543af"/>
<rect x="106.45" y="360.54" width="18.39" height="3.94" fill="#ff493d"/>
<rect x="124.79" y="360.54" width="18.39" height="3.94" fill="#ff5247"/>
<rect x="143.12" y="360.54" width="18.39" height="3.94" fill="#ff4437"/>
<rect x="161.46" y="360.54" width="18.39" height="3.94" fill="#ff3224"/>
<rect x="33.10" y="364.44" width="18.39" height="3.94" fill="#4551b5"/>
<rect x="51.44" y="364.44" width="18.39" height="3.94" fill="#3a47b0"/>
<rect x="69.78" y="364.44" width="18.39" height="3.94" fill="#3845af"/>
<rect x="88.11" y="364.44" width="18.39" height="3.94" fill="#4551b5"/>
<rect x="106.45" y="364.44" width="18.39" height="3.94" fill="#ff584d"/>
<rect x="124.79" y="364.44" width="18.39" height="3.94" fill="#ff4437"/>
<rect x="143.12" y="364.44" width="18.39" height="3.94" fill="#ff3e30"/>
<rect x="161.46" y="364.44" width="18.39" height="3.94" fill="#ff3022"/>
<rect x="33.10" y="368.33" width="18.39" height="3.94" fill="#3745af"/>
<rect x="51.44" y="368.33" width="18.39" height="3.94" fill="#434fb4"/>
<rect x="69.78" y="368.33" width="18.39" height="3.94" fill="#3f4cb3"/>
<rect x="88.11" y="368.33" width="18.39" height="3.94" fill="#2d3bab"/>
<rect x="106.45" y="368.33" width="18.39" height="3.94" fill="#ff574b"/>
<rect x="124.79" y="368.33" width="18.39" height="3.94" fill="#ff4437"/>
<rect x="143.12" y="368.33" width="18.39" height="3.94" fill="#ff4033"/>
<rect x="161.46" y="368.33" width="18.39" height="3.94" fill="#ff382b"/>
<rect x="33.10" y="372.22" width="18.39" height="3.94" fill="#424fb4"/>
<rect x="51.44" y="372.22" width="18.39" height="3.94" fill="#404cb3"/>
<rect x="69.78" y="372.22" width="18.39" height="3.94" fill="#414db3"/>
<rect x="88.11" y="372.22" width="18.39" height="3.94" fill="#2a38aa"/>
<rect x="106.45" y="372.22" width="18.39" height="3.94" fill="#ff6156"/>
<rect x="124.79" y="372.22" width="18.39" height="3.94" fill="#ff5a4e"/>
<rect x="143.12" y="372.22" width="18.39" height="3.94" fill="#ff392b"/>
<rect x="161.46" y="372.22" width="18.39" height="3.94" fill="#ff382a"/>
<rect x="33.10" y="376.11" width="18.39" height="3.94" fill="#3341ae"/>
<rect x="51.44" y="376.11" width="18.39" height="3.94" fill="#3341ae"/>
<rect x="69.78" y="376.11" width="18.39" height="3.94" fill="#4a56b7"/>
<rect x="88.11" y="376.11" width="18.39" height="3.94" fill="#3644af"/>
<rect x="106.45" y="376.11" width="18.39" height="3.94" fill="#ff4b3f"/>
<rect x="124.79" y="376.11" width="18.39" height="3.94" fill="#ff4437"/>
<rect x="143.12" y="376.11" width="18.39" height="3.94" fill="#ff3c2f"/>
<rect x="161.46" y="376.11" width="18.39" height="3.94" fill="#ff3123"/>
<rect x="33.10" y="380.00" width="18.39" height="3.94" fill="#3845b0"/>
<rect x="51.44" y="380.00" width="18.39" height="3.94" fill="#3845b0"/>
<rect x="69.78" y="380.00" width="18.39" height="3.94" fill="#434fb4"/>
<rect x="88.11" y="380.00" width="18.39" height="3.94" fill="#3946b0"/>
<rect x="106.45" y="380.00" width="18.39" height="3.94" fill="#ff594d"/>
<rect x="124.79" y="380.00" width="18.39" height="3.94" fill="#ff5c50"/>
<rect x="143.12" y="380.00" width="18.39" height="3.94" fill="#ff4336"/>
<rect x="161.46" y="380.00" width="18.39" height="3.94" fill="#ff3022"/>
<rect x="33.10" y="383.90" width="18.39" height="3.94" fill="#3744af"/>
<rect x="51.44" y="383.90" width="18.39" height="3.94" fill="#404db3"/>
<rect x="69.78" y="383.90" width="18.39" height="3.94" fill="#424eb3"/>
<rect x="88.11" y="383.90" width="18.39" height="3.94" fill="#2a38aa"/>
<rect x="106.45" y="383.90" width="18.39" height="3.94" fill="#ff5246"/>
<rect x="124.79" y="383.90" width="18.39" height="3.94" fill="#ff4034"/>
<rect x="143.12" y="383.90" width="18.39" height="3.94" fill="#ff3527"/>
<rect x="161.46" y="383.90" width="18.39" height="3.94" fill="#ff4a3e"/>
<rect x="33.10" y="387.79" width="18.39" height="3.94" fill="#3643af"/>
<rect x="51.44" y="387.79" width="18.39" height="3.94" fill="#3b48b1"/>
<rect x="69.78" y="387.79" width="18.39" height="3.94" fill="#3946b0"/>
<rect x="88.11" y="387.79" width="18.39" height="3.94" fill="#2a38aa"/>
<rect x="106.45" y="387.79" width="18.39" height="3.94" fill="#ff4b3f"/>
<rect x="124.79" y="387.79" width="18.39" height="3.94" fill="#ff4f43"/>
<rect x="143.12" y="387.79" width="18.39" height="3.94" fill="#ff3d2f"/>
<rect x="161.46" y="387.79" width="18.39" height="3.94" fill="#ff3b2e"/>
<rect x="33.10" y="391.68" width="18.39" height="3.94" fill="#3c49b1"/>
<rect x="51.44" y="391.68" width="18.39" height="3.94" fill="#424eb3"/>
<rect x="69.78" y="391.68" width="18.39" height="3.94" fill="#404db3"/>
<rect x="88.11" y="391.68" width="18.39" height="3.94" fill="#323fad"/>
<rect x="106.45" y="391.68" width="18.39" height="3.94" fill="#ff5246"/>
<rect x="124.79" y="391.68" width="18.39" height="3.94" fill="#ff4c40"/>
<rect x="143.12" y="391.68" width="18.39" height="3.94" fill="#ff392c"/>
<rect x="161.46" y="391.68" width="18.39" height="3.94" fill="#ff3426"/>
<rect x="33.10" y="395.57" width="18.39" height="3.94" fill="#303dac"/>
<rect x="51.44" y="395.57" width="18.39" height="3.94" fill="#404cb3"/>
<rect x="69.78" y="395.57" width="18.39" height="3.94" fill="#3b48b1"/>
<rect x="88.11" y="395.57" width="18.39" height="3.94" fill="#2a38aa"/>
<rect x="106.45" y="395.57" width="18.39" height="3.94" fill="#ff5045"/>
<rect x="124.79" y="395.57" width="18.39" height="3.94" fill="#ff4134"/>
<rect x="143.12" y="395.57" width="18.39" height="3.94" fill="#ff3729"/>
<rect x="161.46" y="395.57" width="18.39" height="3.94" fill="#ff3022"/>
<rect x="33.10" y="399.46" width="18.39" height="3.94" fill="#2b39ab"/>
<rect x="51.44" y="399.46" width="18.39" height="3.94" fill="#3d4ab2"/>
<rect x="69.78" y="399.46" width="18.39" height="3.94" fill="#515cb9"/>
<rect x="88.11" y="399.46" width="18.39" height="3.94" fill="#2c3aab"/>
<rect x="106.45" y="399.46" width="18.39" height="3.94" fill="#ff584d"/>
<rect x="124.79" y="399.46" width="18.39" height="3.94" fill="#ff4438"/>
<rect x="143.12" y="399.46" width="18.39" height="3.94" fill="#ff574b"/>
<rect x="161.46" y="399.46" width="18.39" height="3.94" fill="#ff3022"/>
<rect x="33.10" y="403.36" width="18.39" height="3.94" fill="#3c49b1"/>
<rect x="51.44" y="403.36" width="18.39" height="3.94" fill="#3744af"/>
<rect x="69.78" y="403.36" width="18.39" height="3.94" fill="#3d4ab2"/>
<rect x="88.11" y="403.36" width="18.39" height="3.94" fill="#3744af"/>
<rect x="106.45" y="403.36" width="18.39" height="3.94" fill="#ff5247"/>
<rect x="124.79" y="403.36" width="18.39" height="3.94" fill="#ff4b3f"/>
<rect x="143.12" y="403.36" width="18.39" height="3.94" fill="#ff5c51"/>
<rect x="161.46" y="403.36" width="18.39" height="3.94" fill="#ff3b2e"/>
<rect x="33.10" y="407.25" width="18.39" height="3.94" fill="#404cb3"/>
<rect x="51.44" y="407.25" width="18.39" height="3.94" fill="#3441ae"/>
<rect x="69.78" y="407.25" width="18.39" height="3.94" fill="#424fb4"/>
<rect x="88.11" y="407.25" width="18.39" height="3.94" fill="#4551b5"/>
<rect x="106.45" y="407.25" width="18.39" height="3.94" fill="#ff4f43"/>
<rect x="124.79" y="407.25" width="18.39" height="3.94" fill="#ff4538"/>
<rect x="143.12" y="407.25" width="18.39" height="3.94" fill="#ff574b"/>
<rect x="161.46" y="407.25" width="18.39" height="3.94" fill="#ff3a2d"/>
<rect x="33.10" y="411.14" width="18.39" height="3.94" fill="#3a47b0"/>
<rect x="51.44" y="411.14" width="18.39" height="3.94" fill="#3e4bb2"/>
<rect x="69.78" y="411.14" width="18.39" height="3.94" fill="#4551b5"/>
<rect x="88.11" y="411.14" width="18.39" height="3.94" fill="#2d3bab"/>
<rect x="106.45" y="411.14" width="18.39" height="3.94" fill="#ff4f43"/>
<rect x="124.79" y="411.14" width="18.39" height="3.94" fill="#ff463a"/>
<rect x="143.12" y="411.14" width="18.39" height="3.94" fill="#ff564b"/>
<rect x="161.46" y="411.14" width="18.39" height="3.94" fill="#ff3629"/>
<rect x="33.10" y="415.03" width="18.39" height="3.94" fill="#3a47b0"/>
<rect x="51.44" y="415.03" width="18.39" height="3.94" fill="#3a47b1"/>
<rect x="69.78" y="415.03" width="18.39" height="3.94" fill="#4854b6"/>
<rect x="88.11" y="415.03" width="18.39" height="3.94" fill="#3a47b0"/>
<rect x="106.45" y="415.03" width="18.39" height="3.94" fill="#ff5c51"/>
<rect x="124.79" y="415.03" width="18.39" height="3.94" fill="#ff473a"/>
<rect x="143.12" y="415.03" width="18.39" height="3.94" fill="#ff6157"/>
<rect x="161.46" y="415.03" width="18.39" height="3.94" fill="#ff3528"/>
<rect x="33.10" y="418.92" width="18.39" height="3.94" fill="#3542ae"/>
<rect x="51.44" y="418.92" width="18.39" height="3.94" fill="#323fad"/>
<rect x="69.78" y="418.92" width="18.39" height="3.94" fill="#4652b5"/>
<rect x="88.11" y="418.92" width="18.39" height="3.94" fill="#3441ae"/>
<rect x="106.45" y="418.92" width="18.39" height="3.94" fill="#ff4e42"/>
<rect x="124.79" y="418.92" width="18.39" height="3.94" fill="#ff483c"/>
<rect x="143.12" y="418.92" width="18.39" height="3.94" fill="#ff584d"/>
<rect x="161.46" y="418.92" width="18.39" height="3.94" fill="#ff3022"/>
<rect x="33.10" y="422.81" width="18.39" height="3.94" fill="#3542ae"/>
<rect x="51.44" y="422.81" width="18.39" height="3.94" fill="#414db3"/>
<rect x="69.78" y="422.81" width="18.39" height="3.94" fill="#424eb3"/>
<rect x="88.11" y="422.81" width="18.39" height="3.94" fill="#3b48b1"/>
<rect x="106.45" y="422.81" width="18.39" height="3.94" fill="#ff5a4e"/>
<rect x="124.79" y="422.81" width="18.39" height="3.94" fill="#ff4438"/>
<rect x="143.12" y="422.81" width="18.39" height="3.94" fill="#ff5549"/>
<rect x="161.46" y="422.81" width="18.39" height="3.94" fill="#ff3426"/>
<rect x="33.10" y="426.71" width="18.39" height="3.94" fill="#3542ae"/>
<rect x="51.44" y="426.71" width="18.39" height="3.94" fill="#404cb3"/>
<rect x="69.78" y="426.71" width="18.39" height="3.94" fill="#4350b4"/>
<rect x="88.11" y="426.71" width="18.39" height="3.94" fill="#2a38aa"/>
<rect x="106.45" y="426.71" width="18.39" height="3.94" fill="#ff5044"/>
<rect x="124.79" y="426.71" width="18.39" height="3.94" fill="#ff473b"/>
<rect x="143.12" y="426.71" width="18.39" height="3.94" fill="#ff5c51"/>
<rect x="161.46" y="426.71" width="18.39" height="3.94" fill="#ff3022"/>
<rect x="33.10" y="430.60" width="18.39" height="3.94" fill="#2a38aa"/>
<rect x="51.44" y="430.60" width="18.39" height="3.94" fill="#3e4bb2"/>
<rect x="69.78" y="430.60" width="18.39" height="3.94" fill="#424eb3"/>
<rect x="88.11" y="430.60" width="18.39" height="3.94" fill="#3845b0"/>
<rect x="106.45" y="430.60" width="18.39" height="3.94" fill="#ff4336"/>
<rect x="124.79" y="430.60" width="18.39" height="3.94" fill="#ff4f43"/>
<rect x="143.12" y="430.60" width="18.39" height="3.94" fill="#ff463a"/>
<rect x="161.46" y="430.60" width="18.39" height="3.94" fill="#ff3c2f"/>
<rect x="33.10" y="434.49" width="18.39" height="3.94" fill="#313ead"/>
<rect x="51.44" y="434.49" width="18.39" height="3.94" fill="#3c49b1"/>
<rect x="69.78" y="434.49" width="18.39" height="3.94" fill="#3c49b1"/>
<rect x="88.11" y="434.49" width="18.39" height="3.94" fill="#4450b4"/>
<rect x="106.45" y="434.49" width="18.39" height="3.94" fill="#ff4d41"/>
<rect x="124.79" y="434.49" width="18.39" height="3.94" fill="#ff4f43"/>
<rect x="143.12" y="434.49" width="18.39" height="3.94" fill="#ff3a2d"/>
<rect x="161.46" y="434.49" width="18.39" height="3.94" fill="#ff3d30"/>
<rect x="33.10" y="438.38" width="18.39" height="3.94" fill="#3845b0"/>
<rect x="51.44" y="438.38" width="18.39" height="3.94" fill="#3f4bb2"/>
<rect x="69.78" y="438.38" width="18.39" height="3.94" fill="#4854b6"/>
<rect x="88.11" y="438.38" width="18.39" height="3.94" fill="#2a38aa"/>
<rect x="106.45" y="438.38" width="18.39" height="3.94" fill="#ff594d"/>
<rect x="124.79" y="438.38" width="18.39" height="3.94" fill="#ff483c"/>
<rect x="143.12" y="438.38" width="18.39" height="3.94" fill="#ff3d30"/>
<rect x="161.46" y="438.38" width="18.39" height="3.94" fill="#ff3022"/>
<rect x="33.10" y="442.27" width="18.39" height="3.94" fill="#3c49b1"/>
<rect x="51.44" y="442.27" width="18.39" height="3.94" fill="#3946b0"/>
<rect x="69.78" y="442.27" width="18.39" height="3.94" fill="#4451b5"/>
<rect x="88.11" y="442.27" width="18.39" height="3.94" fill="#3442ae"/>
<rect x="106.45" y="442.27" width="18.39" height="3.94" fill="#ff493d"/>
<rect x="124.79" y="442.27" width="18.39" height="3.94" fill="#ff4033"/>
<rect x="143.12" y="442.27" width="18.39" height="3.94" fill="#ff4a3e"/>
<rect x="161.46" y="442.27" width="18.39" height="3.94" fill="#ff3022"/>
<rect x="33.10" y="446.17" width="18.39" height="3.94" fill="#3340ad"/>
<rect x="51.44" y="446.17" width="18.39" height="3.94" fill="#3e4bb2"/>
<rect x="69.78" y="446.17" width="18.39" height="3.94" fill="#4551b5"/>
<rect x="88.11" y="446.17" width="18.39" height="3.94" fill="#2c3aab"/>
<rect x="106.45" y="446.17" width="18.39" height="3.94" fill="#ff5247"/>
<rect x="124.79" y="446.17" width="18.39" height="3.94" fill="#ff463a"/>
<rect x="143.12" y="446.17" width="18.39" height="3.94" fill="#ff4538"/>
<rect x="161.46" y="446.17" width="18.39" height="3.94" fill="#ff3022"/>
<rect x="33.10" y="450.06" width="18.39" height="3.94" fill="#2d3bab"/>
<rect x="51.44" y="450.06" width="18.39" height="3.94" fill="#424eb4"/>
<rect x="69.78" y="450.06" width="18.39" height="3.94" fill="#3f4cb3"/>
<rect x="88.11" y="450.06" width="18.39" height="3.94" fill="#303ead"/>
<rect x="106.45" y="450.06" width="18.39" height="3.94" fill="#ff5449"/>
<rect x="124.79" y="450.06" width="18.39" height="3.94" fill="#ff493d"/>
<rect x="143.12" y="450.06" width="18.39" height="3.94" fill="#ff4438"/>
<rect x="161.46" y="450.06" width="18.39" height="3.94" fill="#ff3022"/>
<rect x="33.10" y="453.95" width="18.39" height="3.94" fill="#3e4bb2"/>
<rect x="51.44" y="453.95" width="18.39" height="3.94" fill="#3845af"/>
<rect x="69.78" y="453.95" width="18.39" height="3.94" fill="#3d4ab2"/>
<rect x="88.11" y="453.95" width="18.39" height="3.94" fill="#3845b0"/>
<rect x="106.45" y="453.95" width="18.39" height="3.94" fill="#ff574c"/>
<rect x="124.79" y="453.95" width="18.39" height="3.94" fill="#ff463a"/>
<rect x="143.12" y="453.95" width="18.39" height="3.94" fill="#ff3c2f"/>
<rect x="161.46" y="453.95" width="18.39" height="3.94" fill="#ff3123"/>
<rect x="33.10" y="457.84" width="18.39" height="3.94" fill="#3442ae"/>
<rect x="51.44" y="457.84" width="18.39" height="3.94" fill="#3c49b1"/>
<rect x="69.78" y="457.84" width="18.39" height="3.94" fill="#4450b4"/>
<rect x="88.11" y="457.84" width="18.39" height="3.94" fill="#313fad"/>
<rect x="106.45" y="457.84" width="18.39" height="3.94" fill="#ff4d41"/>
<rect x="124.79" y="457.84" width="18.39" height="3.94" fill="#ff5a4f"/>
<rect x="143.12" y="457.84" width="18.39" height="3.94" fill="#ff3b2d"/>
<rect x="161.46" y="457.84" width="18.39" height="3.94" fill="#ff3326"/>
<rect x="33.10" y="461.73" width="18.39" height="3.94" fill="#3442ae"/>
<rect x="51.44" y="461.73" width="18.39" height="3.94" fill="#3d4ab2"/>
<rect x="69.78" y="461.73" width="18.39" height="3.94" fill="#4e5ab8"/>
<rect x="88.11" y="461.73" width="18.39" height="3.94" fill="#4f5ab9"/>
<rect x="106.45" y="461.73" width="18.39" height="3.94" fill="#ff4f43"/>
<rect x="124.79" y="461.73" width="18.39" height="3.94" fill="#ff483c"/>
<rect x="143.12" y="461.73" width="18.39" height="3.94" fill="#ff3a2d"/>
<rect x="161.46" y="461.73" width="18.39" height="3.94" fill="#ff382b"/>
<rect x="33.10" y="465.62" width="18.39" height="3.94" fill="#3a47b0"/>
<rect x="51.44" y="465.62" width="18.39" height="3.94" fill="#3946b0"/>
<rect x="69.78" y="465.62" width="18.39" height="3.94" fill="#4b57b7"/>
<rect x="88.11" y="465.62" width="18.39" height="3.94" fill="#3d4ab2"/>
<rect x="106.45" y="465.62" width="18.39" height="3.94" fill="#ff5348"/>
<rect x="124.79" y="465.62" width="18.39" height="3.94" fill="#ff3b2e"/>
<rect x="143.12" y="465.62" width="18.39" height="3.94" fill="#ff5a4e"/>
<rect x="161.46" y="465.62" width="18.39" height="3.94" fill="#ff3123"/>
<rect x="33.10" y="469.52" width="18.39" height="3.94" fill="#2a38aa"/>
<rect x="51.44" y="469.52" width="18.39" height="3.94" fill="#404db3"/>
<rect x="69.78" y="469.52" width="18.39" height="3.94" fill="#424eb3"/>
<rect x="88.11" y="469.52" width="18.39" height="3.94" fill="#3341ae"/>
<rect x="106.45" y="469.52" width="18.39" height="3.94" fill="#ff5145"/>
<rect x="124.79" y="469.52" width="18.39" height="3.94" fill="#ff4236"/>
<rect x="143.12" y="469.52" width="18.39" height="3.94" fill="#ff3b2e"/>
<rect x="161.46" y="469.52" width="18.39" height="3.94" fill="#ff3c2f"/>
<rect x="33.10" y="473.41" width="18.39" height="3.94" fill="#3543ae"/>
<rect x="51.44" y="473.41" width="18.39" height="3.94" fill="#3e4ab2"/>
<rect x="69.78" y="473.41" width="18.39" height="3.94" fill="#414eb3"/>
<rect x="88.11" y="473.41" width="18.39" height="3.94" fill="#3441ae"/>
<rect x="106.45" y="473.41" width="18.39" height="3.94" fill="#ff594d"/>
<rect x="124.79" y="473.41" width="18.39" height="3.94" fill="#ff574c"/>
<rect x="143.12" y="473.41" width="18.39" height="3.94" fill="#ff3e31"/>
<rect x="161.46" y="473.41" width="18.39" height="3.94" fill="#ff3124"/>
<rect x="33.10" y="280.40" width="73.35" height="4.50" fill="#f78a88" stroke="none" stroke-width="0.5"/>
<rect x="106.45" y="280.40" width="73.35" height="4.50" fill="#20bec8" stroke="none" stroke-width="0.5"/>
<text x="182.0" y="290.145918367347" font-size="4.6" text-anchor="start" font-weight="normal" fill="#1a1a1a" stroke="#1a1a1a" stroke-width="0.07" font-family='"Liberation Sans", sans-serif' transform="rotate(0.03 182.0 290.145918367347)">Eln</text>
<text x="182.0" y="294.0377551020409" font-size="4.6" text-anchor="start" font-weight="normal" fill="#1a1a1a" stroke="#1a1a1a" stroke-width="0.07" font-family='"Liberation Sans", sans-serif' transform="rotate(0.03 182.0 294.0377551020409)">Ptx3</text>
<text x="182.0" y="297.92959183673474" font-size="4.6" text-anchor="start" font-weight="normal" fill="#1a1a1a" stroke="#1a1a1a" stroke-width="0.07" font-family='"Liberation Sans", sans-serif' transform="rotate(0.03 182.0 297.92959183673474)">Sfrp1</text>
<text x="182.0" y="301.8214285714286" font-size="4.6" text-anchor="start" font-weight="normal" fill="#1a1a1a" stroke="#1a1a1a" stroke-width="0.07" font-family='"Liberation Sans", sans-serif' transform="rotate(0.03 182.0 301.8214285714286)">Igf1</text>
<text x="182.0" y="305.7132653061225" font-size="4.6" text-anchor="start" font-weight="normal" fill="#1a1a1a" stroke="#1a1a1a" stroke-width="0.07" font-family='"Liberation Sans", sans-serif' transform="rotate(0.03 182.0 305.7132653061225)">Aspn</text>
<text x="182.0" y="309.60510204081635" font-size="4.6" text-anchor="start" font-weight="normal" fill="#1a1a1a" stroke="#1a1a1a" stroke-width="0.07" font-family='"Liberation Sans", sans-serif' transform="rotate(0.03 182.0 309.60510204081635)">Fbln2</text>
<text x="182.0" y="313.4969387755103" font-size="4.6" text-anchor="start" font-weight="normal" fill="#1a1a1a" stroke="#1a1a1a" stroke-width="0.07" font-family='"Liberation Sans", sans-serif' transform="rotate(0.03 182.0 313.4969387755103)">Efnb2</text>
<text x="182.0" y="317.38877551020414" font-size="4.6" text-anchor="start" font-weight="normal" fill="#1a1a1a" stroke="#1a1a1a" stroke-width="0.07" font-family='"Liberation Sans", sans-serif' transform="rotate(0.03 182.0 317.38877551020414)">Tgfb2</text>
<text x="182.0" y="321.280612244898" font-size="4.6" text-anchor="start" font-weight="normal" fill="#1a1a1a" stroke="#1a1a1a" stroke-width="0.07" font-family='"Liberation Sans", sans-serif' transform="rotate(0.03 182.0 321.280612244898)">Mme</text>
<text x="182.0" y="325.1724489795919" font-size="4.6" text-anchor="start" font-weight="normal" fill="#1a1a1a" stroke="#1a1a1a" stroke-width="0.07" font-family='"Liberation Sans", sans-serif' transform="rotate(0.03 182.0 325.1724489795919)">Has2</text>
<text x="182.0" y="329.06428571428575" font-size="4.6" text-anchor="start" font-weight="normal" fill="#1a1a1a" stroke="#1a1a1a" stroke-width="0.07" font-family='"Liberation Sans", sans-serif' transform="rotate(0.03 182.0 329.06428571428575)">Postn</text>
<text x="182.0" y="332.9561224489796" font-size="4.6" text-anchor="start" font-weight="normal" fill="#1a1a1a" stroke="#1a1a1a" stroke-width="0.07" font-family='"Liberation Sans", sans-serif' transform="rotate(0.03 182.0 332.9561224489796)">Nrg1</text>
<text x="182.0" y="336.84795918367354" font-size="4.6" text-anchor="start" font-weight="normal" fill="#1a1a1a" stroke="#1a1a1a" stroke-width="0.07" font-family='"Liberation Sans", sans-serif' transform="rotate(0.03 182.0 336.84795918367354)">Crlm3</text>
<text x="182.0" y="340.7397959183674" font-size="4.6" text-anchor="start" font-weight="normal" fill="#1a1a1a" stroke="#1a1a1a" stroke-width="0.07" font-family='"Liberation Sans", sans-serif' transform="rotate(0.03 182.0 340.7397959183674)">Calr</text>
<text x="182.0" y="344.6316326530613" font-size="4.6" text-anchor="start" font-weight="normal" fill="#1a1a1a" stroke="#1a1a1a" stroke-width="0.07" font-family='"Liberation Sans", sans-serif' transform="rotate(0.03 182.0 344.6316326530613)">Kctd12</text>
<text x="182.0" y="348.52346938775514" font-size="4.6" text-anchor="start" font-weight="normal" fill="#1a1a1a" stroke="#1a1a1a" stroke-width="0.07" font-family='"Liberation Sans", sans-serif' transform="rotate(0.03 182.0 348.52346938775514)">Tnfrsf21</text>
<text x="182.0" y="352.415306122449" font-size="4.6" text-anchor="start" font-weight="normal" fill="#1a1a1a" stroke="#1a1a1a" stroke-width="0.07" font-family='"Liberation Sans", sans-serif' transform="rotate(0.03 182.0 352.415306122449)">Ampd3</text>
<text x="182.0" y="356.3071428571429" font-size="4.6" text-anchor="start" font-weight="normal" fill="#1a1a1a" stroke="#1a1a1a" stroke-width="0.07" font-family='"Liberation Sans", sans-serif' transform="rotate(0.03 182.0 356.3071428571429)">Slc25a30</text>
<text x="182.0" y="360.19897959183675" font-size="4.6" text-anchor="start" font-weight="normal" fill="#1a1a1a" stroke="#1a1a1a" stroke-width="0.07" font-family='"Liberation Sans", sans-serif' transform="rotate(0.03 182.0 360.19897959183675)">Vldlr</text>
<text x="182.0" y="364.09081632653067" font-size="4.6" text-anchor="start" font-weight="normal" fill="#1a1a1a" stroke="#1a1a1a" stroke-width="0.07" font-family='"Liberation Sans", sans-serif' transform="rotate(0.03 182.0 364.09081632653067)">Slc39a14</text>
<text x="182.0" y="367.98265306122454" font-size="4.6" text-anchor="start" font-weight="normal" fill="#1a1a1a" stroke="#1a1a1a" stroke-width="0.07" font-family='"Liberation Sans", sans-serif' transform="rotate(0.03 182.0 367.98265306122454)">Dpep1</text>
<text x="182.0" y="371.8744897959184" font-size="4.6" text-anchor="start" font-weight="normal" fill="#1a1a1a" stroke="#1a1a1a" stroke-width="0.07" font-family='"Liberation Sans", sans-serif' transform="rotate(0.03 182.0 371.8744897959184)">Anpep</text>
<text x="182.0" y="375.7663265306123" font-size="4.6" text-anchor="start" font-weight="normal" fill="#1a1a1a" stroke="#1a1a1a" stroke-width="0.07" font-family='"Liberation Sans", sans-serif' transform="rotate(0.03 182.0 375.7663265306123)">Fam107a</text>
<text x="182.0" y="379.65816326530614" font-size="4.6" text-anchor="start" font-weight="normal" fill="#1a1a1a" stroke="#1a1a1a" stroke-width="0.07" font-family='"Liberation Sans", sans-serif' transform="rotate(0.03 182.0 379.65816326530614)">Tns1</text>
<text x="182.0" y="383.55000000000007" font-size="4.6" text-anchor="start" font-weight="normal" fill="#1a1a1a" stroke="#1a1a1a" stroke-width="0.07" font-family='"Liberation Sans", sans-serif' transform="rotate(0.03 182.0 383.55000000000007)">Lrrk2</text>
<text x="182.0" y="387.44183673469394" font-size="4.6" text-anchor="start" font-weight="normal" fill="#1a1a1a" stroke="#1a1a1a" stroke-width="0.07" font-family='"Liberation Sans", sans-serif' transform="rotate(0.03 182.0 387.44183673469394)">Slc37a2</text>
<text x="182.0" y="391.3336734693878" font-size="4.6" text-anchor="start" font-weight="normal" fill="#1a1a1a" stroke="#1a1a1a" stroke-width="0.07" font-family='"Liberation Sans", sans-serif' transform="rotate(0.03 182.0 391.3336734693878)">Camk2d</text>
<text x="182.0" y="395.2255102040817" font-size="4.6" text-anchor="start" font-weight="normal" fill="#1a1a1a" stroke="#1a1a1a" stroke-width="0.07" font-family='"Liberation Sans", sans-serif' transform="rotate(0.03 182.0 395.2255102040817)">Nbeppa</text>
<text x="182.0" y="399.11734693877554" font-size="4.6" text-anchor="start" font-weight="normal" fill="#1a1a1a" stroke="#1a1a1a" stroke-width="0.07" font-family='"Liberation Sans", sans-serif' transform="rotate(0.03 182.0 399.11734693877554)">Samhd1</text>
<text x="182.0" y="403.0091836734694" font-size="4.6" text-anchor="start" font-weight="normal" fill="#1a1a1a" stroke="#1a1a1a" stroke-width="0.07" font-family='"Liberation Sans", sans-serif' transform="rotate(0.03 182.0 403.0091836734694)">Ets1</text>
<text x="182.0" y="406.9010204081633" font-size="4.6" text-anchor="start" font-weight="normal" fill="#1a1a1a" stroke="#1a1a1a" stroke-width="0.07" font-family='"Liberation Sans", sans-serif' transform="rotate(0.03 182.0 406.9010204081633)">Tgoln1</text>
<text x="182.0" y="410.7928571428572" font-size="4.6" text-anchor="start" font-weight="normal" fill="#1a1a1a" stroke="#1a1a1a" stroke-width="0.07" font-family='"Liberation Sans", sans-serif' transform="rotate(0.03 182.0 410.7928571428572)">Rhoc</text>
<text x="182.0" y="414.68469387755107" font-size="4.6" text-anchor="start" font-weight="normal" fill="#1a1a1a" stroke="#1a1a1a" stroke-width="0.07" font-family='"Liberation Sans", sans-serif' transform="rotate(0.03 182.0 414.68469387755107)">Uhmk1</text>
<text x="182.0" y="418.57653061224494" font-size="4.6" text-anchor="start" font-weight="normal" fill="#1a1a1a" stroke="#1a1a1a" stroke-width="0.07" font-family='"Liberation Sans", sans-serif' transform="rotate(0.03 182.0 418.57653061224494)">Ctla2a</text>
<text x="182.0" y="422.4683673469388" font-size="4.6" text-anchor="start" font-weight="normal" fill="#1a1a1a" stroke="#1a1a1a" stroke-width="0.07" font-family='"Liberation Sans", sans-serif' transform="rotate(0.03 182.0 422.4683673469388)">Ccl9</text>
<text x="182.0" y="426.3602040816327" font-size="4.6" text-anchor="start" font-weight="normal" fill="#1a1a1a" stroke="#1a1a1a" stroke-width="0.07" font-family='"Liberation Sans", sans-serif' transform="rotate(0.03 182.0 426.3602040816327)">Igfbp4</text>
<text x="182.0" y="430.2520408163266" font-size="4.6" text-anchor="start" font-weight="normal" fill="#1a1a1a" stroke="#1a1a1a" stroke-width="0.07" font-family='"Liberation Sans", sans-serif' transform="rotate(0.03 182.0 430.2520408163266)">Hp</text>
<text x="182.0" y="434.1438775510204" font-size="4.6" text-anchor="start" font-weight="normal" fill="#1a1a1a" stroke="#1a1a1a" stroke-width="0.07" font-family='"Liberation Sans", sans-serif' transform="rotate(0.03 182.0 434.1438775510204)">Orm3</text>
<text x="182.0" y="438.03571428571433" font-size="4.6" text-anchor="start" font-weight="normal" fill="#1a1a1a" stroke="#1a1a1a" stroke-width="0.07" font-family='"Liberation Sans", sans-serif' transform="rotate(0.03 182.0 438.03571428571433)">Agt</text>
<text x="182.0" y="441.9275510204082" font-size="4.6" text-anchor="start" font-weight="normal" fill="#1a1a1a" stroke="#1a1a1a" stroke-width="0.07" font-family='"Liberation Sans", sans-serif' transform="rotate(0.03 182.0 441.9275510204082)">Fkbp5</text>
<text x="182.0" y="445.81938775510207" font-size="4.6" text-anchor="start" font-weight="normal" fill="#1a1a1a" stroke="#1a1a1a" stroke-width="0.07" font-family='"Liberation Sans", sans-serif' transform="rotate(0.03 182.0 445.81938775510207)">Ceacam1</text>
<text x="182.0" y="449.711224489796" font-size="4.6" text-anchor="start" font-weight="normal" fill="#1a1a1a" stroke="#1a1a1a" stroke-width="0.07" font-family='"Liberation Sans", sans-serif' transform="rotate(0.03 182.0 449.711224489796)">Ermp1</text>
<text x="182.0" y="453.6030612244898" font-size="4.6" text-anchor="start" font-weight="normal" fill="#1a1a1a" stroke="#1a1a1a" stroke-width="0.07" font-family='"Liberation Sans", sans-serif' transform="rotate(0.03 182.0 453.6030612244898)">Pdha1</text>
<text x="182.0" y="457.49489795918373" font-size="4.6" text-anchor="start" font-weight="normal" fill="#1a1a1a" stroke="#1a1a1a" stroke-width="0.07" font-family='"Liberation Sans", sans-serif' transform="rotate(0.03 182.0 457.49489795918373)">Selenop</text>
<text x="182.0" y="461.3867346938776" font-size="4.6" text-anchor="start" font-weight="normal" fill="#1a1a1a" stroke="#1a1a1a" stroke-width="0.07" font-family='"Liberation Sans", sans-serif' transform="rotate(0.03 182.0 461.3867346938776)">Lbp</text>
<text x="182.0" y="465.27857142857147" font-size="4.6" text-anchor="start" font-weight="normal" fill="#1a1a1a" stroke="#1a1a1a" stroke-width="0.07" font-family='"Liberation Sans", sans-serif' transform="rotate(0.03 182.0 465.27857142857147)">Emc3</text>
<text x="182.0" y="469.17040816326534" font-size="4.6" text-anchor="start" font-weight="normal" fill="#1a1a1a" stroke="#1a1a1a" stroke-width="0.07" font-family='"Liberation Sans", sans-serif' transform="rotate(0.03 182.0 469.17040816326534)">Aspg</text>
<text x="182.0" y="473.0622448979592" font-size="4.6" text-anchor="start" font-weight="normal" fill="#1a1a1a" stroke="#1a1a1a" stroke-width="0.07" font-family='"Liberation Sans", sans-serif' transform="rotate(0.03 182.0 473.0622448979592)">Abhd6</text>
<text x="182.0" y="476.95408163265313" font-size="4.6" text-anchor="start" font-weight="normal" fill="#1a1a1a" stroke="#1a1a1a" stroke-width="0.07" font-family='"Liberation Sans", sans-serif' transform="rotate(0.03 182.0 476.95408163265313)">Sco1</text>
<text x="181.6" y="284.6" font-size="5.6" text-anchor="start" font-weight="bold" fill="#1a1a1a" stroke="#1a1a1a" stroke-width="0.05" font-family='"Liberation Sans", sans-serif' transform="rotate(0.03 181.6 284.6)">Group</text>
<text x="39.868750000000006" y="479.6" font-size="4.7" text-anchor="start" font-weight="normal" fill="#222" stroke="#222" stroke-width="0.12" font-family='"Liberation Sans", sans-serif' transform="rotate(90.03 39.868750000000006 479.6)">si2_mRNA</text>
<text x="58.206250000000004" y="479.6" font-size="4.7" text-anchor="start" font-weight="normal" fill="#222" stroke="#222" stroke-width="0.12" font-family='"Liberation Sans", sans-serif' transform="rotate(90.03 58.206250000000004 479.6)">si1_mRNA</text>
<text x="76.54375" y="479.6" font-size="4.7" text-anchor="start" font-weight="normal" fill="#222" stroke="#222" stroke-width="0.12" font-family='"Liberation Sans", sans-serif' transform="rotate(90.03 76.54375 479.6)">si3_mRNA</text>
<text x="94.88125" y="479.6" font-size="4.7" text-anchor="start" font-weight="normal" fill="#222" stroke="#222" stroke-width="0.12" font-family='"Liberation Sans", sans-serif' transform="rotate(90.03 94.88125 479.6)">si4_mRNA</text>
<text x="113.21875" y="479.6" font-size="4.7" text-anchor="start" font-weight="normal" fill="#222" stroke="#222" stroke-width="0.12" font-family='"Liberation Sans", sans-serif' transform="rotate(90.03 113.21875 479.6)">nc1_mRNA</text>
<text x="131.55625" y="479.6" font-size="4.7" text-anchor="start" font-weight="normal" fill="#222" stroke="#222" stroke-width="0.12" font-family='"Liberation Sans", sans-serif' transform="rotate(90.03 131.55625 479.6)">nc3_mRNA</text>
<text x="149.89375" y="479.6" font-size="4.7" text-anchor="start" font-weight="normal" fill="#222" stroke="#222" stroke-width="0.12" font-family='"Liberation Sans", sans-serif' transform="rotate(90.03 149.89375 479.6)">nc4_mRNA</text>
<text x="168.23125000000002" y="479.6" font-size="4.7" text-anchor="start" font-weight="normal" fill="#222" stroke="#222" stroke-width="0.12" font-family='"Liberation Sans", sans-serif' transform="rotate(90.03 168.23125000000002 479.6)">nc2_mRNA</text>
<line x1="81.4" y1="256.5" x2="143.6" y2="256.5" stroke="#3a3a3a" stroke-width="0.5"/>
<line x1="81.4" y1="256.5" x2="81.4" y2="278.1" stroke="#3a3a3a" stroke-width="0.5"/>
<line x1="143.6" y1="256.5" x2="143.6" y2="276.9" stroke="#3a3a3a" stroke-width="0.5"/>
<line x1="65.19062500000001" y1="278.1" x2="97.28125" y2="278.1" stroke="#3a3a3a" stroke-width="0.45"/>
<line x1="97.28125" y1="278.1" x2="97.28125" y2="280.2" stroke="#3a3a3a" stroke-width="0.45"/>
<line x1="65.19062500000001" y1="278.1" x2="65.19062500000001" y2="278.6" stroke="#3a3a3a" stroke-width="0.45"/>
<line x1="51.4375" y1="278.6" x2="78.94375000000001" y2="278.6" stroke="#3a3a3a" stroke-width="0.45"/>
<line x1="78.94375000000001" y1="278.6" x2="78.94375000000001" y2="280.2" stroke="#3a3a3a" stroke-width="0.45"/>
<line x1="51.4375" y1="278.6" x2="51.4375" y2="279.1" stroke="#3a3a3a" stroke-width="0.45"/>
<line x1="42.268750000000004" y1="279.1" x2="60.60625" y2="279.1" stroke="#3a3a3a" stroke-width="0.45"/>
<line x1="42.268750000000004" y1="279.1" x2="42.268750000000004" y2="280.2" stroke="#3a3a3a" stroke-width="0.45"/>
<line x1="60.60625" y1="279.1" x2="60.60625" y2="280.2" stroke="#3a3a3a" stroke-width="0.45"/>
<line x1="124.78750000000001" y1="276.9" x2="161.46250000000003" y2="276.9" stroke="#3a3a3a" stroke-width="0.45"/>
<line x1="124.78750000000001" y1="276.9" x2="124.78750000000001" y2="277.6" stroke="#3a3a3a" stroke-width="0.45"/>
<line x1="161.46250000000003" y1="276.9" x2="161.46250000000003" y2="278.4" stroke="#3a3a3a" stroke-width="0.45"/>
<line x1="115.61875" y1="277.6" x2="133.95625" y2="277.6" stroke="#3a3a3a" stroke-width="0.45"/>
<line x1="115.61875" y1="277.6" x2="115.61875" y2="280.2" stroke="#3a3a3a" stroke-width="0.45"/>
<line x1="133.95625" y1="277.6" x2="133.95625" y2="280.2" stroke="#3a3a3a" stroke-width="0.45"/>
<line x1="152.29375000000002" y1="278.4" x2="170.63125000000002" y2="278.4" stroke="#3a3a3a" stroke-width="0.45"/>
<line x1="152.29375000000002" y1="278.4" x2="152.29375000000002" y2="280.2" stroke="#3a3a3a" stroke-width="0.45"/>
<line x1="170.63125000000002" y1="278.4" x2="170.63125000000002" y2="280.2" stroke="#3a3a3a" stroke-width="0.45"/>
<line x1="7.1" y1="324.4" x2="30.6" y2="324.4" stroke="#3a3a3a" stroke-width="0.5"/>
<line x1="7.1" y1="398.7" x2="30.6" y2="398.7" stroke="#3a3a3a" stroke-width="0.5"/>
<line x1="7.1" y1="324.4" x2="7.1" y2="398.7" stroke="#3a3a3a" stroke-width="0.5"/>
<path d="M33.0 287.2 Q30.2 300 30.9 324.4 Q30.4 340 33.0 348.4" fill="none" stroke="#1a1a1a" stroke-width="0.9" stroke-dasharray="3.2 1.1 1.6 0.9"/>
<path d="M33.0 349.6 Q30.0 372 30.8 398.7 Q30.2 440 32.8 476.8" fill="none" stroke="#1a1a1a" stroke-width="0.9" stroke-dasharray="3.2 1.1 1.6 0.9"/>
<path d="M32.6 289 Q31.4 305 31.9 324 Q31.6 338 32.8 347" fill="none" stroke="#777" stroke-width="0.5" stroke-dasharray="1.5 1.3"/>
<path d="M32.6 352 Q31.2 375 31.8 399 Q31.4 440 32.7 474" fill="none" stroke="#777" stroke-width="0.5" stroke-dasharray="1.5 1.3"/>
<defs><linearGradient id="hg" x1="0" y1="0" x2="0" y2="1"><stop offset="0" stop-color="#ff2a18"/><stop offset="0.5" stop-color="#ffffff"/><stop offset="1" stop-color="#2c42aa"/></linearGradient></defs>
<rect x="205.60" y="279.90" width="5.20" height="64.10" fill="url(#hg)" stroke="none" stroke-width="0.5"/>
<text x="215.9" y="286.20000000000005" font-size="4.4" text-anchor="middle" font-weight="normal" fill="#333" stroke="#333" stroke-width="0.05" font-family='"Liberation Sans", sans-serif' transform="rotate(0.03 215.9 286.20000000000005)">1</text>
<text x="215.9" y="300.20000000000005" font-size="4.4" text-anchor="middle" font-weight="normal" fill="#333" stroke="#333" stroke-width="0.05" font-family='"Liberation Sans", sans-serif' transform="rotate(0.03 215.9 300.20000000000005)">0.5</text>
<text x="215.9" y="314.20000000000005" font-size="4.4" text-anchor="middle" font-weight="normal" fill="#333" stroke="#333" stroke-width="0.05" font-family='"Liberation Sans", sans-serif' transform="rotate(0.03 215.9 314.20000000000005)">0</text>
<text x="215.9" y="328.20000000000005" font-size="4.4" text-anchor="middle" font-weight="normal" fill="#333" stroke="#333" stroke-width="0.05" font-family='"Liberation Sans", sans-serif' transform="rotate(0.03 215.9 328.20000000000005)">-0.5</text>
<text x="215.9" y="341.90000000000003" font-size="4.4" text-anchor="middle" font-weight="normal" fill="#333" stroke="#333" stroke-width="0.05" font-family='"Liberation Sans", sans-serif' transform="rotate(0.03 215.9 341.90000000000003)">-1</text>
<text x="227.1" y="283.5" font-size="5.6" text-anchor="start" font-weight="bold" fill="#222" stroke="#222" stroke-width="0.05" font-family='"Liberation Sans", sans-serif' transform="rotate(0.03 227.1 283.5)">Group</text>
<rect x="227.40" y="285.00" width="7.70" height="7.40" fill="#20bec8" stroke="none" stroke-width="0.5"/>
<rect x="227.40" y="292.40" width="7.70" height="7.40" fill="#f78a88" stroke="none" stroke-width="0.5"/>
<text x="236.9" y="290.8" font-size="5.6" text-anchor="start" font-weight="normal" fill="#333" stroke="#333" stroke-width="0.05" font-family='"Liberation Sans", sans-serif' transform="rotate(0.03 236.9 290.8)">nc</text>
<text x="236.9" y="298.1" font-size="5.6" text-anchor="start" font-weight="normal" fill="#333" stroke="#333" stroke-width="0.05" font-family='"Liberation Sans", sans-serif' transform="rotate(0.03 236.9 298.1)">si</text>
</g>
<g id="kegg">
<rect x="374.50" y="278.50" width="150.90" height="210.00" fill="#fff" stroke="none" stroke-width="0.5"/>
<line x1="380.6" y1="278.5" x2="380.6" y2="488.5" stroke="#ececec" stroke-width="0.5"/>
<line x1="407.96000000000004" y1="278.5" x2="407.96000000000004" y2="488.5" stroke="#ececec" stroke-width="0.5"/>
<line x1="435.32000000000005" y1="278.5" x2="435.32000000000005" y2="488.5" stroke="#ececec" stroke-width="0.5"/>
<line x1="462.68000000000006" y1="278.5" x2="462.68000000000006" y2="488.5" stroke="#ececec" stroke-width="0.5"/>
<line x1="490.04" y1="278.5" x2="490.04" y2="488.5" stroke="#ececec" stroke-width="0.5"/>
<line x1="517.4000000000001" y1="278.5" x2="517.4000000000001" y2="488.5" stroke="#ececec" stroke-width="0.5"/>
<line x1="394.28000000000003" y1="278.5" x2="394.28000000000003" y2="488.5" stroke="#f2f2f2" stroke-width="0.3"/>
<line x1="421.64000000000004" y1="278.5" x2="421.64000000000004" y2="488.5" stroke="#f2f2f2" stroke-width="0.3"/>
<line x1="449.0" y1="278.5" x2="449.0" y2="488.5" stroke="#f2f2f2" stroke-width="0.3"/>
<line x1="476.36" y1="278.5" x2="476.36" y2="488.5" stroke="#f2f2f2" stroke-width="0.3"/>
<line x1="503.72" y1="278.5" x2="503.72" y2="488.5" stroke="#f2f2f2" stroke-width="0.3"/>
<line x1="374.5" y1="283.7" x2="525.4" y2="283.7" stroke="#ececec" stroke-width="0.5"/>
<line x1="374.5" y1="290.6413793103448" x2="525.4" y2="290.6413793103448" stroke="#ececec" stroke-width="0.5"/>
<line x1="374.5" y1="297.5827586206896" x2="525.4" y2="297.5827586206896" stroke="#ececec" stroke-width="0.5"/>
<line x1="374.5" y1="304.5241379310345" x2="525.4" y2="304.5241379310345" stroke="#ececec" stroke-width="0.5"/>
<line x1="374.5" y1="311.4655172413793" x2="525.4" y2="311.4655172413793" stroke="#ececec" stroke-width="0.5"/>
<line x1="374.5" y1="318.4068965517241" x2="525.4" y2="318.4068965517241" stroke="#ececec" stroke-width="0.5"/>
<line x1="374.5" y1="325.34827586206893" x2="525.4" y2="325.34827586206893" stroke="#ececec" stroke-width="0.5"/>
<line x1="374.5" y1="332.2896551724138" x2="525.4" y2="332.2896551724138" stroke="#ececec" stroke-width="0.5"/>
<line x1="374.5" y1="339.2310344827586" x2="525.4" y2="339.2310344827586" stroke="#ececec" stroke-width="0.5"/>
<line x1="374.5" y1="346.17241379310343" x2="525.4" y2="346.17241379310343" stroke="#ececec" stroke-width="0.5"/>
<line x1="374.5" y1="353.11379310344824" x2="525.4" y2="353.11379310344824" stroke="#ececec" stroke-width="0.5"/>
<line x1="374.5" y1="360.0551724137931" x2="525.4" y2="360.0551724137931" stroke="#ececec" stroke-width="0.5"/>
<line x1="374.5" y1="366.99655172413793" x2="525.4" y2="366.99655172413793" stroke="#ececec" stroke-width="0.5"/>
<line x1="374.5" y1="373.93793103448274" x2="525.4" y2="373.93793103448274" stroke="#ececec" stroke-width="0.5"/>
<line x1="374.5" y1="380.87931034482756" x2="525.4" y2="380.87931034482756" stroke="#ececec" stroke-width="0.5"/>
<line x1="374.5" y1="387.8206896551724" x2="525.4" y2="387.8206896551724" stroke="#ececec" stroke-width="0.5"/>
<line x1="374.5" y1="394.76206896551724" x2="525.4" y2="394.76206896551724" stroke="#ececec" stroke-width="0.5"/>
<line x1="374.5" y1="401.70344827586206" x2="525.4" y2="401.70344827586206" stroke="#ececec" stroke-width="0.5"/>
<line x1="374.5" y1="408.6448275862069" x2="525.4" y2="408.6448275862069" stroke="#ececec" stroke-width="0.5"/>
<line x1="374.5" y1="415.58620689655174" x2="525.4" y2="415.58620689655174" stroke="#ececec" stroke-width="0.5"/>
<line x1="374.5" y1="422.52758620689656" x2="525.4" y2="422.52758620689656" stroke="#ececec" stroke-width="0.5"/>
<line x1="374.5" y1="429.4689655172414" x2="525.4" y2="429.4689655172414" stroke="#ececec" stroke-width="0.5"/>
<line x1="374.5" y1="436.4103448275862" x2="525.4" y2="436.4103448275862" stroke="#ececec" stroke-width="0.5"/>
<line x1="374.5" y1="443.351724137931" x2="525.4" y2="443.351724137931" stroke="#ececec" stroke-width="0.5"/>
<line x1="374.5" y1="450.2931034482758" x2="525.4" y2="450.2931034482758" stroke="#ececec" stroke-width="0.5"/>
<line x1="374.5" y1="457.2344827586207" x2="525.4" y2="457.2344827586207" stroke="#ececec" stroke-width="0.5"/>
<line x1="374.5" y1="464.1758620689655" x2="525.4" y2="464.1758620689655" stroke="#ececec" stroke-width="0.5"/>
<line x1="374.5" y1="471.11724137931037" x2="525.4" y2="471.11724137931037" stroke="#ececec" stroke-width="0.5"/>
<line x1="374.5" y1="478.0586206896552" x2="525.4" y2="478.0586206896552" stroke="#ececec" stroke-width="0.5"/>
<line x1="374.5" y1="485.0" x2="525.4" y2="485.0" stroke="#ececec" stroke-width="0.5"/>
<circle cx="518.77" cy="283.70" r="2.95" fill="#ff0a14"/>
<line x1="373.4" y1="283.7" x2="374.5" y2="283.7" stroke="#555" stroke-width="0.35"/>
<text x="372.2" y="285.2" font-size="4.35" text-anchor="end" font-weight="normal" fill="#1a1a1a" stroke="#1a1a1a" stroke-width="0.09" font-family='"Liberation Sans", sans-serif' transform="rotate(0.03 372.2 285.2)">Human papillomavirus infection</text>
<circle cx="492.78" cy="290.64" r="2.85" fill="#ff0a14"/>
<line x1="373.4" y1="290.6413793103448" x2="374.5" y2="290.6413793103448" stroke="#555" stroke-width="0.35"/>
<text x="372.2" y="292.1413793103448" font-size="4.35" text-anchor="end" font-weight="normal" fill="#1a1a1a" stroke="#1a1a1a" stroke-width="0.09" font-family='"Liberation Sans", sans-serif' transform="rotate(0.03 372.2 292.1413793103448)">Epstein-Barr virus infection</text>
<circle cx="479.92" cy="297.58" r="2.76" fill="#d1148e"/>
<line x1="373.4" y1="297.5827586206896" x2="374.5" y2="297.5827586206896" stroke="#555" stroke-width="0.35"/>
<text x="372.2" y="299.0827586206896" font-size="4.35" text-anchor="end" font-weight="normal" fill="#1a1a1a" stroke="#1a1a1a" stroke-width="0.09" font-family='"Liberation Sans", sans-serif' transform="rotate(0.03 372.2 299.0827586206896)">Cytokine-cytokine receptor interaction</text>
<circle cx="471.44" cy="304.52" r="2.70" fill="#fd0b21"/>
<line x1="373.4" y1="304.5241379310345" x2="374.5" y2="304.5241379310345" stroke="#555" stroke-width="0.35"/>
<text x="372.2" y="306.0241379310345" font-size="4.35" text-anchor="end" font-weight="normal" fill="#1a1a1a" stroke="#1a1a1a" stroke-width="0.09" font-family='"Liberation Sans", sans-serif' transform="rotate(0.03 372.2 306.0241379310345)">Rap1 signaling pathway</text>
<circle cx="471.44" cy="311.47" r="2.70" fill="#fd0b21"/>
<line x1="373.4" y1="311.4655172413793" x2="374.5" y2="311.4655172413793" stroke="#555" stroke-width="0.35"/>
<text x="372.2" y="312.9655172413793" font-size="4.35" text-anchor="end" font-weight="normal" fill="#1a1a1a" stroke="#1a1a1a" stroke-width="0.09" font-family='"Liberation Sans", sans-serif' transform="rotate(0.03 372.2 312.9655172413793)">Coronavirus disease - COVID-19</text>
<circle cx="462.68" cy="318.41" r="2.60" fill="#fb0d2f"/>
<line x1="373.4" y1="318.4068965517241" x2="374.5" y2="318.4068965517241" stroke="#555" stroke-width="0.35"/>
<text x="372.2" y="319.9068965517241" font-size="4.35" text-anchor="end" font-weight="normal" fill="#1a1a1a" stroke="#1a1a1a" stroke-width="0.09" font-family='"Liberation Sans", sans-serif' transform="rotate(0.03 372.2 319.9068965517241)">NOD-like receptor signaling pathway</text>
<circle cx="462.68" cy="325.35" r="2.60" fill="#f60f49"/>
<line x1="373.4" y1="325.34827586206893" x2="374.5" y2="325.34827586206893" stroke="#555" stroke-width="0.35"/>
<text x="372.2" y="326.84827586206893" font-size="4.35" text-anchor="end" font-weight="normal" fill="#1a1a1a" stroke="#1a1a1a" stroke-width="0.09" font-family='"Liberation Sans", sans-serif' transform="rotate(0.03 372.2 326.84827586206893)">Calcium signaling pathway</text>
<circle cx="454.47" cy="332.29" r="2.50" fill="#fd0b21"/>
<line x1="373.4" y1="332.2896551724138" x2="374.5" y2="332.2896551724138" stroke="#555" stroke-width="0.35"/>
<text x="372.2" y="333.7896551724138" font-size="4.35" text-anchor="end" font-weight="normal" fill="#1a1a1a" stroke="#1a1a1a" stroke-width="0.09" font-family='"Liberation Sans", sans-serif' transform="rotate(0.03 372.2 333.7896551724138)">Axon guidance</text>
<circle cx="454.47" cy="339.23" r="2.50" fill="#f80e3c"/>
<line x1="373.4" y1="339.2310344827586" x2="374.5" y2="339.2310344827586" stroke="#555" stroke-width="0.35"/>
<text x="372.2" y="340.7310344827586" font-size="4.35" text-anchor="end" font-weight="normal" fill="#1a1a1a" stroke="#1a1a1a" stroke-width="0.09" font-family='"Liberation Sans", sans-serif' transform="rotate(0.03 372.2 340.7310344827586)">Lipid and atherosclerosis</text>
<circle cx="450.09" cy="346.17" r="2.45" fill="#f80e3c"/>
<line x1="373.4" y1="346.17241379310343" x2="374.5" y2="346.17241379310343" stroke="#555" stroke-width="0.35"/>
<text x="372.2" y="347.67241379310343" font-size="4.35" text-anchor="end" font-weight="normal" fill="#1a1a1a" stroke="#1a1a1a" stroke-width="0.09" font-family='"Liberation Sans", sans-serif' transform="rotate(0.03 372.2 347.67241379310343)">Focal adhesion</text>
<circle cx="450.09" cy="353.11" r="2.45" fill="#8a29a3"/>
<line x1="373.4" y1="353.11379310344824" x2="374.5" y2="353.11379310344824" stroke="#555" stroke-width="0.35"/>
<text x="372.2" y="354.61379310344824" font-size="4.35" text-anchor="end" font-weight="normal" fill="#1a1a1a" stroke="#1a1a1a" stroke-width="0.09" font-family='"Liberation Sans", sans-serif' transform="rotate(0.03 372.2 354.61379310344824)">cAMP signaling pathway</text>
<circle cx="445.72" cy="360.06" r="2.41" fill="#e81167"/>
<line x1="373.4" y1="360.0551724137931" x2="374.5" y2="360.0551724137931" stroke="#555" stroke-width="0.35"/>
<text x="372.2" y="361.5551724137931" font-size="4.35" text-anchor="end" font-weight="normal" fill="#1a1a1a" stroke="#1a1a1a" stroke-width="0.09" font-family='"Liberation Sans", sans-serif' transform="rotate(0.03 372.2 361.5551724137931)">Proteoglycans in cancer</text>
<circle cx="441.34" cy="367.00" r="2.38" fill="#f60f49"/>
<line x1="373.4" y1="366.99655172413793" x2="374.5" y2="366.99655172413793" stroke="#555" stroke-width="0.35"/>
<text x="372.2" y="368.49655172413793" font-size="4.35" text-anchor="end" font-weight="normal" fill="#1a1a1a" stroke="#1a1a1a" stroke-width="0.09" font-family='"Liberation Sans", sans-serif' transform="rotate(0.03 372.2 368.49655172413793)">Chemokine signaling pathway</text>
<circle cx="432.86" cy="373.94" r="2.31" fill="#f60f49"/>
<line x1="373.4" y1="373.93793103448274" x2="374.5" y2="373.93793103448274" stroke="#555" stroke-width="0.35"/>
<text x="372.2" y="375.43793103448274" font-size="4.35" text-anchor="end" font-weight="normal" fill="#1a1a1a" stroke="#1a1a1a" stroke-width="0.09" font-family='"Liberation Sans", sans-serif' transform="rotate(0.03 372.2 375.43793103448274)">Influenza A</text>
<circle cx="428.48" cy="380.88" r="2.27" fill="#bc1999"/>
<line x1="373.4" y1="380.87931034482756" x2="374.5" y2="380.87931034482756" stroke="#555" stroke-width="0.35"/>
<text x="372.2" y="382.37931034482756" font-size="4.35" text-anchor="end" font-weight="normal" fill="#1a1a1a" stroke="#1a1a1a" stroke-width="0.09" font-family='"Liberation Sans", sans-serif' transform="rotate(0.03 372.2 382.37931034482756)">Wnt signaling pathway</text>
<circle cx="424.38" cy="387.82" r="2.24" fill="#8a29a3"/>
<line x1="373.4" y1="387.8206896551724" x2="374.5" y2="387.8206896551724" stroke="#555" stroke-width="0.35"/>
<text x="372.2" y="389.3206896551724" font-size="4.35" text-anchor="end" font-weight="normal" fill="#1a1a1a" stroke="#1a1a1a" stroke-width="0.09" font-family='"Liberation Sans", sans-serif' transform="rotate(0.03 372.2 389.3206896551724)">Hepatitis C</text>
<circle cx="420.00" cy="394.76" r="2.20" fill="#fd0b21"/>
<line x1="373.4" y1="394.76206896551724" x2="374.5" y2="394.76206896551724" stroke="#555" stroke-width="0.35"/>
<text x="372.2" y="396.26206896551724" font-size="4.35" text-anchor="end" font-weight="normal" fill="#1a1a1a" stroke="#1a1a1a" stroke-width="0.09" font-family='"Liberation Sans", sans-serif' transform="rotate(0.03 372.2 396.26206896551724)">TNF signaling pathway</text>
<circle cx="415.62" cy="401.70" r="2.15" fill="#762ea6"/>
<line x1="373.4" y1="401.70344827586206" x2="374.5" y2="401.70344827586206" stroke="#555" stroke-width="0.35"/>
<text x="372.2" y="403.20344827586206" font-size="4.35" text-anchor="end" font-weight="normal" fill="#1a1a1a" stroke="#1a1a1a" stroke-width="0.09" font-family='"Liberation Sans", sans-serif' transform="rotate(0.03 372.2 403.20344827586206)">Fluid shear stress and atherosclerosis</text>
<circle cx="411.52" cy="408.64" r="2.10" fill="#fd0b21"/>
<line x1="373.4" y1="408.6448275862069" x2="374.5" y2="408.6448275862069" stroke="#555" stroke-width="0.35"/>
<text x="372.2" y="410.1448275862069" font-size="4.35" text-anchor="end" font-weight="normal" fill="#1a1a1a" stroke="#1a1a1a" stroke-width="0.09" font-family='"Liberation Sans", sans-serif' transform="rotate(0.03 372.2 410.1448275862069)">ECM-receptor interaction</text>
<circle cx="407.14" cy="415.59" r="2.05" fill="#fd0b21"/>
<line x1="373.4" y1="415.58620689655174" x2="374.5" y2="415.58620689655174" stroke="#555" stroke-width="0.35"/>
<text x="372.2" y="417.08620689655174" font-size="4.35" text-anchor="end" font-weight="normal" fill="#1a1a1a" stroke="#1a1a1a" stroke-width="0.09" font-family='"Liberation Sans", sans-serif' transform="rotate(0.03 372.2 417.08620689655174)">AGE-RAGE signaling pathway in diabetic complications</text>
<circle cx="407.14" cy="422.53" r="2.05" fill="#8a29a3"/>
<line x1="373.4" y1="422.52758620689656" x2="374.5" y2="422.52758620689656" stroke="#555" stroke-width="0.35"/>
<text x="372.2" y="424.02758620689656" font-size="4.35" text-anchor="end" font-weight="normal" fill="#1a1a1a" stroke="#1a1a1a" stroke-width="0.09" font-family='"Liberation Sans", sans-serif' transform="rotate(0.03 372.2 424.02758620689656)">Inflammatory mediator regulation of TRP channels</text>
<circle cx="402.76" cy="429.47" r="2.00" fill="#fd0b21"/>
<line x1="373.4" y1="429.4689655172414" x2="374.5" y2="429.4689655172414" stroke="#555" stroke-width="0.35"/>
<text x="372.2" y="430.9689655172414" font-size="4.35" text-anchor="end" font-weight="normal" fill="#1a1a1a" stroke="#1a1a1a" stroke-width="0.09" font-family='"Liberation Sans", sans-serif' transform="rotate(0.03 372.2 430.9689655172414)">Endocrine resistance</text>
<circle cx="402.76" cy="436.41" r="2.00" fill="#fd0b21"/>
<line x1="373.4" y1="436.4103448275862" x2="374.5" y2="436.4103448275862" stroke="#555" stroke-width="0.35"/>
<text x="372.2" y="437.9103448275862" font-size="4.35" text-anchor="end" font-weight="normal" fill="#1a1a1a" stroke="#1a1a1a" stroke-width="0.09" font-family='"Liberation Sans", sans-serif' transform="rotate(0.03 372.2 437.9103448275862)">Dilated cardiomyopathy</text>
<circle cx="402.76" cy="443.35" r="2.00" fill="#fd0b21"/>
<line x1="373.4" y1="443.351724137931" x2="374.5" y2="443.351724137931" stroke="#555" stroke-width="0.35"/>
<text x="372.2" y="444.851724137931" font-size="4.35" text-anchor="end" font-weight="normal" fill="#1a1a1a" stroke="#1a1a1a" stroke-width="0.09" font-family='"Liberation Sans", sans-serif' transform="rotate(0.03 372.2 444.851724137931)">Viral protein interaction with cytokine and cytokine receptor</text>
<circle cx="398.66" cy="450.29" r="1.93" fill="#9b24a0"/>
<line x1="373.4" y1="450.2931034482758" x2="374.5" y2="450.2931034482758" stroke="#555" stroke-width="0.35"/>
<text x="372.2" y="451.7931034482758" font-size="4.35" text-anchor="end" font-weight="normal" fill="#1a1a1a" stroke="#1a1a1a" stroke-width="0.09" font-family='"Liberation Sans", sans-serif' transform="rotate(0.03 372.2 451.7931034482758)">Amoebiasis</text>
<circle cx="394.28" cy="457.23" r="1.85" fill="#cd1496"/>
<line x1="373.4" y1="457.2344827586207" x2="374.5" y2="457.2344827586207" stroke="#555" stroke-width="0.35"/>
<text x="372.2" y="458.7344827586207" font-size="4.35" text-anchor="end" font-weight="normal" fill="#1a1a1a" stroke="#1a1a1a" stroke-width="0.09" font-family='"Liberation Sans", sans-serif' transform="rotate(0.03 372.2 458.7344827586207)">Complement and coagulation cascades</text>
<circle cx="394.28" cy="464.18" r="1.85" fill="#1440b0"/>
<line x1="373.4" y1="464.1758620689655" x2="374.5" y2="464.1758620689655" stroke="#555" stroke-width="0.35"/>
<text x="372.2" y="465.6758620689655" font-size="4.35" text-anchor="end" font-weight="normal" fill="#1a1a1a" stroke="#1a1a1a" stroke-width="0.09" font-family='"Liberation Sans", sans-serif' transform="rotate(0.03 372.2 465.6758620689655)">Aldosterone synthesis and secretion</text>
<circle cx="385.80" cy="471.12" r="1.60" fill="#ff0a14"/>
<line x1="373.4" y1="471.11724137931037" x2="374.5" y2="471.11724137931037" stroke="#555" stroke-width="0.35"/>
<text x="372.2" y="472.61724137931037" font-size="4.35" text-anchor="end" font-weight="normal" fill="#1a1a1a" stroke="#1a1a1a" stroke-width="0.09" font-family='"Liberation Sans", sans-serif' transform="rotate(0.03 372.2 472.61724137931037)">Regulation of lipolysis in adipocytes</text>
<circle cx="385.80" cy="478.06" r="1.45" fill="#9b24a0"/>
<line x1="373.4" y1="478.0586206896552" x2="374.5" y2="478.0586206896552" stroke="#555" stroke-width="0.35"/>
<text x="372.2" y="479.5586206896552" font-size="4.35" text-anchor="end" font-weight="normal" fill="#1a1a1a" stroke="#1a1a1a" stroke-width="0.09" font-family='"Liberation Sans", sans-serif' transform="rotate(0.03 372.2 479.5586206896552)">EGFR tyrosine kinase inhibitor resistance</text>
<circle cx="381.42" cy="485.00" r="1.15" fill="#1440b0"/>
<line x1="373.4" y1="485.0" x2="374.5" y2="485.0" stroke="#555" stroke-width="0.35"/>
<text x="372.2" y="486.5" font-size="4.35" text-anchor="end" font-weight="normal" fill="#1a1a1a" stroke="#1a1a1a" stroke-width="0.09" font-family='"Liberation Sans", sans-serif' transform="rotate(0.03 372.2 486.5)">Prolactin signaling pathway</text>
<rect x="374.50" y="278.50" width="150.90" height="210.00" fill="none" stroke="#a8a8a8" stroke-width="0.5"/>
<line x1="380.6" y1="488.5" x2="380.6" y2="489.6" stroke="#555" stroke-width="0.35"/>
<text x="380.6" y="494.7" font-size="4.6" text-anchor="middle" font-weight="normal" fill="#444" stroke="#444" stroke-width="0.12" font-family='"Liberation Sans", sans-serif' transform="rotate(0.03 380.6 494.7)">0.02</text>
<line x1="407.96000000000004" y1="488.5" x2="407.96000000000004" y2="489.6" stroke="#555" stroke-width="0.35"/>
<text x="407.96000000000004" y="494.7" font-size="4.6" text-anchor="middle" font-weight="normal" fill="#444" stroke="#444" stroke-width="0.12" font-family='"Liberation Sans", sans-serif' transform="rotate(0.03 407.96000000000004 494.7)">0.03</text>
<line x1="435.32000000000005" y1="488.5" x2="435.32000000000005" y2="489.6" stroke="#555" stroke-width="0.35"/>
<text x="435.32000000000005" y="494.7" font-size="4.6" text-anchor="middle" font-weight="normal" fill="#444" stroke="#444" stroke-width="0.12" font-family='"Liberation Sans", sans-serif' transform="rotate(0.03 435.32000000000005 494.7)">0.04</text>
<line x1="462.68000000000006" y1="488.5" x2="462.68000000000006" y2="489.6" stroke="#555" stroke-width="0.35"/>
<text x="462.68000000000006" y="494.7" font-size="4.6" text-anchor="middle" font-weight="normal" fill="#444" stroke="#444" stroke-width="0.12" font-family='"Liberation Sans", sans-serif' transform="rotate(0.03 462.68000000000006 494.7)">0.05</text>
<line x1="490.04" y1="488.5" x2="490.04" y2="489.6" stroke="#555" stroke-width="0.35"/>
<text x="490.04" y="494.7" font-size="4.6" text-anchor="middle" font-weight="normal" fill="#444" stroke="#444" stroke-width="0.12" font-family='"Liberation Sans", sans-serif' transform="rotate(0.03 490.04 494.7)">0.06</text>
<line x1="517.4000000000001" y1="488.5" x2="517.4000000000001" y2="489.6" stroke="#555" stroke-width="0.35"/>
<text x="517.4000000000001" y="494.7" font-size="4.6" text-anchor="middle" font-weight="normal" fill="#444" stroke="#444" stroke-width="0.12" font-family='"Liberation Sans", sans-serif' transform="rotate(0.03 517.4000000000001 494.7)">0.07</text>
<text x="450.0" y="500.2" font-size="4.45" text-anchor="middle" font-weight="normal" fill="#222" stroke="#222" stroke-width="0.12" font-family='"Liberation Sans", sans-serif' transform="rotate(0.03 450.0 500.2)">GeneRatio</text>
<text x="531.0" y="361.3" font-size="3.6" text-anchor="start" font-weight="normal" fill="#222" stroke="#222" stroke-width="0.12" font-family='"Liberation Sans", sans-serif' transform="rotate(0.03 531.0 361.3)">Count</text>
<circle cx="534.2" cy="366.0" r="1.75" fill="#000"/>
<text x="539.6" y="367.0" font-size="2.8" text-anchor="start" font-weight="normal" fill="#444" stroke="#444" stroke-width="0.04" font-family='"Liberation Sans", sans-serif' transform="rotate(0.03 539.6 367.0)">20</text>
<circle cx="534.2" cy="371.6" r="2.15" fill="#000"/>
<text x="539.6" y="372.6" font-size="2.8" text-anchor="start" font-weight="normal" fill="#444" stroke="#444" stroke-width="0.04" font-family='"Liberation Sans", sans-serif' transform="rotate(0.03 539.6 372.6)">30</text>
<circle cx="534.2" cy="378.0" r="2.6" fill="#000"/>
<text x="539.6" y="379.0" font-size="2.8" text-anchor="start" font-weight="normal" fill="#444" stroke="#444" stroke-width="0.04" font-family='"Liberation Sans", sans-serif' transform="rotate(0.03 539.6 379.0)">40</text>
<text x="530.8" y="391.6" font-size="3.6" text-anchor="start" font-weight="normal" fill="#222" stroke="#222" stroke-width="0.12" font-family='"Liberation Sans", sans-serif' transform="rotate(0.03 530.8 391.6)">p.adjust</text>
<defs><linearGradient id="ag" x1="0" y1="1" x2="0" y2="0"><stop offset="0" stop-color="#ff0a14"/><stop offset="0.25" stop-color="#f51050"/><stop offset="0.5" stop-color="#cd1496"/><stop offset="0.75" stop-color="#822ca5"/><stop offset="1" stop-color="#1440b0"/></linearGradient></defs>
<rect x="531.00" y="394.20" width="2.90" height="15.80" fill="url(#ag)" stroke="none" stroke-width="0.5"/>
<text x="536.3" y="399.1" font-size="2.8" text-anchor="start" font-weight="normal" fill="#444" stroke="#444" stroke-width="0.04" font-family='"Liberation Sans", sans-serif' transform="rotate(0.03 536.3 399.1)">0.015</text>
<text x="536.3" y="403.1" font-size="2.8" text-anchor="start" font-weight="normal" fill="#444" stroke="#444" stroke-width="0.04" font-family='"Liberation Sans", sans-serif' transform="rotate(0.03 536.3 403.1)">0.010</text>
<text x="536.3" y="407.0" font-size="2.8" text-anchor="start" font-weight="normal" fill="#444" stroke="#444" stroke-width="0.04" font-family='"Liberation Sans", sans-serif' transform="rotate(0.03 536.3 407.0)">0.005</text>
</g>
</svg>
</body></html>
